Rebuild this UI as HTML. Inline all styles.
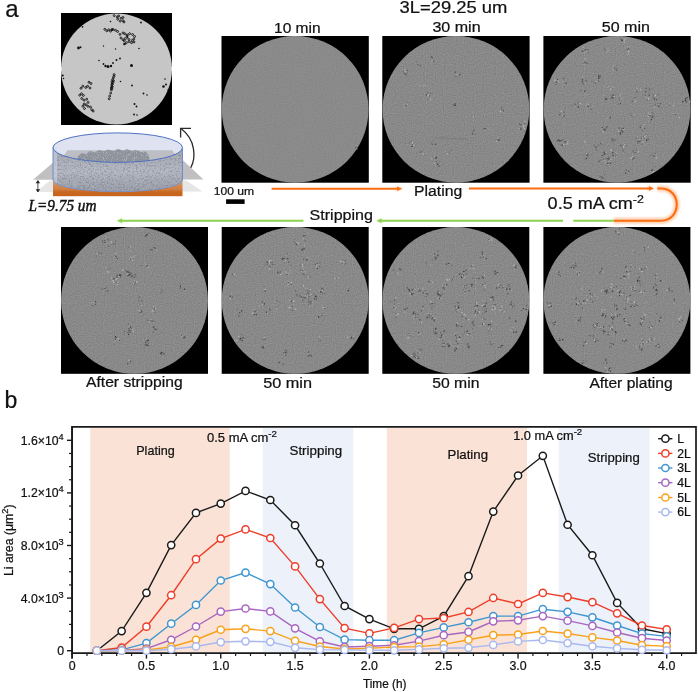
<!DOCTYPE html>
<html><head><meta charset="utf-8"><title>Figure</title>
<style>
html,body{margin:0;padding:0;background:#fff;}
body{width:698px;height:692px;overflow:hidden;}
svg{display:block;}
text{font-family:"Liberation Sans",Arial,sans-serif;fill:#111;stroke:#111;stroke-width:0.22px;}
.serif{font-family:"Liberation Serif","Times New Roman",serif;font-style:italic;stroke-width:0.45px;}
</style></head><body>
<svg width="698" height="692" viewBox="0 0 698 692">
<defs>
<filter id="glow" x="-10%" y="-100%" width="120%" height="300%"><feGaussianBlur stdDeviation="1.1"/></filter>
<filter id="grain" x="0" y="0" width="100%" height="100%" color-interpolation-filters="sRGB"><feTurbulence type="fractalNoise" baseFrequency="0.9" numOctaves="1" seed="3"/><feColorMatrix type="saturate" values="0"/><feComponentTransfer><feFuncA type="linear" slope="0" intercept="1"/></feComponentTransfer><feComposite in2="SourceGraphic" operator="in"/></filter>
</defs>

<text x="5.2" y="17.3" font-size="24" text-anchor="start" >a</text>
<text x="4.6" y="407.5" font-size="23" text-anchor="start" >b</text>
<rect x="61" y="13" width="111" height="112" fill="#000"/>
<circle cx="116.50" cy="69.00" r="55.50" fill="#c6c6c6"/>
<circle cx="114.2" cy="15.6" r="0.95" fill="none" stroke="#111" stroke-width="0.9"/>
<circle cx="117.2" cy="16.9" r="0.95" fill="none" stroke="#111" stroke-width="0.9"/>
<circle cx="118.7" cy="16.0" r="0.95" fill="none" stroke="#111" stroke-width="0.9"/>
<circle cx="121.1" cy="18.3" r="0.95" fill="none" stroke="#111" stroke-width="0.9"/>
<circle cx="123.0" cy="17.5" r="0.95" fill="none" stroke="#111" stroke-width="0.9"/>
<circle cx="117.7" cy="19.2" r="0.95" fill="none" stroke="#111" stroke-width="0.9"/>
<circle cx="120.2" cy="21.1" r="0.95" fill="none" stroke="#111" stroke-width="0.9"/>
<circle cx="122.9" cy="20.7" r="0.95" fill="none" stroke="#111" stroke-width="0.9"/>
<circle cx="124.0" cy="22.0" r="0.95" fill="none" stroke="#111" stroke-width="0.9"/>
<circle cx="104.8" cy="29.3" r="0.95" fill="none" stroke="#111" stroke-width="0.9"/>
<circle cx="106.8" cy="30.8" r="0.95" fill="none" stroke="#111" stroke-width="0.9"/>
<circle cx="108.8" cy="29.8" r="0.95" fill="none" stroke="#111" stroke-width="0.9"/>
<circle cx="110.6" cy="31.2" r="0.95" fill="none" stroke="#111" stroke-width="0.9"/>
<circle cx="113.0" cy="29.5" r="0.95" fill="none" stroke="#111" stroke-width="0.9"/>
<circle cx="115.5" cy="30.3" r="0.95" fill="none" stroke="#111" stroke-width="0.9"/>
<circle cx="117.6" cy="31.5" r="0.95" fill="none" stroke="#111" stroke-width="0.9"/>
<circle cx="112.0" cy="29.6" r="1.3" fill="#111"/>
<circle cx="120.0" cy="34.4" r="0.95" fill="none" stroke="#111" stroke-width="0.9"/>
<circle cx="123.1" cy="32.9" r="0.95" fill="none" stroke="#111" stroke-width="0.9"/>
<circle cx="124.8" cy="33.7" r="0.95" fill="none" stroke="#111" stroke-width="0.9"/>
<circle cx="127.0" cy="36.0" r="0.95" fill="none" stroke="#111" stroke-width="0.9"/>
<circle cx="125.4" cy="38.5" r="0.95" fill="none" stroke="#111" stroke-width="0.9"/>
<circle cx="123.1" cy="39.7" r="0.95" fill="none" stroke="#111" stroke-width="0.9"/>
<circle cx="121.0" cy="38.0" r="0.95" fill="none" stroke="#111" stroke-width="0.9"/>
<circle cx="127.3" cy="35.1" r="0.95" fill="none" stroke="#111" stroke-width="0.9"/>
<circle cx="129.6" cy="33.7" r="0.95" fill="none" stroke="#111" stroke-width="0.9"/>
<circle cx="132.6" cy="34.5" r="0.95" fill="none" stroke="#111" stroke-width="0.9"/>
<circle cx="134.6" cy="36.5" r="0.95" fill="none" stroke="#111" stroke-width="0.9"/>
<circle cx="133.8" cy="39.1" r="0.95" fill="none" stroke="#111" stroke-width="0.9"/>
<circle cx="132.3" cy="40.5" r="0.95" fill="none" stroke="#111" stroke-width="0.9"/>
<circle cx="129.0" cy="39.5" r="0.95" fill="none" stroke="#111" stroke-width="0.9"/>
<circle cx="124.2" cy="40.7" r="0.95" fill="none" stroke="#111" stroke-width="0.9"/>
<circle cx="126.4" cy="42.7" r="0.95" fill="none" stroke="#111" stroke-width="0.9"/>
<circle cx="129.0" cy="41.6" r="0.95" fill="none" stroke="#111" stroke-width="0.9"/>
<circle cx="131.5" cy="42.7" r="0.95" fill="none" stroke="#111" stroke-width="0.9"/>
<circle cx="134.0" cy="42.0" r="0.95" fill="none" stroke="#111" stroke-width="0.9"/>
<circle cx="124.5" cy="44.0" r="1.3" fill="#111"/>
<circle cx="127.5" cy="37.5" r="0.9" fill="#111"/>
<circle cx="78.5" cy="48.0" r="1.4" fill="#111"/>
<circle cx="80.5" cy="47.2" r="1.0" fill="#111"/>
<circle cx="82.5" cy="26.8" r="0.9" fill="#111"/>
<circle cx="110.5" cy="21.5" r="0.8" fill="#111"/>
<circle cx="141.0" cy="22.5" r="0.9" fill="#111"/>
<circle cx="99.0" cy="60.5" r="0.8" fill="#111"/>
<circle cx="103.5" cy="64.0" r="0.9" fill="#111"/>
<circle cx="105.5" cy="66.0" r="1.2" fill="#111"/>
<circle cx="108.0" cy="66.5" r="1.5" fill="#111"/>
<circle cx="111.0" cy="66.0" r="1.2" fill="#111"/>
<circle cx="113.0" cy="63.0" r="0.9" fill="#111"/>
<circle cx="116.5" cy="60.0" r="1.0" fill="#111"/>
<circle cx="120.0" cy="58.5" r="0.9" fill="#111"/>
<circle cx="131.5" cy="65.5" r="1.5" fill="#111"/>
<circle cx="120.5" cy="81.5" r="0.8" fill="#111"/>
<circle cx="132.0" cy="85.5" r="0.9" fill="#111"/>
<circle cx="143.5" cy="93.5" r="0.9" fill="#111"/>
<circle cx="147.0" cy="95.0" r="0.8" fill="#111"/>
<circle cx="163.5" cy="86.5" r="1.3" fill="#111"/>
<circle cx="166.0" cy="84.5" r="1.0" fill="#111"/>
<circle cx="62.8" cy="75.5" r="1.0" fill="#111"/>
<circle cx="63.5" cy="78.5" r="0.8" fill="#111"/>
<circle cx="134.5" cy="104.0" r="1.0" fill="#111"/>
<circle cx="136.5" cy="106.5" r="0.9" fill="#111"/>
<circle cx="134.0" cy="114.5" r="0.9" fill="#111"/>
<circle cx="137.0" cy="115.0" r="0.8" fill="#111"/>
<circle cx="103.5" cy="46.0" r="0.7" fill="#111"/>
<circle cx="115.5" cy="49.0" r="0.7" fill="#111"/>
<circle cx="139.0" cy="48.5" r="0.8" fill="#111"/>
<circle cx="165.0" cy="79.0" r="0.8" fill="#111"/>
<circle cx="168.0" cy="90.0" r="0.8" fill="#111"/>
<circle cx="114.1" cy="74.6" r="0.95" fill="none" stroke="#111" stroke-width="0.9"/>
<circle cx="114.0" cy="76.3" r="0.95" fill="none" stroke="#111" stroke-width="0.9"/>
<circle cx="113.2" cy="78.0" r="0.95" fill="none" stroke="#111" stroke-width="0.9"/>
<circle cx="113.5" cy="80.8" r="0.95" fill="none" stroke="#111" stroke-width="0.9"/>
<circle cx="112.9" cy="82.5" r="0.95" fill="none" stroke="#111" stroke-width="0.9"/>
<circle cx="112.3" cy="84.2" r="0.95" fill="none" stroke="#111" stroke-width="0.9"/>
<circle cx="112.3" cy="86.8" r="0.95" fill="none" stroke="#111" stroke-width="0.9"/>
<circle cx="111.8" cy="88.6" r="0.95" fill="none" stroke="#111" stroke-width="0.9"/>
<circle cx="111.4" cy="89.9" r="0.95" fill="none" stroke="#111" stroke-width="0.9"/>
<circle cx="110.7" cy="93.1" r="0.95" fill="none" stroke="#111" stroke-width="0.9"/>
<circle cx="109.7" cy="96.1" r="0.95" fill="none" stroke="#111" stroke-width="0.9"/>
<circle cx="109.2" cy="98.8" r="0.95" fill="none" stroke="#111" stroke-width="0.9"/>
<circle cx="112.5" cy="79.9" r="0.95" fill="none" stroke="#111" stroke-width="0.9"/>
<circle cx="111.9" cy="81.9" r="0.95" fill="none" stroke="#111" stroke-width="0.9"/>
<circle cx="111.9" cy="84.4" r="0.95" fill="none" stroke="#111" stroke-width="0.9"/>
<circle cx="111.8" cy="86.3" r="0.95" fill="none" stroke="#111" stroke-width="0.9"/>
<circle cx="111.3" cy="88.0" r="0.95" fill="none" stroke="#111" stroke-width="0.9"/>
<circle cx="79.7" cy="95.2" r="0.95" fill="none" stroke="#111" stroke-width="0.9"/>
<circle cx="81.5" cy="93.7" r="0.95" fill="none" stroke="#111" stroke-width="0.9"/>
<circle cx="83.4" cy="95.4" r="0.95" fill="none" stroke="#111" stroke-width="0.9"/>
<circle cx="81.8" cy="98.5" r="0.95" fill="none" stroke="#111" stroke-width="0.9"/>
<circle cx="84.1" cy="100.2" r="0.95" fill="none" stroke="#111" stroke-width="0.9"/>
<circle cx="86.7" cy="99.2" r="0.95" fill="none" stroke="#111" stroke-width="0.9"/>
<circle cx="88.1" cy="102.4" r="0.95" fill="none" stroke="#111" stroke-width="0.9"/>
<circle cx="86.0" cy="104.7" r="0.95" fill="none" stroke="#111" stroke-width="0.9"/>
<circle cx="88.0" cy="106.3" r="0.95" fill="none" stroke="#111" stroke-width="0.9"/>
<circle cx="90.5" cy="107.1" r="0.95" fill="none" stroke="#111" stroke-width="0.9"/>
<circle cx="91.8" cy="109.7" r="0.95" fill="none" stroke="#111" stroke-width="0.9"/>
<circle cx="93.2" cy="111.0" r="0.95" fill="none" stroke="#111" stroke-width="0.9"/>
<circle cx="81.0" cy="88.3" r="0.95" fill="none" stroke="#111" stroke-width="0.9"/>
<circle cx="82.8" cy="86.2" r="0.95" fill="none" stroke="#111" stroke-width="0.9"/>
<circle cx="85.8" cy="87.4" r="0.95" fill="none" stroke="#111" stroke-width="0.9"/>
<circle cx="87.6" cy="86.3" r="0.95" fill="none" stroke="#111" stroke-width="0.9"/>
<circle cx="90.0" cy="88.0" r="0.95" fill="none" stroke="#111" stroke-width="0.9"/>
<circle cx="84.1" cy="104.1" r="0.95" fill="none" stroke="#111" stroke-width="0.9"/>
<circle cx="82.9" cy="106.2" r="0.95" fill="none" stroke="#111" stroke-width="0.9"/>
<circle cx="84.5" cy="108.5" r="0.95" fill="none" stroke="#111" stroke-width="0.9"/>
<circle cx="89.0" cy="82.2" r="0.95" fill="none" stroke="#111" stroke-width="0.9"/>
<circle cx="91.0" cy="83.5" r="0.95" fill="none" stroke="#111" stroke-width="0.9"/>
<rect x="61" y="67" width="1" height="4" fill="#ddd"/><rect x="171" y="67" width="1" height="4" fill="#ddd"/>
<g id="cyl">
<defs>
<filter id="dep" x="0" y="0" width="100%" height="100%" color-interpolation-filters="sRGB"><feTurbulence type="fractalNoise" baseFrequency="0.55" numOctaves="2" seed="5"/><feColorMatrix type="matrix" values="0 0 0 0 0.42  0 0 0 0 0.44  0 0 0 0 0.49  -6 0 0 0 2.9"/><feGaussianBlur stdDeviation="0.45"/><feComposite in2="SourceGraphic" operator="in"/></filter>
<filter id="dep2" x="0" y="0" width="100%" height="100%" color-interpolation-filters="sRGB"><feTurbulence type="fractalNoise" baseFrequency="0.9" numOctaves="2" seed="9"/><feColorMatrix type="matrix" values="0 0 0 0 0.85  0 0 0 0 0.87  0 0 0 0 0.9  8 0 0 0 -4.7"/><feGaussianBlur stdDeviation="0.3"/><feComposite in2="SourceGraphic" operator="in"/></filter>
<linearGradient id="cu" x1="0" y1="0" x2="0" y2="1"><stop offset="0" stop-color="#d99c6a"/><stop offset="0.6" stop-color="#d07e42"/><stop offset="0.75" stop-color="#c8681f"/><stop offset="1" stop-color="#c6631c"/></linearGradient>
<linearGradient id="depg" x1="0" y1="0" x2="0" y2="1"><stop offset="0" stop-color="#9ea2ab"/><stop offset="0.25" stop-color="#a9adb7"/><stop offset="0.5" stop-color="#b3b7c1"/><stop offset="0.75" stop-color="#a2a6b0"/><stop offset="1" stop-color="#989ca6"/></linearGradient>
<clipPath id="cylclip"><path d="M53,147.65 A64.75,14.75 0 0 1 182.5,147.65 L182.5,180 A64.75,11.7 0 0 1 53,180 Z"/></clipPath>
</defs>
<polygon points="33,179.8 67.5,150.2 172.2,150.2 203.5,179.6" fill="#c0c0c0"/>
<polygon points="36,192 50,180.6 186,180.6 202.5,191.5" fill="#e6e6e6"/>
<rect x="53" y="179" width="129.5" height="17.2" fill="url(#cu)"/>
<g clip-path="url(#cylclip)">
<rect x="53" y="132" width="130" height="62" fill="#dfe3f1"/>
<polygon points="40,190 67.5,150.2 172.2,150.2 200,190" fill="#bdbec3"/>
<path d="M76,165 L78,156 L82,153 L86,154 L90,151 L95,152.5 L99,150 L104,151.5 L108,149.5 L113,151 L118,149 L123,150.5 L127,149.2 L132,151 L136,150 L141,152 L146,151.5 L149,156 L150,165Z" fill="#8f939b"/>
<path d="M76,165 L78,156 L82,153 L86,154 L90,151 L95,152.5 L99,150 L104,151.5 L108,149.5 L113,151 L118,149 L123,150.5 L127,149.2 L132,151 L136,150 L141,152 L146,151.5 L149,156 L150,165Z" fill="#000" filter="url(#dep2)" opacity="0.45"/>
<path d="M53,147.65 A64.75,14.75 0 0 0 182.5,147.65 L182.5,195 L53,195Z" fill="url(#depg)"/>
<path d="M53,147.65 A64.75,14.75 0 0 0 182.5,147.65 L182.5,195 L53,195Z" fill="#000" filter="url(#dep)" opacity="0.38"/>
<path d="M53,147.65 A64.75,14.75 0 0 0 182.5,147.65 L182.5,195 L53,195Z" fill="#000" filter="url(#dep2)" opacity="0.28"/>
<rect x="53" y="147" width="4" height="40" fill="#d5dbee" opacity="0.5"/>
</g>
<ellipse cx="117.75" cy="147.65" rx="64.75" ry="14.75" fill="none" stroke="#4f70c2" stroke-width="1"/>
<path d="M53,147.65 L53,180" stroke="#6582c8" stroke-width="0.9" fill="none"/>
<path d="M182.5,147.65 L182.5,180" stroke="#6582c8" stroke-width="0.9" fill="none"/>
<path d="M53,180 A64.75,11.7 0 0 0 182.5,180" stroke="#6f8acb" stroke-width="0.8" fill="none"/>
<path d="M37.9,181.5 L37.9,191" stroke="#222" stroke-width="0.8"/>
<path d="M36.2,183.2 L37.9,180.5 L39.6,183.2 M36.2,189.3 L37.9,192 L39.6,189.3" stroke="#222" stroke-width="0.8" fill="#222"/>
<path d="M190.7,167.7 C196,158 196,140 181,128.6" stroke="#2a2a2a" stroke-width="1.3" fill="none"/>
<path d="M191,128.4 L180.6,128.4 L180.6,137.4" stroke="#2a2a2a" stroke-width="1.3" fill="none"/>
</g>
<text class="serif" x="28.5" y="211.4" font-size="16" textLength="68" lengthAdjust="spacingAndGlyphs">L=9.75 um</text>
<rect x="221.5" y="36" width="147.3" height="146.7" fill="#000"/>
<circle cx="295.15" cy="109.35" r="73.35" fill="#8c8c8c"/>
<circle cx="295.15" cy="109.35" r="73.35" fill="#808080" filter="url(#grain)" opacity="0.12"/>
<rect x="382.3" y="36" width="147.3" height="146.7" fill="#000"/>
<circle cx="455.95" cy="109.35" r="73.35" fill="#8c8c8c"/>
<circle cx="455.95" cy="109.35" r="73.35" fill="#808080" filter="url(#grain)" opacity="0.22"/>
<rect x="430.1" y="93.2" width="1.0" height="1.0" fill="#585858"/>
<rect x="425.8" y="94.3" width="1.1" height="1.1" fill="#3a3a3a"/>
<rect x="428.5" y="95.0" width="1.3" height="1.3" fill="#585858"/>
<rect x="429.6" y="96.6" width="1.0" height="1.0" fill="#666666"/>
<rect x="428.0" y="94.3" width="1.3" height="1.3" fill="#b4b4b4"/>
<rect x="427.3" y="92.2" width="1.1" height="1.1" fill="#585858"/>
<rect x="427.3" y="95.0" width="1.3" height="1.3" fill="#a8a8a8"/>
<rect x="453.3" y="105.0" width="0.8" height="0.8" fill="#585858"/>
<rect x="455.2" y="104.5" width="1.0" height="1.0" fill="#666666"/>
<rect x="453.4" y="104.9" width="1.0" height="1.0" fill="#585858"/>
<rect x="454.8" y="103.1" width="1.0" height="1.0" fill="#585858"/>
<rect x="453.8" y="103.6" width="0.8" height="0.8" fill="#3a3a3a"/>
<rect x="454.6" y="104.6" width="1.3" height="1.3" fill="#3a3a3a"/>
<rect x="432.0" y="57.1" width="1.0" height="1.0" fill="#4a4a4a"/>
<rect x="430.7" y="56.3" width="1.3" height="1.3" fill="#4a4a4a"/>
<rect x="431.8" y="60.2" width="1.1" height="1.1" fill="#b4b4b4"/>
<rect x="432.9" y="60.5" width="1.1" height="1.1" fill="#4a4a4a"/>
<rect x="430.4" y="62.6" width="0.8" height="0.8" fill="#b4b4b4"/>
<rect x="431.0" y="60.8" width="0.8" height="0.8" fill="#585858"/>
<rect x="431.0" y="61.0" width="1.0" height="1.0" fill="#a8a8a8"/>
<rect x="409.2" y="142.1" width="1.0" height="1.0" fill="#666666"/>
<rect x="410.7" y="141.6" width="1.1" height="1.1" fill="#b4b4b4"/>
<rect x="411.3" y="145.7" width="1.3" height="1.3" fill="#3a3a3a"/>
<rect x="411.8" y="141.4" width="1.0" height="1.0" fill="#b4b4b4"/>
<rect x="412.3" y="144.0" width="0.8" height="0.8" fill="#4a4a4a"/>
<rect x="410.7" y="141.2" width="1.1" height="1.1" fill="#4a4a4a"/>
<rect x="413.2" y="144.8" width="1.1" height="1.1" fill="#c0c0c0"/>
<rect x="411.7" y="142.2" width="1.3" height="1.3" fill="#c0c0c0"/>
<rect x="458.9" y="73.9" width="1.3" height="1.3" fill="#3a3a3a"/>
<rect x="456.0" y="76.6" width="0.8" height="0.8" fill="#666666"/>
<rect x="458.4" y="73.7" width="0.8" height="0.8" fill="#c0c0c0"/>
<rect x="454.9" y="71.7" width="1.0" height="1.0" fill="#3a3a3a"/>
<rect x="459.4" y="74.8" width="0.8" height="0.8" fill="#666666"/>
<rect x="454.9" y="76.3" width="1.0" height="1.0" fill="#666666"/>
<rect x="456.4" y="74.2" width="1.1" height="1.1" fill="#a8a8a8"/>
<rect x="483.6" y="128.0" width="1.0" height="1.0" fill="#3a3a3a"/>
<rect x="487.6" y="128.5" width="1.0" height="1.0" fill="#a8a8a8"/>
<rect x="485.5" y="128.2" width="1.0" height="1.0" fill="#666666"/>
<rect x="484.8" y="128.4" width="0.8" height="0.8" fill="#3a3a3a"/>
<rect x="500.8" y="106.8" width="0.8" height="0.8" fill="#585858"/>
<rect x="500.8" y="108.5" width="1.3" height="1.3" fill="#666666"/>
<rect x="502.9" y="110.1" width="1.1" height="1.1" fill="#4a4a4a"/>
<rect x="499.9" y="110.8" width="1.3" height="1.3" fill="#c0c0c0"/>
<rect x="471.7" y="132.9" width="1.1" height="1.1" fill="#4a4a4a"/>
<rect x="472.5" y="133.2" width="1.1" height="1.1" fill="#3a3a3a"/>
<rect x="472.8" y="131.3" width="1.1" height="1.1" fill="#585858"/>
<rect x="473.3" y="129.4" width="1.3" height="1.3" fill="#585858"/>
<rect x="473.0" y="132.4" width="1.1" height="1.1" fill="#a8a8a8"/>
<rect x="474.5" y="133.0" width="0.8" height="0.8" fill="#666666"/>
<rect x="470.9" y="115.2" width="1.3" height="1.3" fill="#4a4a4a"/>
<rect x="470.2" y="115.0" width="1.3" height="1.3" fill="#a8a8a8"/>
<rect x="472.7" y="116.0" width="1.3" height="1.3" fill="#b4b4b4"/>
<rect x="403.7" y="105.8" width="0.8" height="0.8" fill="#b4b4b4"/>
<rect x="406.5" y="104.0" width="1.3" height="1.3" fill="#a8a8a8"/>
<rect x="405.6" y="105.2" width="1.1" height="1.1" fill="#4a4a4a"/>
<rect x="406.9" y="101.5" width="0.8" height="0.8" fill="#666666"/>
<rect x="496.0" y="140.3" width="1.3" height="1.3" fill="#b4b4b4"/>
<rect x="497.7" y="139.1" width="1.3" height="1.3" fill="#4a4a4a"/>
<rect x="499.2" y="139.2" width="0.8" height="0.8" fill="#c0c0c0"/>
<rect x="499.2" y="138.6" width="1.0" height="1.0" fill="#585858"/>
<rect x="496.7" y="139.1" width="1.0" height="1.0" fill="#3a3a3a"/>
<rect x="499.0" y="139.9" width="1.0" height="1.0" fill="#3a3a3a"/>
<rect x="497.3" y="138.3" width="1.1" height="1.1" fill="#b4b4b4"/>
<rect x="499.7" y="140.9" width="0.8" height="0.8" fill="#b4b4b4"/>
<rect x="430.1" y="96.7" width="1.0" height="1.0" fill="#a8a8a8"/>
<rect x="430.0" y="98.8" width="1.3" height="1.3" fill="#b4b4b4"/>
<rect x="427.5" y="99.1" width="1.1" height="1.1" fill="#666666"/>
<rect x="435.1" y="157.7" width="1.3" height="1.3" fill="#4a4a4a"/>
<rect x="432.8" y="157.5" width="0.8" height="0.8" fill="#666666"/>
<rect x="434.5" y="155.7" width="1.0" height="1.0" fill="#c0c0c0"/>
<rect x="431.2" y="158.3" width="1.0" height="1.0" fill="#c0c0c0"/>
<rect x="435.6" y="156.5" width="1.3" height="1.3" fill="#3a3a3a"/>
<rect x="436.3" y="161.3" width="1.1" height="1.1" fill="#4a4a4a"/>
<rect x="438.5" y="165.5" width="1.1" height="1.1" fill="#4a4a4a"/>
<rect x="438.9" y="161.4" width="1.0" height="1.0" fill="#666666"/>
<rect x="437.2" y="161.1" width="1.1" height="1.1" fill="#c0c0c0"/>
<rect x="434.3" y="162.9" width="1.0" height="1.0" fill="#c0c0c0"/>
<rect x="436.9" y="163.7" width="1.3" height="1.3" fill="#3a3a3a"/>
<rect x="437.1" y="160.8" width="0.8" height="0.8" fill="#585858"/>
<rect x="435.2" y="143.7" width="1.3" height="1.3" fill="#4a4a4a"/>
<rect x="432.3" y="143.7" width="1.0" height="1.0" fill="#4a4a4a"/>
<rect x="431.2" y="142.5" width="0.8" height="0.8" fill="#4a4a4a"/>
<rect x="419.4" y="151.6" width="1.1" height="1.1" fill="#585858"/>
<rect x="421.2" y="151.5" width="1.0" height="1.0" fill="#3a3a3a"/>
<rect x="422.8" y="153.4" width="1.0" height="1.0" fill="#c0c0c0"/>
<rect x="421.4" y="152.5" width="1.1" height="1.1" fill="#a8a8a8"/>
<rect x="450.3" y="153.2" width="0.8" height="0.8" fill="#a8a8a8"/>
<rect x="448.4" y="151.8" width="0.8" height="0.8" fill="#666666"/>
<rect x="446.9" y="153.3" width="1.3" height="1.3" fill="#b4b4b4"/>
<rect x="449.7" y="152.8" width="0.8" height="0.8" fill="#4a4a4a"/>
<rect x="451.7" y="151.0" width="0.8" height="0.8" fill="#b4b4b4"/>
<rect x="451.6" y="149.7" width="1.0" height="1.0" fill="#666666"/>
<rect x="450.7" y="151.2" width="1.1" height="1.1" fill="#a8a8a8"/>
<rect x="450.7" y="150.5" width="1.0" height="1.0" fill="#585858"/>
<rect x="524.2" y="130.7" width="0.8" height="0.8" fill="#4a4a4a"/>
<rect x="520.8" y="127.8" width="0.8" height="0.8" fill="#4a4a4a"/>
<rect x="523.8" y="128.2" width="1.3" height="1.3" fill="#b4b4b4"/>
<rect x="520.4" y="128.9" width="1.1" height="1.1" fill="#3a3a3a"/>
<rect x="522.7" y="125.0" width="1.3" height="1.3" fill="#a8a8a8"/>
<rect x="520.2" y="127.5" width="1.0" height="1.0" fill="#585858"/>
<rect x="520.5" y="126.5" width="0.8" height="0.8" fill="#a8a8a8"/>
<rect x="518.9" y="128.0" width="1.0" height="1.0" fill="#a8a8a8"/>
<rect x="416.8" y="64.5" width="1.3" height="1.3" fill="#b4b4b4"/>
<rect x="415.8" y="61.6" width="1.0" height="1.0" fill="#666666"/>
<rect x="419.6" y="65.2" width="1.1" height="1.1" fill="#4a4a4a"/>
<rect x="416.9" y="64.1" width="1.3" height="1.3" fill="#585858"/>
<rect x="407.1" y="72.4" width="0.8" height="0.8" fill="#666666"/>
<rect x="407.2" y="70.2" width="0.8" height="0.8" fill="#3a3a3a"/>
<rect x="405.3" y="71.3" width="0.8" height="0.8" fill="#585858"/>
<rect x="404.7" y="71.0" width="1.3" height="1.3" fill="#b4b4b4"/>
<rect x="404.0" y="68.9" width="1.0" height="1.0" fill="#b4b4b4"/>
<rect x="405.3" y="73.4" width="1.1" height="1.1" fill="#4a4a4a"/>
<rect x="405.6" y="74.4" width="1.0" height="1.0" fill="#585858"/>
<rect x="402.7" y="71.1" width="0.8" height="0.8" fill="#585858"/>
<rect x="403.9" y="72.8" width="1.0" height="1.0" fill="#4a4a4a"/>
<rect x="422.9" y="85.5" width="1.0" height="1.0" fill="#a8a8a8"/>
<rect x="419.2" y="85.3" width="1.3" height="1.3" fill="#a8a8a8"/>
<rect x="424.7" y="85.1" width="1.1" height="1.1" fill="#a8a8a8"/>
<rect x="522.7" y="125.7" width="0.8" height="0.8" fill="#b4b4b4"/>
<rect x="520.9" y="125.5" width="1.0" height="1.0" fill="#666666"/>
<rect x="524.3" y="122.6" width="1.1" height="1.1" fill="#3a3a3a"/>
<rect x="520.7" y="124.0" width="1.0" height="1.0" fill="#3a3a3a"/>
<rect x="524.2" y="126.6" width="1.0" height="1.0" fill="#585858"/>
<rect x="523.3" y="126.2" width="1.3" height="1.3" fill="#c0c0c0"/>
<rect x="524.2" y="121.3" width="1.3" height="1.3" fill="#c0c0c0"/>
<rect x="519.0" y="123.6" width="1.1" height="1.1" fill="#4a4a4a"/>
<rect x="543.4" y="36" width="147.3" height="146.7" fill="#000"/>
<circle cx="617.05" cy="109.35" r="73.35" fill="#8c8c8c"/>
<circle cx="617.05" cy="109.35" r="73.35" fill="#808080" filter="url(#grain)" opacity="0.22"/>
<rect x="604.1" y="152.2" width="1.3" height="1.3" fill="#3a3a3a"/>
<rect x="605.0" y="151.2" width="1.0" height="1.0" fill="#666666"/>
<rect x="603.5" y="153.9" width="0.8" height="0.8" fill="#4a4a4a"/>
<rect x="604.0" y="152.1" width="1.0" height="1.0" fill="#4a4a4a"/>
<rect x="603.7" y="153.3" width="1.3" height="1.3" fill="#4a4a4a"/>
<rect x="603.0" y="151.3" width="1.3" height="1.3" fill="#666666"/>
<rect x="605.3" y="151.5" width="1.3" height="1.3" fill="#b4b4b4"/>
<rect x="604.9" y="153.7" width="1.0" height="1.0" fill="#666666"/>
<rect x="597.8" y="144.6" width="1.3" height="1.3" fill="#666666"/>
<rect x="600.1" y="143.2" width="1.0" height="1.0" fill="#4a4a4a"/>
<rect x="593.9" y="144.5" width="1.0" height="1.0" fill="#585858"/>
<rect x="595.2" y="146.4" width="1.3" height="1.3" fill="#4a4a4a"/>
<rect x="595.8" y="149.2" width="1.3" height="1.3" fill="#666666"/>
<rect x="647.9" y="98.2" width="1.3" height="1.3" fill="#a8a8a8"/>
<rect x="646.4" y="97.4" width="0.8" height="0.8" fill="#c0c0c0"/>
<rect x="648.1" y="97.9" width="1.0" height="1.0" fill="#c0c0c0"/>
<rect x="646.5" y="99.6" width="1.3" height="1.3" fill="#666666"/>
<rect x="648.1" y="98.5" width="1.0" height="1.0" fill="#b4b4b4"/>
<rect x="648.6" y="94.5" width="1.3" height="1.3" fill="#4a4a4a"/>
<rect x="622.2" y="129.2" width="1.3" height="1.3" fill="#c0c0c0"/>
<rect x="620.0" y="131.9" width="1.3" height="1.3" fill="#4a4a4a"/>
<rect x="619.1" y="126.9" width="0.8" height="0.8" fill="#4a4a4a"/>
<rect x="619.8" y="133.6" width="1.0" height="1.0" fill="#3a3a3a"/>
<rect x="581.8" y="50.4" width="1.3" height="1.3" fill="#3a3a3a"/>
<rect x="585.3" y="49.3" width="1.0" height="1.0" fill="#666666"/>
<rect x="582.7" y="47.1" width="0.8" height="0.8" fill="#c0c0c0"/>
<rect x="584.6" y="49.2" width="1.3" height="1.3" fill="#4a4a4a"/>
<rect x="618.1" y="103.5" width="1.0" height="1.0" fill="#585858"/>
<rect x="620.1" y="103.1" width="1.0" height="1.0" fill="#3a3a3a"/>
<rect x="618.8" y="99.3" width="0.8" height="0.8" fill="#4a4a4a"/>
<rect x="628.2" y="50.4" width="1.3" height="1.3" fill="#c0c0c0"/>
<rect x="627.1" y="49.3" width="1.1" height="1.1" fill="#4a4a4a"/>
<rect x="627.7" y="52.9" width="1.3" height="1.3" fill="#a8a8a8"/>
<rect x="626.3" y="49.3" width="0.8" height="0.8" fill="#666666"/>
<rect x="627.4" y="50.6" width="1.3" height="1.3" fill="#b4b4b4"/>
<rect x="629.5" y="46.4" width="0.8" height="0.8" fill="#c0c0c0"/>
<rect x="629.5" y="50.0" width="0.8" height="0.8" fill="#666666"/>
<rect x="626.5" y="46.1" width="1.0" height="1.0" fill="#b4b4b4"/>
<rect x="628.0" y="48.1" width="1.0" height="1.0" fill="#4a4a4a"/>
<rect x="613.9" y="95.7" width="1.0" height="1.0" fill="#b4b4b4"/>
<rect x="612.6" y="94.5" width="1.0" height="1.0" fill="#585858"/>
<rect x="613.9" y="94.3" width="1.0" height="1.0" fill="#666666"/>
<rect x="611.6" y="95.6" width="1.0" height="1.0" fill="#4a4a4a"/>
<rect x="612.6" y="94.7" width="0.8" height="0.8" fill="#3a3a3a"/>
<rect x="611.7" y="97.0" width="0.8" height="0.8" fill="#4a4a4a"/>
<rect x="612.5" y="97.1" width="1.3" height="1.3" fill="#3a3a3a"/>
<rect x="610.6" y="97.7" width="1.3" height="1.3" fill="#585858"/>
<rect x="613.2" y="96.4" width="0.8" height="0.8" fill="#c0c0c0"/>
<rect x="560.6" y="110.6" width="1.3" height="1.3" fill="#c0c0c0"/>
<rect x="559.3" y="114.4" width="1.0" height="1.0" fill="#3a3a3a"/>
<rect x="559.5" y="111.7" width="0.8" height="0.8" fill="#666666"/>
<rect x="612.5" y="68.8" width="1.1" height="1.1" fill="#a8a8a8"/>
<rect x="613.1" y="65.6" width="1.0" height="1.0" fill="#b4b4b4"/>
<rect x="616.0" y="69.7" width="1.3" height="1.3" fill="#666666"/>
<rect x="614.2" y="67.2" width="1.0" height="1.0" fill="#585858"/>
<rect x="616.1" y="68.3" width="1.1" height="1.1" fill="#666666"/>
<rect x="612.1" y="69.1" width="0.8" height="0.8" fill="#a8a8a8"/>
<rect x="614.8" y="68.7" width="0.8" height="0.8" fill="#4a4a4a"/>
<rect x="616.4" y="65.0" width="0.8" height="0.8" fill="#666666"/>
<rect x="588.0" y="105.3" width="1.3" height="1.3" fill="#666666"/>
<rect x="592.0" y="105.9" width="1.0" height="1.0" fill="#a8a8a8"/>
<rect x="590.6" y="108.6" width="1.0" height="1.0" fill="#4a4a4a"/>
<rect x="587.4" y="105.9" width="1.1" height="1.1" fill="#4a4a4a"/>
<rect x="585.8" y="104.5" width="0.8" height="0.8" fill="#c0c0c0"/>
<rect x="588.0" y="103.7" width="1.1" height="1.1" fill="#c0c0c0"/>
<rect x="589.9" y="103.6" width="1.0" height="1.0" fill="#585858"/>
<rect x="601.6" y="154.8" width="1.1" height="1.1" fill="#3a3a3a"/>
<rect x="601.0" y="156.6" width="1.1" height="1.1" fill="#585858"/>
<rect x="604.2" y="153.0" width="1.0" height="1.0" fill="#666666"/>
<rect x="601.6" y="154.2" width="0.8" height="0.8" fill="#a8a8a8"/>
<rect x="600.9" y="156.4" width="0.8" height="0.8" fill="#b4b4b4"/>
<rect x="686.3" y="101.5" width="1.0" height="1.0" fill="#3a3a3a"/>
<rect x="685.0" y="98.2" width="1.3" height="1.3" fill="#3a3a3a"/>
<rect x="689.0" y="100.9" width="1.3" height="1.3" fill="#b4b4b4"/>
<rect x="682.1" y="101.0" width="1.3" height="1.3" fill="#3a3a3a"/>
<rect x="685.2" y="101.3" width="0.8" height="0.8" fill="#4a4a4a"/>
<rect x="684.6" y="99.7" width="1.3" height="1.3" fill="#3a3a3a"/>
<rect x="686.4" y="97.0" width="1.3" height="1.3" fill="#4a4a4a"/>
<rect x="619.7" y="95.3" width="1.0" height="1.0" fill="#b4b4b4"/>
<rect x="620.8" y="93.8" width="1.0" height="1.0" fill="#4a4a4a"/>
<rect x="620.5" y="93.5" width="1.1" height="1.1" fill="#c0c0c0"/>
<rect x="618.8" y="97.0" width="1.1" height="1.1" fill="#666666"/>
<rect x="620.4" y="94.4" width="0.8" height="0.8" fill="#b4b4b4"/>
<rect x="620.9" y="97.6" width="1.3" height="1.3" fill="#a8a8a8"/>
<rect x="620.9" y="95.4" width="0.8" height="0.8" fill="#666666"/>
<rect x="633.8" y="97.4" width="0.8" height="0.8" fill="#585858"/>
<rect x="635.0" y="100.6" width="1.0" height="1.0" fill="#b4b4b4"/>
<rect x="632.0" y="101.2" width="1.0" height="1.0" fill="#3a3a3a"/>
<rect x="633.9" y="96.8" width="1.0" height="1.0" fill="#a8a8a8"/>
<rect x="633.8" y="98.5" width="1.0" height="1.0" fill="#666666"/>
<rect x="634.5" y="96.9" width="1.1" height="1.1" fill="#585858"/>
<rect x="634.2" y="101.3" width="1.3" height="1.3" fill="#a8a8a8"/>
<rect x="631.6" y="100.7" width="1.3" height="1.3" fill="#666666"/>
<rect x="634.5" y="98.9" width="0.8" height="0.8" fill="#c0c0c0"/>
<rect x="637.0" y="92.1" width="1.1" height="1.1" fill="#666666"/>
<rect x="635.5" y="89.4" width="1.0" height="1.0" fill="#4a4a4a"/>
<rect x="635.2" y="91.0" width="1.1" height="1.1" fill="#585858"/>
<rect x="636.4" y="89.4" width="1.3" height="1.3" fill="#a8a8a8"/>
<rect x="636.4" y="90.3" width="1.1" height="1.1" fill="#585858"/>
<rect x="640.0" y="89.2" width="1.1" height="1.1" fill="#c0c0c0"/>
<rect x="634.3" y="90.2" width="1.3" height="1.3" fill="#b4b4b4"/>
<rect x="636.0" y="87.6" width="1.3" height="1.3" fill="#a8a8a8"/>
<rect x="651.4" y="88.3" width="0.8" height="0.8" fill="#666666"/>
<rect x="648.1" y="90.8" width="0.8" height="0.8" fill="#666666"/>
<rect x="648.9" y="88.7" width="1.3" height="1.3" fill="#585858"/>
<rect x="586.0" y="153.3" width="1.0" height="1.0" fill="#585858"/>
<rect x="585.6" y="158.0" width="1.3" height="1.3" fill="#4a4a4a"/>
<rect x="586.9" y="154.2" width="1.3" height="1.3" fill="#3a3a3a"/>
<rect x="586.0" y="155.1" width="0.8" height="0.8" fill="#3a3a3a"/>
<rect x="587.5" y="157.2" width="0.8" height="0.8" fill="#3a3a3a"/>
<rect x="585.9" y="153.2" width="1.1" height="1.1" fill="#c0c0c0"/>
<rect x="641.9" y="129.9" width="0.8" height="0.8" fill="#3a3a3a"/>
<rect x="643.0" y="129.3" width="0.8" height="0.8" fill="#a8a8a8"/>
<rect x="644.2" y="128.2" width="1.0" height="1.0" fill="#4a4a4a"/>
<rect x="640.6" y="124.7" width="1.0" height="1.0" fill="#666666"/>
<rect x="644.0" y="127.6" width="0.8" height="0.8" fill="#4a4a4a"/>
<rect x="642.5" y="126.0" width="1.0" height="1.0" fill="#666666"/>
<rect x="642.1" y="126.3" width="1.3" height="1.3" fill="#b4b4b4"/>
<rect x="643.5" y="124.2" width="1.1" height="1.1" fill="#b4b4b4"/>
<rect x="639.7" y="126.8" width="1.1" height="1.1" fill="#4a4a4a"/>
<rect x="639.2" y="139.1" width="1.0" height="1.0" fill="#b4b4b4"/>
<rect x="641.0" y="137.5" width="1.3" height="1.3" fill="#585858"/>
<rect x="642.3" y="137.6" width="0.8" height="0.8" fill="#666666"/>
<rect x="609.8" y="116.7" width="1.1" height="1.1" fill="#3a3a3a"/>
<rect x="609.6" y="118.0" width="1.0" height="1.0" fill="#666666"/>
<rect x="606.7" y="118.0" width="0.8" height="0.8" fill="#c0c0c0"/>
<rect x="588.2" y="52.4" width="0.8" height="0.8" fill="#585858"/>
<rect x="587.2" y="49.0" width="1.3" height="1.3" fill="#666666"/>
<rect x="583.0" y="52.2" width="0.8" height="0.8" fill="#4a4a4a"/>
<rect x="582.3" y="49.3" width="0.8" height="0.8" fill="#b4b4b4"/>
<rect x="583.2" y="51.7" width="0.8" height="0.8" fill="#3a3a3a"/>
<rect x="583.4" y="51.7" width="1.3" height="1.3" fill="#b4b4b4"/>
<rect x="583.4" y="51.0" width="0.8" height="0.8" fill="#666666"/>
<rect x="585.7" y="50.8" width="1.0" height="1.0" fill="#c0c0c0"/>
<rect x="605.5" y="157.9" width="0.8" height="0.8" fill="#4a4a4a"/>
<rect x="599.4" y="160.3" width="0.8" height="0.8" fill="#4a4a4a"/>
<rect x="604.3" y="160.2" width="1.0" height="1.0" fill="#c0c0c0"/>
<rect x="600.0" y="158.7" width="1.0" height="1.0" fill="#c0c0c0"/>
<rect x="603.1" y="158.6" width="1.3" height="1.3" fill="#666666"/>
<rect x="600.2" y="158.8" width="1.1" height="1.1" fill="#b4b4b4"/>
<rect x="600.2" y="159.0" width="1.3" height="1.3" fill="#666666"/>
<rect x="598.6" y="161.0" width="1.0" height="1.0" fill="#4a4a4a"/>
<rect x="579.5" y="102.9" width="1.3" height="1.3" fill="#c0c0c0"/>
<rect x="575.0" y="103.9" width="1.1" height="1.1" fill="#585858"/>
<rect x="578.1" y="101.7" width="1.1" height="1.1" fill="#666666"/>
<rect x="576.9" y="102.1" width="1.3" height="1.3" fill="#c0c0c0"/>
<rect x="577.2" y="102.4" width="1.1" height="1.1" fill="#3a3a3a"/>
<rect x="675.3" y="114.3" width="0.8" height="0.8" fill="#3a3a3a"/>
<rect x="678.5" y="117.3" width="0.8" height="0.8" fill="#4a4a4a"/>
<rect x="678.5" y="116.9" width="1.3" height="1.3" fill="#c0c0c0"/>
<rect x="652.0" y="115.6" width="0.8" height="0.8" fill="#4a4a4a"/>
<rect x="647.5" y="115.9" width="1.0" height="1.0" fill="#a8a8a8"/>
<rect x="649.0" y="114.5" width="1.0" height="1.0" fill="#c0c0c0"/>
<rect x="649.5" y="115.4" width="1.0" height="1.0" fill="#3a3a3a"/>
<rect x="648.2" y="116.3" width="1.0" height="1.0" fill="#c0c0c0"/>
<rect x="652.2" y="112.4" width="1.3" height="1.3" fill="#666666"/>
<rect x="648.0" y="112.8" width="1.1" height="1.1" fill="#a8a8a8"/>
<rect x="649.8" y="114.1" width="0.8" height="0.8" fill="#b4b4b4"/>
<rect x="652.6" y="115.6" width="1.0" height="1.0" fill="#4a4a4a"/>
<rect x="645.5" y="137.1" width="1.0" height="1.0" fill="#c0c0c0"/>
<rect x="643.4" y="135.6" width="1.1" height="1.1" fill="#4a4a4a"/>
<rect x="646.0" y="139.8" width="1.3" height="1.3" fill="#3a3a3a"/>
<rect x="645.4" y="134.9" width="0.8" height="0.8" fill="#c0c0c0"/>
<rect x="646.6" y="136.9" width="0.8" height="0.8" fill="#666666"/>
<rect x="646.3" y="138.7" width="0.8" height="0.8" fill="#585858"/>
<rect x="647.7" y="138.8" width="1.0" height="1.0" fill="#3a3a3a"/>
<rect x="668.8" y="103.3" width="1.3" height="1.3" fill="#a8a8a8"/>
<rect x="666.8" y="102.9" width="0.8" height="0.8" fill="#666666"/>
<rect x="669.2" y="104.7" width="0.8" height="0.8" fill="#3a3a3a"/>
<rect x="672.8" y="105.0" width="1.0" height="1.0" fill="#c0c0c0"/>
<rect x="558.1" y="139.1" width="1.1" height="1.1" fill="#3a3a3a"/>
<rect x="557.9" y="140.4" width="0.8" height="0.8" fill="#3a3a3a"/>
<rect x="560.4" y="139.9" width="1.3" height="1.3" fill="#4a4a4a"/>
<rect x="558.9" y="140.4" width="1.3" height="1.3" fill="#3a3a3a"/>
<rect x="559.3" y="140.6" width="1.1" height="1.1" fill="#666666"/>
<rect x="556.6" y="140.1" width="1.0" height="1.0" fill="#3a3a3a"/>
<rect x="562.0" y="139.4" width="1.1" height="1.1" fill="#666666"/>
<rect x="650.1" y="115.2" width="1.3" height="1.3" fill="#666666"/>
<rect x="651.4" y="116.9" width="1.3" height="1.3" fill="#585858"/>
<rect x="648.5" y="114.9" width="0.8" height="0.8" fill="#3a3a3a"/>
<rect x="611.2" y="149.1" width="1.0" height="1.0" fill="#a8a8a8"/>
<rect x="612.3" y="152.0" width="1.1" height="1.1" fill="#3a3a3a"/>
<rect x="612.7" y="149.1" width="1.0" height="1.0" fill="#666666"/>
<rect x="610.4" y="149.6" width="1.3" height="1.3" fill="#c0c0c0"/>
<rect x="609.1" y="152.4" width="1.3" height="1.3" fill="#a8a8a8"/>
<rect x="609.5" y="152.9" width="0.8" height="0.8" fill="#4a4a4a"/>
<rect x="599.8" y="73.8" width="0.8" height="0.8" fill="#b4b4b4"/>
<rect x="599.6" y="73.6" width="0.8" height="0.8" fill="#a8a8a8"/>
<rect x="598.1" y="77.9" width="0.8" height="0.8" fill="#3a3a3a"/>
<rect x="598.3" y="75.9" width="1.3" height="1.3" fill="#3a3a3a"/>
<rect x="599.6" y="76.8" width="0.8" height="0.8" fill="#666666"/>
<rect x="598.0" y="77.6" width="1.3" height="1.3" fill="#3a3a3a"/>
<rect x="598.1" y="74.7" width="1.0" height="1.0" fill="#3a3a3a"/>
<rect x="599.6" y="74.5" width="1.3" height="1.3" fill="#666666"/>
<rect x="599.8" y="76.1" width="1.3" height="1.3" fill="#666666"/>
<rect x="584.9" y="78.1" width="0.8" height="0.8" fill="#666666"/>
<rect x="581.7" y="76.6" width="1.0" height="1.0" fill="#b4b4b4"/>
<rect x="582.4" y="79.3" width="1.0" height="1.0" fill="#4a4a4a"/>
<rect x="582.2" y="78.5" width="0.8" height="0.8" fill="#3a3a3a"/>
<rect x="583.5" y="77.7" width="1.1" height="1.1" fill="#a8a8a8"/>
<rect x="580.7" y="79.5" width="0.8" height="0.8" fill="#585858"/>
<rect x="583.5" y="83.3" width="1.0" height="1.0" fill="#585858"/>
<rect x="656.4" y="154.8" width="0.8" height="0.8" fill="#a8a8a8"/>
<rect x="650.0" y="155.1" width="0.8" height="0.8" fill="#4a4a4a"/>
<rect x="655.9" y="157.5" width="1.1" height="1.1" fill="#c0c0c0"/>
<rect x="653.2" y="155.6" width="1.3" height="1.3" fill="#585858"/>
<rect x="654.6" y="152.7" width="1.3" height="1.3" fill="#666666"/>
<rect x="623.5" y="128.8" width="1.1" height="1.1" fill="#b4b4b4"/>
<rect x="621.9" y="131.6" width="1.0" height="1.0" fill="#585858"/>
<rect x="621.9" y="130.5" width="1.3" height="1.3" fill="#4a4a4a"/>
<rect x="621.6" y="129.4" width="0.8" height="0.8" fill="#c0c0c0"/>
<rect x="622.7" y="127.8" width="1.3" height="1.3" fill="#4a4a4a"/>
<rect x="622.1" y="149.8" width="0.8" height="0.8" fill="#666666"/>
<rect x="623.5" y="151.4" width="1.1" height="1.1" fill="#4a4a4a"/>
<rect x="623.9" y="150.7" width="0.8" height="0.8" fill="#b4b4b4"/>
<rect x="623.1" y="149.9" width="1.0" height="1.0" fill="#666666"/>
<rect x="622.9" y="152.7" width="0.8" height="0.8" fill="#c0c0c0"/>
<rect x="637.8" y="151.1" width="1.3" height="1.3" fill="#b4b4b4"/>
<rect x="636.5" y="149.0" width="1.1" height="1.1" fill="#4a4a4a"/>
<rect x="632.6" y="150.4" width="1.0" height="1.0" fill="#4a4a4a"/>
<rect x="634.3" y="152.0" width="1.3" height="1.3" fill="#585858"/>
<rect x="637.5" y="148.9" width="1.0" height="1.0" fill="#b4b4b4"/>
<rect x="585.2" y="90.2" width="1.0" height="1.0" fill="#585858"/>
<rect x="580.3" y="90.0" width="0.8" height="0.8" fill="#3a3a3a"/>
<rect x="585.1" y="93.9" width="1.0" height="1.0" fill="#a8a8a8"/>
<rect x="584.0" y="90.8" width="1.0" height="1.0" fill="#3a3a3a"/>
<rect x="583.3" y="61.7" width="1.1" height="1.1" fill="#a8a8a8"/>
<rect x="586.5" y="62.8" width="1.0" height="1.0" fill="#3a3a3a"/>
<rect x="583.4" y="63.8" width="1.0" height="1.0" fill="#c0c0c0"/>
<rect x="584.4" y="61.9" width="1.3" height="1.3" fill="#4a4a4a"/>
<rect x="583.0" y="64.0" width="1.0" height="1.0" fill="#a8a8a8"/>
<rect x="584.7" y="58.5" width="1.3" height="1.3" fill="#b4b4b4"/>
<rect x="583.1" y="63.2" width="1.1" height="1.1" fill="#666666"/>
<rect x="623.0" y="146.4" width="1.3" height="1.3" fill="#c0c0c0"/>
<rect x="625.4" y="145.0" width="1.0" height="1.0" fill="#585858"/>
<rect x="621.9" y="147.7" width="1.0" height="1.0" fill="#585858"/>
<rect x="620.2" y="144.8" width="1.3" height="1.3" fill="#4a4a4a"/>
<rect x="624.1" y="144.2" width="1.1" height="1.1" fill="#c0c0c0"/>
<rect x="658.8" y="105.8" width="1.0" height="1.0" fill="#585858"/>
<rect x="654.4" y="104.2" width="1.1" height="1.1" fill="#585858"/>
<rect x="657.1" y="103.4" width="1.1" height="1.1" fill="#585858"/>
<rect x="653.9" y="106.9" width="1.1" height="1.1" fill="#b4b4b4"/>
<rect x="657.9" y="103.9" width="1.1" height="1.1" fill="#a8a8a8"/>
<rect x="657.9" y="105.6" width="1.1" height="1.1" fill="#3a3a3a"/>
<rect x="659.9" y="103.3" width="1.0" height="1.0" fill="#3a3a3a"/>
<rect x="619.5" y="133.1" width="1.3" height="1.3" fill="#585858"/>
<rect x="621.3" y="128.5" width="1.0" height="1.0" fill="#4a4a4a"/>
<rect x="621.2" y="129.9" width="1.3" height="1.3" fill="#585858"/>
<rect x="617.9" y="130.4" width="1.1" height="1.1" fill="#b4b4b4"/>
<rect x="618.8" y="127.9" width="0.8" height="0.8" fill="#3a3a3a"/>
<rect x="639.4" y="140.4" width="1.3" height="1.3" fill="#666666"/>
<rect x="635.9" y="141.7" width="1.0" height="1.0" fill="#b4b4b4"/>
<rect x="637.4" y="141.9" width="1.0" height="1.0" fill="#585858"/>
<rect x="636.9" y="141.0" width="1.3" height="1.3" fill="#585858"/>
<rect x="635.7" y="137.9" width="1.1" height="1.1" fill="#666666"/>
<rect x="600.7" y="176.2" width="1.0" height="1.0" fill="#4a4a4a"/>
<rect x="603.3" y="178.6" width="1.1" height="1.1" fill="#666666"/>
<rect x="598.8" y="178.6" width="0.8" height="0.8" fill="#c0c0c0"/>
<rect x="601.4" y="177.3" width="1.3" height="1.3" fill="#4a4a4a"/>
<rect x="601.3" y="174.4" width="0.8" height="0.8" fill="#3a3a3a"/>
<rect x="599.1" y="176.7" width="1.1" height="1.1" fill="#666666"/>
<rect x="601.0" y="174.4" width="0.8" height="0.8" fill="#c0c0c0"/>
<rect x="604.1" y="173.9" width="0.8" height="0.8" fill="#3a3a3a"/>
<rect x="603.5" y="177.8" width="0.8" height="0.8" fill="#666666"/>
<rect x="612.2" y="88.6" width="0.8" height="0.8" fill="#585858"/>
<rect x="607.7" y="86.1" width="1.0" height="1.0" fill="#c0c0c0"/>
<rect x="610.2" y="88.7" width="1.3" height="1.3" fill="#c0c0c0"/>
<rect x="607.0" y="85.0" width="0.8" height="0.8" fill="#666666"/>
<rect x="612.7" y="86.7" width="1.0" height="1.0" fill="#b4b4b4"/>
<rect x="584.1" y="83.3" width="0.8" height="0.8" fill="#a8a8a8"/>
<rect x="586.1" y="81.6" width="1.0" height="1.0" fill="#4a4a4a"/>
<rect x="585.6" y="80.1" width="1.0" height="1.0" fill="#4a4a4a"/>
<rect x="581.8" y="80.9" width="1.3" height="1.3" fill="#4a4a4a"/>
<rect x="586.5" y="79.7" width="0.8" height="0.8" fill="#585858"/>
<rect x="585.5" y="82.6" width="1.1" height="1.1" fill="#b4b4b4"/>
<rect x="582.4" y="83.2" width="1.0" height="1.0" fill="#3a3a3a"/>
<rect x="606.1" y="51.2" width="1.3" height="1.3" fill="#a8a8a8"/>
<rect x="603.9" y="48.5" width="1.1" height="1.1" fill="#666666"/>
<rect x="607.6" y="47.8" width="0.8" height="0.8" fill="#c0c0c0"/>
<rect x="604.7" y="50.0" width="0.8" height="0.8" fill="#585858"/>
<rect x="607.6" y="50.0" width="1.3" height="1.3" fill="#a8a8a8"/>
<rect x="577.8" y="106.2" width="1.3" height="1.3" fill="#3a3a3a"/>
<rect x="574.6" y="105.7" width="0.8" height="0.8" fill="#b4b4b4"/>
<rect x="573.6" y="104.8" width="0.8" height="0.8" fill="#4a4a4a"/>
<rect x="625.7" y="169.7" width="0.8" height="0.8" fill="#585858"/>
<rect x="625.8" y="169.1" width="1.0" height="1.0" fill="#4a4a4a"/>
<rect x="627.9" y="170.3" width="0.8" height="0.8" fill="#4a4a4a"/>
<rect x="629.4" y="169.7" width="1.1" height="1.1" fill="#b4b4b4"/>
<rect x="629.9" y="168.9" width="1.0" height="1.0" fill="#666666"/>
<rect x="626.8" y="168.9" width="0.8" height="0.8" fill="#b4b4b4"/>
<rect x="625.0" y="172.6" width="1.3" height="1.3" fill="#4a4a4a"/>
<rect x="628.5" y="170.7" width="1.1" height="1.1" fill="#4a4a4a"/>
<rect x="614.3" y="139.5" width="1.1" height="1.1" fill="#3a3a3a"/>
<rect x="615.4" y="137.7" width="1.1" height="1.1" fill="#666666"/>
<rect x="612.5" y="138.0" width="1.1" height="1.1" fill="#4a4a4a"/>
<rect x="612.3" y="140.4" width="1.3" height="1.3" fill="#666666"/>
<rect x="614.3" y="136.7" width="1.1" height="1.1" fill="#a8a8a8"/>
<rect x="611.5" y="139.5" width="1.1" height="1.1" fill="#4a4a4a"/>
<rect x="614.0" y="138.5" width="0.8" height="0.8" fill="#a8a8a8"/>
<rect x="652.0" y="169.7" width="1.1" height="1.1" fill="#4a4a4a"/>
<rect x="653.4" y="171.1" width="1.1" height="1.1" fill="#c0c0c0"/>
<rect x="651.5" y="172.2" width="1.0" height="1.0" fill="#c0c0c0"/>
<rect x="650.9" y="169.8" width="1.1" height="1.1" fill="#4a4a4a"/>
<rect x="654.7" y="166.5" width="0.8" height="0.8" fill="#585858"/>
<rect x="651.4" y="169.1" width="1.1" height="1.1" fill="#585858"/>
<rect x="595.2" y="81.1" width="1.1" height="1.1" fill="#c0c0c0"/>
<rect x="591.5" y="81.2" width="0.8" height="0.8" fill="#4a4a4a"/>
<rect x="594.6" y="82.5" width="1.0" height="1.0" fill="#3a3a3a"/>
<rect x="598.2" y="80.7" width="1.0" height="1.0" fill="#4a4a4a"/>
<rect x="584.4" y="141.4" width="1.3" height="1.3" fill="#b4b4b4"/>
<rect x="584.3" y="140.4" width="1.0" height="1.0" fill="#585858"/>
<rect x="583.9" y="140.2" width="1.3" height="1.3" fill="#a8a8a8"/>
<rect x="658.1" y="94.1" width="1.0" height="1.0" fill="#585858"/>
<rect x="653.5" y="97.4" width="1.0" height="1.0" fill="#4a4a4a"/>
<rect x="656.1" y="99.3" width="1.0" height="1.0" fill="#3a3a3a"/>
<rect x="653.9" y="98.6" width="1.1" height="1.1" fill="#3a3a3a"/>
<rect x="654.7" y="94.7" width="1.3" height="1.3" fill="#c0c0c0"/>
<rect x="653.0" y="94.7" width="1.1" height="1.1" fill="#666666"/>
<rect x="654.7" y="96.1" width="0.8" height="0.8" fill="#b4b4b4"/>
<rect x="608.2" y="158.2" width="1.3" height="1.3" fill="#3a3a3a"/>
<rect x="609.8" y="162.4" width="1.3" height="1.3" fill="#3a3a3a"/>
<rect x="610.4" y="161.2" width="1.0" height="1.0" fill="#b4b4b4"/>
<rect x="607.2" y="159.3" width="1.0" height="1.0" fill="#666666"/>
<rect x="610.4" y="160.0" width="1.1" height="1.1" fill="#666666"/>
<rect x="608.0" y="156.6" width="0.8" height="0.8" fill="#4a4a4a"/>
<rect x="610.1" y="159.2" width="1.3" height="1.3" fill="#b4b4b4"/>
<rect x="607.2" y="158.1" width="1.0" height="1.0" fill="#4a4a4a"/>
<rect x="567.1" y="143.1" width="1.3" height="1.3" fill="#b4b4b4"/>
<rect x="561.5" y="144.5" width="1.3" height="1.3" fill="#3a3a3a"/>
<rect x="567.5" y="141.4" width="0.8" height="0.8" fill="#c0c0c0"/>
<rect x="563.1" y="144.0" width="1.1" height="1.1" fill="#c0c0c0"/>
<rect x="566.0" y="144.5" width="0.8" height="0.8" fill="#b4b4b4"/>
<rect x="564.5" y="141.1" width="1.3" height="1.3" fill="#3a3a3a"/>
<rect x="605.4" y="128.3" width="0.8" height="0.8" fill="#4a4a4a"/>
<rect x="606.2" y="126.3" width="1.3" height="1.3" fill="#4a4a4a"/>
<rect x="601.6" y="127.3" width="1.3" height="1.3" fill="#3a3a3a"/>
<rect x="603.3" y="128.7" width="1.3" height="1.3" fill="#585858"/>
<rect x="602.4" y="131.4" width="1.1" height="1.1" fill="#b4b4b4"/>
<rect x="601.3" y="128.2" width="1.1" height="1.1" fill="#c0c0c0"/>
<rect x="604.3" y="129.3" width="1.3" height="1.3" fill="#3a3a3a"/>
<rect x="632.2" y="159.1" width="1.1" height="1.1" fill="#585858"/>
<rect x="633.4" y="157.0" width="1.3" height="1.3" fill="#666666"/>
<rect x="631.3" y="157.9" width="1.1" height="1.1" fill="#c0c0c0"/>
<rect x="630.4" y="157.6" width="1.3" height="1.3" fill="#b4b4b4"/>
<rect x="632.0" y="158.1" width="1.0" height="1.0" fill="#c0c0c0"/>
<rect x="633.7" y="159.3" width="1.1" height="1.1" fill="#b4b4b4"/>
<rect x="633.4" y="158.2" width="1.0" height="1.0" fill="#3a3a3a"/>
<rect x="632.0" y="158.4" width="1.1" height="1.1" fill="#666666"/>
<rect x="632.2" y="155.7" width="1.1" height="1.1" fill="#c0c0c0"/>
<rect x="565.5" y="82.7" width="1.1" height="1.1" fill="#3a3a3a"/>
<rect x="563.0" y="78.1" width="1.1" height="1.1" fill="#585858"/>
<rect x="562.2" y="81.2" width="1.1" height="1.1" fill="#a8a8a8"/>
<rect x="607.7" y="163.8" width="1.1" height="1.1" fill="#c0c0c0"/>
<rect x="607.5" y="162.9" width="1.1" height="1.1" fill="#3a3a3a"/>
<rect x="606.2" y="164.5" width="1.1" height="1.1" fill="#666666"/>
<rect x="605.1" y="162.0" width="1.0" height="1.0" fill="#a8a8a8"/>
<rect x="606.7" y="163.3" width="1.0" height="1.0" fill="#b4b4b4"/>
<rect x="606.8" y="162.7" width="1.1" height="1.1" fill="#3a3a3a"/>
<rect x="608.2" y="161.3" width="1.0" height="1.0" fill="#a8a8a8"/>
<rect x="557.1" y="78.9" width="1.0" height="1.0" fill="#3a3a3a"/>
<rect x="555.1" y="83.4" width="1.1" height="1.1" fill="#c0c0c0"/>
<rect x="554.2" y="79.5" width="1.3" height="1.3" fill="#c0c0c0"/>
<rect x="557.8" y="80.6" width="1.3" height="1.3" fill="#b4b4b4"/>
<rect x="556.1" y="81.6" width="1.1" height="1.1" fill="#3a3a3a"/>
<rect x="555.2" y="83.7" width="1.3" height="1.3" fill="#585858"/>
<rect x="605.2" y="98.2" width="1.3" height="1.3" fill="#3a3a3a"/>
<rect x="606.2" y="98.9" width="1.0" height="1.0" fill="#4a4a4a"/>
<rect x="606.4" y="98.2" width="0.8" height="0.8" fill="#4a4a4a"/>
<rect x="604.2" y="99.7" width="0.8" height="0.8" fill="#3a3a3a"/>
<rect x="603.5" y="100.2" width="0.8" height="0.8" fill="#a8a8a8"/>
<rect x="633.3" y="114.3" width="1.0" height="1.0" fill="#b4b4b4"/>
<rect x="631.1" y="114.9" width="1.0" height="1.0" fill="#585858"/>
<rect x="630.2" y="112.6" width="1.0" height="1.0" fill="#666666"/>
<rect x="562.3" y="116.6" width="1.1" height="1.1" fill="#585858"/>
<rect x="563.4" y="112.2" width="1.1" height="1.1" fill="#a8a8a8"/>
<rect x="562.3" y="115.4" width="1.1" height="1.1" fill="#c0c0c0"/>
<rect x="563.8" y="115.1" width="1.1" height="1.1" fill="#585858"/>
<rect x="563.2" y="115.3" width="1.1" height="1.1" fill="#585858"/>
<rect x="563.6" y="111.8" width="1.3" height="1.3" fill="#585858"/>
<rect x="648.5" y="120.7" width="1.3" height="1.3" fill="#b4b4b4"/>
<rect x="649.6" y="121.1" width="1.0" height="1.0" fill="#585858"/>
<rect x="650.8" y="119.1" width="1.1" height="1.1" fill="#3a3a3a"/>
<rect x="644.7" y="134.9" width="1.0" height="1.0" fill="#b4b4b4"/>
<rect x="643.6" y="137.4" width="1.3" height="1.3" fill="#666666"/>
<rect x="644.1" y="135.9" width="1.3" height="1.3" fill="#a8a8a8"/>
<rect x="641.5" y="136.5" width="0.8" height="0.8" fill="#585858"/>
<rect x="644.2" y="136.4" width="0.8" height="0.8" fill="#c0c0c0"/>
<rect x="641.9" y="137.2" width="1.3" height="1.3" fill="#b4b4b4"/>
<rect x="645.1" y="134.3" width="0.8" height="0.8" fill="#4a4a4a"/>
<rect x="640.7" y="141.0" width="1.0" height="1.0" fill="#666666"/>
<rect x="641.3" y="143.8" width="0.8" height="0.8" fill="#4a4a4a"/>
<rect x="641.0" y="141.6" width="1.3" height="1.3" fill="#a8a8a8"/>
<rect x="643.3" y="141.6" width="1.0" height="1.0" fill="#c0c0c0"/>
<rect x="638.7" y="140.8" width="1.3" height="1.3" fill="#585858"/>
<rect x="645.4" y="92.2" width="0.8" height="0.8" fill="#585858"/>
<rect x="645.3" y="91.0" width="1.0" height="1.0" fill="#4a4a4a"/>
<rect x="645.6" y="87.8" width="1.0" height="1.0" fill="#4a4a4a"/>
<rect x="644.7" y="94.8" width="1.1" height="1.1" fill="#585858"/>
<rect x="612.4" y="156.7" width="1.0" height="1.0" fill="#a8a8a8"/>
<rect x="615.8" y="156.5" width="0.8" height="0.8" fill="#c0c0c0"/>
<rect x="614.4" y="155.2" width="1.1" height="1.1" fill="#b4b4b4"/>
<rect x="616.0" y="152.8" width="1.3" height="1.3" fill="#a8a8a8"/>
<rect x="614.3" y="155.5" width="1.1" height="1.1" fill="#3a3a3a"/>
<rect x="615.5" y="154.5" width="1.0" height="1.0" fill="#585858"/>
<rect x="613.7" y="155.5" width="1.1" height="1.1" fill="#a8a8a8"/>
<rect x="612.4" y="154.8" width="1.3" height="1.3" fill="#3a3a3a"/>
<rect x="621.1" y="39.7" width="0.8" height="0.8" fill="#666666"/>
<rect x="623.7" y="40.6" width="1.1" height="1.1" fill="#a8a8a8"/>
<rect x="621.8" y="39.6" width="0.8" height="0.8" fill="#666666"/>
<rect x="621.6" y="40.1" width="1.1" height="1.1" fill="#3a3a3a"/>
<rect x="623.8" y="39.4" width="1.1" height="1.1" fill="#c0c0c0"/>
<rect x="620.2" y="38.5" width="1.3" height="1.3" fill="#585858"/>
<rect x="621.4" y="39.7" width="1.1" height="1.1" fill="#3a3a3a"/>
<rect x="624.1" y="41.9" width="1.0" height="1.0" fill="#b4b4b4"/>
<rect x="624.8" y="38.2" width="1.3" height="1.3" fill="#a8a8a8"/>
<line x1="435" y1="137.8" x2="468" y2="139.2" stroke="#5a5a5a" stroke-width="0.9" opacity="0.35"/>
<rect x="355" y="147" width="1.2" height="1.2" fill="#555"/><rect x="356.5" y="148.5" width="1" height="1" fill="#b5b5b5"/>
<rect x="61" y="227" width="147" height="146.8" fill="#000"/>
<circle cx="134.50" cy="300.40" r="73.40" fill="#8c8c8c"/>
<circle cx="134.50" cy="300.40" r="73.40" fill="#808080" filter="url(#grain)" opacity="0.22"/>
<rect x="120.4" y="274.7" width="0.8" height="0.8" fill="#4a4a4a"/>
<rect x="119.2" y="274.0" width="1.3" height="1.3" fill="#4a4a4a"/>
<rect x="119.1" y="275.0" width="1.3" height="1.3" fill="#3a3a3a"/>
<rect x="118.4" y="275.9" width="1.3" height="1.3" fill="#a8a8a8"/>
<rect x="120.2" y="276.3" width="1.0" height="1.0" fill="#4a4a4a"/>
<rect x="120.6" y="274.5" width="0.8" height="0.8" fill="#585858"/>
<rect x="119.8" y="274.8" width="1.0" height="1.0" fill="#3a3a3a"/>
<rect x="105.7" y="243.1" width="1.1" height="1.1" fill="#b4b4b4"/>
<rect x="112.8" y="243.6" width="1.1" height="1.1" fill="#585858"/>
<rect x="114.6" y="243.7" width="1.1" height="1.1" fill="#585858"/>
<rect x="115.1" y="240.7" width="1.0" height="1.0" fill="#585858"/>
<rect x="110.6" y="241.4" width="1.3" height="1.3" fill="#c0c0c0"/>
<rect x="108.2" y="245.7" width="1.1" height="1.1" fill="#585858"/>
<rect x="133.3" y="280.0" width="1.3" height="1.3" fill="#b4b4b4"/>
<rect x="134.5" y="284.3" width="0.8" height="0.8" fill="#585858"/>
<rect x="132.9" y="276.9" width="0.8" height="0.8" fill="#c0c0c0"/>
<rect x="133.0" y="280.7" width="1.0" height="1.0" fill="#666666"/>
<rect x="136.2" y="281.3" width="1.3" height="1.3" fill="#c0c0c0"/>
<rect x="133.2" y="282.8" width="1.0" height="1.0" fill="#b4b4b4"/>
<rect x="134.8" y="282.1" width="0.8" height="0.8" fill="#3a3a3a"/>
<rect x="134.2" y="283.3" width="0.8" height="0.8" fill="#666666"/>
<rect x="98.9" y="252.8" width="1.0" height="1.0" fill="#666666"/>
<rect x="101.0" y="253.0" width="1.1" height="1.1" fill="#666666"/>
<rect x="96.9" y="252.2" width="0.8" height="0.8" fill="#a8a8a8"/>
<rect x="98.3" y="252.0" width="0.8" height="0.8" fill="#4a4a4a"/>
<rect x="96.4" y="253.8" width="0.8" height="0.8" fill="#b4b4b4"/>
<rect x="96.0" y="255.7" width="0.8" height="0.8" fill="#4a4a4a"/>
<rect x="96.9" y="252.9" width="0.8" height="0.8" fill="#b4b4b4"/>
<rect x="116.2" y="276.6" width="1.3" height="1.3" fill="#4a4a4a"/>
<rect x="116.2" y="277.9" width="1.3" height="1.3" fill="#c0c0c0"/>
<rect x="112.4" y="280.0" width="1.3" height="1.3" fill="#c0c0c0"/>
<rect x="111.0" y="277.5" width="1.1" height="1.1" fill="#c0c0c0"/>
<rect x="113.3" y="278.1" width="1.3" height="1.3" fill="#666666"/>
<rect x="114.9" y="279.0" width="1.0" height="1.0" fill="#b4b4b4"/>
<rect x="116.6" y="274.8" width="1.1" height="1.1" fill="#3a3a3a"/>
<rect x="113.2" y="277.9" width="1.1" height="1.1" fill="#666666"/>
<rect x="113.6" y="278.3" width="1.1" height="1.1" fill="#4a4a4a"/>
<rect x="92.1" y="305.2" width="1.1" height="1.1" fill="#585858"/>
<rect x="94.9" y="303.7" width="1.3" height="1.3" fill="#585858"/>
<rect x="94.8" y="301.0" width="1.3" height="1.3" fill="#4a4a4a"/>
<rect x="93.1" y="301.9" width="1.3" height="1.3" fill="#a8a8a8"/>
<rect x="152.2" y="308.7" width="1.0" height="1.0" fill="#4a4a4a"/>
<rect x="153.4" y="305.6" width="0.8" height="0.8" fill="#c0c0c0"/>
<rect x="154.7" y="311.8" width="0.8" height="0.8" fill="#4a4a4a"/>
<rect x="152.3" y="310.5" width="1.3" height="1.3" fill="#b4b4b4"/>
<rect x="151.3" y="311.1" width="1.0" height="1.0" fill="#a8a8a8"/>
<rect x="152.2" y="309.1" width="1.0" height="1.0" fill="#b4b4b4"/>
<rect x="154.9" y="307.8" width="1.1" height="1.1" fill="#b4b4b4"/>
<rect x="153.9" y="308.2" width="1.0" height="1.0" fill="#4a4a4a"/>
<rect x="130.0" y="246.3" width="1.1" height="1.1" fill="#c0c0c0"/>
<rect x="129.9" y="250.4" width="1.0" height="1.0" fill="#b4b4b4"/>
<rect x="128.3" y="246.5" width="1.0" height="1.0" fill="#585858"/>
<rect x="114.5" y="256.0" width="1.0" height="1.0" fill="#b4b4b4"/>
<rect x="116.1" y="258.6" width="1.3" height="1.3" fill="#c0c0c0"/>
<rect x="115.3" y="253.0" width="1.3" height="1.3" fill="#a8a8a8"/>
<rect x="116.1" y="256.5" width="0.8" height="0.8" fill="#3a3a3a"/>
<rect x="115.1" y="255.7" width="1.3" height="1.3" fill="#585858"/>
<rect x="116.3" y="257.8" width="0.8" height="0.8" fill="#b4b4b4"/>
<rect x="116.5" y="258.1" width="1.3" height="1.3" fill="#3a3a3a"/>
<rect x="106.5" y="237.4" width="1.0" height="1.0" fill="#c0c0c0"/>
<rect x="102.1" y="241.2" width="1.3" height="1.3" fill="#666666"/>
<rect x="106.9" y="238.1" width="1.0" height="1.0" fill="#585858"/>
<rect x="107.4" y="239.3" width="1.3" height="1.3" fill="#666666"/>
<rect x="104.0" y="240.1" width="1.0" height="1.0" fill="#585858"/>
<rect x="104.4" y="241.9" width="1.3" height="1.3" fill="#4a4a4a"/>
<rect x="105.4" y="238.2" width="0.8" height="0.8" fill="#a8a8a8"/>
<rect x="102.4" y="240.0" width="0.8" height="0.8" fill="#4a4a4a"/>
<rect x="184.1" y="336.6" width="1.3" height="1.3" fill="#3a3a3a"/>
<rect x="180.7" y="335.7" width="1.1" height="1.1" fill="#a8a8a8"/>
<rect x="181.0" y="333.4" width="0.8" height="0.8" fill="#a8a8a8"/>
<rect x="182.1" y="335.2" width="1.1" height="1.1" fill="#c0c0c0"/>
<rect x="183.2" y="336.9" width="1.3" height="1.3" fill="#4a4a4a"/>
<rect x="181.2" y="334.7" width="1.1" height="1.1" fill="#3a3a3a"/>
<rect x="145.8" y="344.2" width="1.1" height="1.1" fill="#585858"/>
<rect x="146.4" y="340.4" width="1.3" height="1.3" fill="#4a4a4a"/>
<rect x="147.8" y="342.6" width="1.0" height="1.0" fill="#585858"/>
<rect x="147.6" y="339.7" width="1.3" height="1.3" fill="#3a3a3a"/>
<rect x="147.4" y="345.0" width="1.1" height="1.1" fill="#585858"/>
<rect x="146.3" y="344.3" width="1.3" height="1.3" fill="#3a3a3a"/>
<rect x="147.7" y="345.0" width="1.1" height="1.1" fill="#585858"/>
<rect x="144.9" y="344.5" width="0.8" height="0.8" fill="#3a3a3a"/>
<rect x="145.2" y="342.1" width="1.1" height="1.1" fill="#3a3a3a"/>
<rect x="138.4" y="300.1" width="1.1" height="1.1" fill="#585858"/>
<rect x="140.5" y="300.2" width="1.1" height="1.1" fill="#3a3a3a"/>
<rect x="139.6" y="300.3" width="1.0" height="1.0" fill="#a8a8a8"/>
<rect x="138.7" y="296.8" width="1.1" height="1.1" fill="#4a4a4a"/>
<rect x="131.0" y="327.6" width="1.3" height="1.3" fill="#666666"/>
<rect x="132.1" y="328.6" width="1.1" height="1.1" fill="#b4b4b4"/>
<rect x="129.9" y="330.2" width="0.8" height="0.8" fill="#3a3a3a"/>
<rect x="128.5" y="329.6" width="1.1" height="1.1" fill="#3a3a3a"/>
<rect x="132.6" y="330.6" width="1.3" height="1.3" fill="#b4b4b4"/>
<rect x="130.4" y="328.3" width="0.8" height="0.8" fill="#c0c0c0"/>
<rect x="130.4" y="257.0" width="1.3" height="1.3" fill="#b4b4b4"/>
<rect x="133.1" y="255.9" width="1.3" height="1.3" fill="#a8a8a8"/>
<rect x="128.9" y="259.5" width="1.0" height="1.0" fill="#585858"/>
<rect x="129.0" y="258.8" width="1.3" height="1.3" fill="#b4b4b4"/>
<rect x="130.1" y="258.6" width="1.1" height="1.1" fill="#4a4a4a"/>
<rect x="132.0" y="259.7" width="1.3" height="1.3" fill="#b4b4b4"/>
<rect x="127.2" y="363.1" width="1.1" height="1.1" fill="#3a3a3a"/>
<rect x="128.4" y="359.6" width="1.1" height="1.1" fill="#c0c0c0"/>
<rect x="128.5" y="359.7" width="1.0" height="1.0" fill="#a8a8a8"/>
<rect x="129.8" y="361.4" width="1.0" height="1.0" fill="#3a3a3a"/>
<rect x="130.1" y="360.4" width="0.8" height="0.8" fill="#4a4a4a"/>
<rect x="115.0" y="336.0" width="1.0" height="1.0" fill="#3a3a3a"/>
<rect x="115.8" y="337.0" width="1.0" height="1.0" fill="#3a3a3a"/>
<rect x="115.2" y="339.6" width="1.3" height="1.3" fill="#a8a8a8"/>
<rect x="118.0" y="338.4" width="1.0" height="1.0" fill="#b4b4b4"/>
<rect x="114.8" y="338.3" width="1.1" height="1.1" fill="#4a4a4a"/>
<rect x="117.6" y="338.1" width="1.0" height="1.0" fill="#c0c0c0"/>
<rect x="119.0" y="340.1" width="0.8" height="0.8" fill="#3a3a3a"/>
<rect x="115.0" y="338.9" width="1.0" height="1.0" fill="#585858"/>
<rect x="128.5" y="333.9" width="1.0" height="1.0" fill="#c0c0c0"/>
<rect x="130.0" y="331.6" width="0.8" height="0.8" fill="#585858"/>
<rect x="124.1" y="331.3" width="0.8" height="0.8" fill="#3a3a3a"/>
<rect x="128.0" y="333.9" width="1.3" height="1.3" fill="#4a4a4a"/>
<rect x="128.7" y="331.7" width="1.3" height="1.3" fill="#666666"/>
<rect x="128.3" y="331.3" width="1.3" height="1.3" fill="#666666"/>
<rect x="128.3" y="334.0" width="0.8" height="0.8" fill="#3a3a3a"/>
<rect x="127.1" y="332.1" width="1.0" height="1.0" fill="#666666"/>
<rect x="130.5" y="272.7" width="1.0" height="1.0" fill="#3a3a3a"/>
<rect x="130.8" y="276.4" width="1.0" height="1.0" fill="#666666"/>
<rect x="134.6" y="273.9" width="1.1" height="1.1" fill="#585858"/>
<rect x="131.3" y="275.3" width="1.3" height="1.3" fill="#3a3a3a"/>
<rect x="134.8" y="275.5" width="1.1" height="1.1" fill="#666666"/>
<rect x="133.4" y="276.6" width="1.3" height="1.3" fill="#4a4a4a"/>
<rect x="126.4" y="271.3" width="1.1" height="1.1" fill="#3a3a3a"/>
<rect x="128.4" y="274.7" width="1.3" height="1.3" fill="#585858"/>
<rect x="128.6" y="271.9" width="1.1" height="1.1" fill="#3a3a3a"/>
<rect x="129.2" y="274.6" width="1.0" height="1.0" fill="#4a4a4a"/>
<rect x="127.3" y="274.6" width="1.3" height="1.3" fill="#3a3a3a"/>
<rect x="127.9" y="271.4" width="0.8" height="0.8" fill="#585858"/>
<rect x="126.8" y="273.7" width="1.1" height="1.1" fill="#b4b4b4"/>
<rect x="104.4" y="287.4" width="1.3" height="1.3" fill="#3a3a3a"/>
<rect x="103.8" y="286.8" width="1.0" height="1.0" fill="#b4b4b4"/>
<rect x="101.0" y="288.6" width="0.8" height="0.8" fill="#4a4a4a"/>
<rect x="107.4" y="290.3" width="1.1" height="1.1" fill="#3a3a3a"/>
<rect x="104.9" y="291.0" width="1.0" height="1.0" fill="#585858"/>
<rect x="103.1" y="288.6" width="0.8" height="0.8" fill="#585858"/>
<rect x="103.4" y="291.2" width="1.1" height="1.1" fill="#b4b4b4"/>
<rect x="183.9" y="288.6" width="1.3" height="1.3" fill="#3a3a3a"/>
<rect x="185.4" y="290.2" width="0.8" height="0.8" fill="#b4b4b4"/>
<rect x="183.5" y="290.8" width="0.8" height="0.8" fill="#b4b4b4"/>
<rect x="182.1" y="290.7" width="1.0" height="1.0" fill="#666666"/>
<rect x="148.3" y="232.6" width="1.1" height="1.1" fill="#666666"/>
<rect x="146.7" y="234.6" width="0.8" height="0.8" fill="#3a3a3a"/>
<rect x="146.3" y="234.0" width="1.3" height="1.3" fill="#3a3a3a"/>
<rect x="145.0" y="235.4" width="1.3" height="1.3" fill="#3a3a3a"/>
<rect x="154.7" y="328.8" width="1.1" height="1.1" fill="#3a3a3a"/>
<rect x="154.4" y="327.5" width="0.8" height="0.8" fill="#c0c0c0"/>
<rect x="152.9" y="331.8" width="0.8" height="0.8" fill="#3a3a3a"/>
<rect x="152.9" y="327.2" width="0.8" height="0.8" fill="#3a3a3a"/>
<rect x="153.7" y="327.7" width="1.3" height="1.3" fill="#666666"/>
<rect x="155.9" y="329.3" width="1.0" height="1.0" fill="#666666"/>
<rect x="156.0" y="328.8" width="0.8" height="0.8" fill="#4a4a4a"/>
<rect x="153.3" y="326.4" width="1.1" height="1.1" fill="#3a3a3a"/>
<rect x="126.0" y="271.1" width="1.0" height="1.0" fill="#585858"/>
<rect x="124.5" y="269.8" width="1.1" height="1.1" fill="#585858"/>
<rect x="127.1" y="270.7" width="1.3" height="1.3" fill="#585858"/>
<rect x="122.4" y="269.4" width="1.3" height="1.3" fill="#c0c0c0"/>
<rect x="129.1" y="273.7" width="1.3" height="1.3" fill="#4a4a4a"/>
<rect x="153.2" y="320.7" width="1.3" height="1.3" fill="#666666"/>
<rect x="149.5" y="320.8" width="1.0" height="1.0" fill="#3a3a3a"/>
<rect x="148.8" y="321.2" width="0.8" height="0.8" fill="#c0c0c0"/>
<rect x="150.2" y="318.9" width="1.3" height="1.3" fill="#a8a8a8"/>
<rect x="151.6" y="320.4" width="1.1" height="1.1" fill="#4a4a4a"/>
<rect x="149.6" y="322.0" width="1.0" height="1.0" fill="#a8a8a8"/>
<rect x="150.1" y="320.6" width="1.1" height="1.1" fill="#666666"/>
<rect x="147.1" y="319.7" width="1.1" height="1.1" fill="#585858"/>
<rect x="149.3" y="321.3" width="0.8" height="0.8" fill="#c0c0c0"/>
<rect x="116.8" y="284.1" width="1.0" height="1.0" fill="#c0c0c0"/>
<rect x="115.2" y="281.8" width="1.3" height="1.3" fill="#666666"/>
<rect x="117.6" y="281.4" width="1.1" height="1.1" fill="#b4b4b4"/>
<rect x="113.2" y="281.8" width="1.3" height="1.3" fill="#c0c0c0"/>
<rect x="139.4" y="309.0" width="1.0" height="1.0" fill="#585858"/>
<rect x="141.0" y="311.3" width="1.3" height="1.3" fill="#4a4a4a"/>
<rect x="140.1" y="310.9" width="0.8" height="0.8" fill="#b4b4b4"/>
<rect x="141.2" y="305.2" width="0.8" height="0.8" fill="#b4b4b4"/>
<rect x="139.5" y="312.0" width="0.8" height="0.8" fill="#3a3a3a"/>
<rect x="138.5" y="309.8" width="1.3" height="1.3" fill="#b4b4b4"/>
<rect x="139.1" y="309.4" width="1.1" height="1.1" fill="#a8a8a8"/>
<rect x="140.7" y="310.4" width="1.0" height="1.0" fill="#4a4a4a"/>
<rect x="128.1" y="327.9" width="0.8" height="0.8" fill="#666666"/>
<rect x="128.5" y="325.6" width="1.1" height="1.1" fill="#b4b4b4"/>
<rect x="129.6" y="325.5" width="1.3" height="1.3" fill="#666666"/>
<rect x="127.8" y="323.3" width="1.3" height="1.3" fill="#666666"/>
<rect x="128.4" y="328.1" width="1.0" height="1.0" fill="#585858"/>
<rect x="129.4" y="324.4" width="0.8" height="0.8" fill="#b4b4b4"/>
<rect x="129.9" y="327.1" width="1.3" height="1.3" fill="#4a4a4a"/>
<rect x="107.4" y="272.1" width="0.8" height="0.8" fill="#b4b4b4"/>
<rect x="107.4" y="269.6" width="0.8" height="0.8" fill="#666666"/>
<rect x="105.7" y="267.4" width="0.8" height="0.8" fill="#c0c0c0"/>
<rect x="108.5" y="271.4" width="1.1" height="1.1" fill="#a8a8a8"/>
<rect x="109.6" y="268.1" width="1.1" height="1.1" fill="#666666"/>
<rect x="107.1" y="270.9" width="1.1" height="1.1" fill="#b4b4b4"/>
<rect x="154.1" y="247.4" width="1.0" height="1.0" fill="#3a3a3a"/>
<rect x="151.3" y="249.1" width="1.0" height="1.0" fill="#3a3a3a"/>
<rect x="151.7" y="249.4" width="0.8" height="0.8" fill="#585858"/>
<rect x="149.6" y="249.5" width="0.8" height="0.8" fill="#3a3a3a"/>
<rect x="155.0" y="247.7" width="1.1" height="1.1" fill="#585858"/>
<rect x="153.1" y="246.9" width="0.8" height="0.8" fill="#666666"/>
<rect x="155.5" y="249.4" width="1.1" height="1.1" fill="#b4b4b4"/>
<rect x="179.7" y="288.1" width="1.0" height="1.0" fill="#585858"/>
<rect x="179.8" y="286.0" width="1.3" height="1.3" fill="#585858"/>
<rect x="179.8" y="282.1" width="0.8" height="0.8" fill="#666666"/>
<rect x="179.9" y="285.2" width="1.1" height="1.1" fill="#4a4a4a"/>
<rect x="145.2" y="264.4" width="1.1" height="1.1" fill="#a8a8a8"/>
<rect x="147.7" y="267.1" width="1.1" height="1.1" fill="#b4b4b4"/>
<rect x="145.8" y="265.9" width="0.8" height="0.8" fill="#4a4a4a"/>
<rect x="146.8" y="264.8" width="1.0" height="1.0" fill="#585858"/>
<rect x="144.4" y="263.0" width="0.8" height="0.8" fill="#a8a8a8"/>
<rect x="140.7" y="265.2" width="0.8" height="0.8" fill="#3a3a3a"/>
<rect x="146.4" y="265.7" width="0.8" height="0.8" fill="#4a4a4a"/>
<rect x="160.0" y="291.9" width="0.8" height="0.8" fill="#c0c0c0"/>
<rect x="161.4" y="289.1" width="0.8" height="0.8" fill="#3a3a3a"/>
<rect x="160.0" y="292.4" width="1.0" height="1.0" fill="#585858"/>
<rect x="161.4" y="291.1" width="1.0" height="1.0" fill="#4a4a4a"/>
<rect x="159.3" y="289.9" width="0.8" height="0.8" fill="#a8a8a8"/>
<rect x="160.0" y="352.9" width="1.0" height="1.0" fill="#3a3a3a"/>
<rect x="162.2" y="352.2" width="0.8" height="0.8" fill="#666666"/>
<rect x="163.3" y="353.2" width="1.3" height="1.3" fill="#4a4a4a"/>
<rect x="161.3" y="353.6" width="1.0" height="1.0" fill="#3a3a3a"/>
<rect x="160.9" y="351.8" width="1.3" height="1.3" fill="#3a3a3a"/>
<rect x="221.7" y="227" width="147" height="146.8" fill="#000"/>
<circle cx="295.20" cy="300.40" r="73.40" fill="#8c8c8c"/>
<circle cx="295.20" cy="300.40" r="73.40" fill="#808080" filter="url(#grain)" opacity="0.22"/>
<rect x="261.6" y="301.6" width="1.3" height="1.3" fill="#585858"/>
<rect x="258.5" y="305.1" width="1.3" height="1.3" fill="#a8a8a8"/>
<rect x="262.2" y="304.0" width="1.0" height="1.0" fill="#a8a8a8"/>
<rect x="261.8" y="304.0" width="0.8" height="0.8" fill="#c0c0c0"/>
<rect x="263.8" y="303.3" width="1.3" height="1.3" fill="#3a3a3a"/>
<rect x="341.8" y="262.4" width="1.1" height="1.1" fill="#585858"/>
<rect x="340.2" y="260.6" width="1.3" height="1.3" fill="#c0c0c0"/>
<rect x="343.0" y="261.5" width="1.1" height="1.1" fill="#c0c0c0"/>
<rect x="345.1" y="263.3" width="1.0" height="1.0" fill="#585858"/>
<rect x="342.3" y="259.4" width="0.8" height="0.8" fill="#585858"/>
<rect x="344.7" y="260.7" width="0.8" height="0.8" fill="#666666"/>
<rect x="342.2" y="261.9" width="0.8" height="0.8" fill="#a8a8a8"/>
<rect x="344.8" y="260.0" width="0.8" height="0.8" fill="#3a3a3a"/>
<rect x="264.4" y="338.6" width="1.3" height="1.3" fill="#585858"/>
<rect x="262.4" y="339.2" width="1.0" height="1.0" fill="#4a4a4a"/>
<rect x="263.7" y="336.9" width="1.0" height="1.0" fill="#c0c0c0"/>
<rect x="307.0" y="233.1" width="1.1" height="1.1" fill="#a8a8a8"/>
<rect x="304.2" y="235.9" width="1.0" height="1.0" fill="#666666"/>
<rect x="304.5" y="235.1" width="1.0" height="1.0" fill="#4a4a4a"/>
<rect x="304.7" y="240.3" width="0.8" height="0.8" fill="#3a3a3a"/>
<rect x="302.8" y="235.1" width="1.3" height="1.3" fill="#585858"/>
<rect x="303.0" y="238.2" width="1.1" height="1.1" fill="#b4b4b4"/>
<rect x="304.3" y="236.0" width="0.8" height="0.8" fill="#c0c0c0"/>
<rect x="303.6" y="236.1" width="1.1" height="1.1" fill="#666666"/>
<rect x="288.2" y="261.7" width="1.0" height="1.0" fill="#3a3a3a"/>
<rect x="289.2" y="266.9" width="0.8" height="0.8" fill="#c0c0c0"/>
<rect x="290.6" y="265.3" width="0.8" height="0.8" fill="#585858"/>
<rect x="307.5" y="296.2" width="1.1" height="1.1" fill="#b4b4b4"/>
<rect x="307.3" y="292.5" width="1.3" height="1.3" fill="#585858"/>
<rect x="308.6" y="293.0" width="0.8" height="0.8" fill="#4a4a4a"/>
<rect x="306.6" y="295.3" width="1.1" height="1.1" fill="#b4b4b4"/>
<rect x="305.0" y="295.0" width="0.8" height="0.8" fill="#a8a8a8"/>
<rect x="306.3" y="294.5" width="0.8" height="0.8" fill="#585858"/>
<rect x="308.4" y="296.1" width="1.0" height="1.0" fill="#3a3a3a"/>
<rect x="238.2" y="315.2" width="1.3" height="1.3" fill="#585858"/>
<rect x="236.9" y="308.6" width="1.1" height="1.1" fill="#666666"/>
<rect x="239.0" y="312.2" width="1.3" height="1.3" fill="#4a4a4a"/>
<rect x="241.0" y="310.2" width="1.3" height="1.3" fill="#3a3a3a"/>
<rect x="304.5" y="297.2" width="1.0" height="1.0" fill="#4a4a4a"/>
<rect x="301.9" y="299.6" width="1.0" height="1.0" fill="#4a4a4a"/>
<rect x="303.4" y="297.1" width="1.0" height="1.0" fill="#4a4a4a"/>
<rect x="303.9" y="297.7" width="1.0" height="1.0" fill="#666666"/>
<rect x="305.0" y="297.6" width="1.0" height="1.0" fill="#666666"/>
<rect x="285.2" y="271.3" width="1.3" height="1.3" fill="#b4b4b4"/>
<rect x="290.3" y="269.9" width="1.1" height="1.1" fill="#a8a8a8"/>
<rect x="287.7" y="273.5" width="1.0" height="1.0" fill="#c0c0c0"/>
<rect x="286.3" y="274.4" width="0.8" height="0.8" fill="#666666"/>
<rect x="288.8" y="272.2" width="0.8" height="0.8" fill="#a8a8a8"/>
<rect x="287.1" y="274.2" width="0.8" height="0.8" fill="#4a4a4a"/>
<rect x="305.4" y="287.8" width="1.0" height="1.0" fill="#b4b4b4"/>
<rect x="306.6" y="290.1" width="0.8" height="0.8" fill="#3a3a3a"/>
<rect x="303.0" y="285.0" width="1.1" height="1.1" fill="#c0c0c0"/>
<rect x="242.4" y="337.1" width="1.3" height="1.3" fill="#3a3a3a"/>
<rect x="240.8" y="334.3" width="1.0" height="1.0" fill="#666666"/>
<rect x="242.6" y="337.0" width="1.3" height="1.3" fill="#585858"/>
<rect x="321.6" y="314.8" width="1.0" height="1.0" fill="#4a4a4a"/>
<rect x="320.2" y="315.1" width="1.1" height="1.1" fill="#4a4a4a"/>
<rect x="317.3" y="316.3" width="1.0" height="1.0" fill="#666666"/>
<rect x="317.1" y="317.3" width="1.1" height="1.1" fill="#b4b4b4"/>
<rect x="317.8" y="316.5" width="0.8" height="0.8" fill="#4a4a4a"/>
<rect x="319.8" y="315.3" width="0.8" height="0.8" fill="#b4b4b4"/>
<rect x="319.8" y="314.3" width="1.0" height="1.0" fill="#a8a8a8"/>
<rect x="318.0" y="316.5" width="1.3" height="1.3" fill="#3a3a3a"/>
<rect x="266.7" y="312.3" width="1.0" height="1.0" fill="#4a4a4a"/>
<rect x="268.9" y="313.2" width="0.8" height="0.8" fill="#c0c0c0"/>
<rect x="265.8" y="311.6" width="1.3" height="1.3" fill="#3a3a3a"/>
<rect x="269.6" y="309.3" width="1.1" height="1.1" fill="#3a3a3a"/>
<rect x="268.2" y="313.1" width="1.3" height="1.3" fill="#585858"/>
<rect x="269.0" y="307.9" width="1.0" height="1.0" fill="#666666"/>
<rect x="266.9" y="312.6" width="1.3" height="1.3" fill="#c0c0c0"/>
<rect x="322.3" y="292.8" width="0.8" height="0.8" fill="#4a4a4a"/>
<rect x="319.8" y="291.2" width="1.0" height="1.0" fill="#3a3a3a"/>
<rect x="319.0" y="290.3" width="1.0" height="1.0" fill="#b4b4b4"/>
<rect x="321.3" y="291.4" width="1.1" height="1.1" fill="#585858"/>
<rect x="320.2" y="291.4" width="1.3" height="1.3" fill="#4a4a4a"/>
<rect x="324.3" y="293.2" width="1.0" height="1.0" fill="#666666"/>
<rect x="321.3" y="287.9" width="1.3" height="1.3" fill="#4a4a4a"/>
<rect x="321.9" y="290.1" width="1.3" height="1.3" fill="#c0c0c0"/>
<rect x="323.0" y="289.5" width="1.1" height="1.1" fill="#585858"/>
<rect x="231.1" y="292.8" width="0.8" height="0.8" fill="#b4b4b4"/>
<rect x="231.8" y="296.6" width="1.0" height="1.0" fill="#3a3a3a"/>
<rect x="229.9" y="298.3" width="1.1" height="1.1" fill="#c0c0c0"/>
<rect x="229.5" y="295.5" width="1.3" height="1.3" fill="#3a3a3a"/>
<rect x="278.6" y="361.8" width="1.3" height="1.3" fill="#4a4a4a"/>
<rect x="282.0" y="363.6" width="1.0" height="1.0" fill="#666666"/>
<rect x="283.3" y="363.2" width="1.0" height="1.0" fill="#666666"/>
<rect x="316.9" y="264.6" width="0.8" height="0.8" fill="#b4b4b4"/>
<rect x="315.3" y="264.0" width="1.1" height="1.1" fill="#3a3a3a"/>
<rect x="316.7" y="262.8" width="1.0" height="1.0" fill="#4a4a4a"/>
<rect x="316.7" y="267.9" width="1.1" height="1.1" fill="#3a3a3a"/>
<rect x="315.6" y="265.0" width="1.3" height="1.3" fill="#a8a8a8"/>
<rect x="316.4" y="266.8" width="0.8" height="0.8" fill="#c0c0c0"/>
<rect x="319.4" y="262.3" width="1.1" height="1.1" fill="#666666"/>
<rect x="319.4" y="266.3" width="1.0" height="1.0" fill="#4a4a4a"/>
<rect x="316.1" y="264.0" width="0.8" height="0.8" fill="#c0c0c0"/>
<rect x="288.1" y="282.1" width="0.8" height="0.8" fill="#4a4a4a"/>
<rect x="290.9" y="281.9" width="1.1" height="1.1" fill="#c0c0c0"/>
<rect x="288.1" y="280.9" width="0.8" height="0.8" fill="#b4b4b4"/>
<rect x="290.7" y="283.8" width="1.1" height="1.1" fill="#585858"/>
<rect x="287.4" y="284.1" width="1.1" height="1.1" fill="#b4b4b4"/>
<rect x="309.1" y="258.0" width="1.1" height="1.1" fill="#a8a8a8"/>
<rect x="303.0" y="258.6" width="0.8" height="0.8" fill="#3a3a3a"/>
<rect x="306.9" y="258.7" width="0.8" height="0.8" fill="#3a3a3a"/>
<rect x="307.2" y="257.2" width="1.1" height="1.1" fill="#a8a8a8"/>
<rect x="306.0" y="259.3" width="1.3" height="1.3" fill="#4a4a4a"/>
<rect x="309.0" y="305.5" width="1.0" height="1.0" fill="#c0c0c0"/>
<rect x="308.2" y="304.8" width="1.0" height="1.0" fill="#666666"/>
<rect x="308.6" y="303.2" width="1.3" height="1.3" fill="#585858"/>
<rect x="310.6" y="303.9" width="1.0" height="1.0" fill="#a8a8a8"/>
<rect x="311.6" y="303.1" width="0.8" height="0.8" fill="#666666"/>
<rect x="310.2" y="303.8" width="1.0" height="1.0" fill="#666666"/>
<rect x="310.4" y="303.4" width="0.8" height="0.8" fill="#4a4a4a"/>
<rect x="311.9" y="304.9" width="0.8" height="0.8" fill="#b4b4b4"/>
<rect x="309.2" y="303.5" width="0.8" height="0.8" fill="#a8a8a8"/>
<rect x="239.9" y="338.2" width="1.1" height="1.1" fill="#4a4a4a"/>
<rect x="241.7" y="340.0" width="1.1" height="1.1" fill="#3a3a3a"/>
<rect x="237.4" y="339.9" width="0.8" height="0.8" fill="#b4b4b4"/>
<rect x="237.8" y="337.9" width="0.8" height="0.8" fill="#666666"/>
<rect x="239.4" y="339.1" width="1.3" height="1.3" fill="#585858"/>
<rect x="241.4" y="339.6" width="0.8" height="0.8" fill="#585858"/>
<rect x="235.6" y="339.8" width="1.1" height="1.1" fill="#c0c0c0"/>
<rect x="238.2" y="336.1" width="1.1" height="1.1" fill="#c0c0c0"/>
<rect x="240.1" y="337.8" width="1.1" height="1.1" fill="#3a3a3a"/>
<rect x="232.6" y="274.4" width="1.0" height="1.0" fill="#3a3a3a"/>
<rect x="235.4" y="273.3" width="0.8" height="0.8" fill="#666666"/>
<rect x="232.0" y="273.5" width="1.1" height="1.1" fill="#666666"/>
<rect x="234.8" y="273.0" width="1.0" height="1.0" fill="#4a4a4a"/>
<rect x="235.2" y="272.9" width="1.0" height="1.0" fill="#b4b4b4"/>
<rect x="235.8" y="274.3" width="1.1" height="1.1" fill="#c0c0c0"/>
<rect x="233.5" y="274.0" width="1.0" height="1.0" fill="#c0c0c0"/>
<rect x="235.9" y="273.6" width="1.0" height="1.0" fill="#585858"/>
<rect x="233.8" y="273.0" width="1.1" height="1.1" fill="#a8a8a8"/>
<rect x="262.9" y="346.3" width="1.0" height="1.0" fill="#3a3a3a"/>
<rect x="263.4" y="347.2" width="0.8" height="0.8" fill="#a8a8a8"/>
<rect x="261.3" y="344.9" width="1.3" height="1.3" fill="#b4b4b4"/>
<rect x="263.3" y="346.1" width="1.1" height="1.1" fill="#3a3a3a"/>
<rect x="261.3" y="345.5" width="1.0" height="1.0" fill="#3a3a3a"/>
<rect x="262.5" y="347.8" width="1.0" height="1.0" fill="#585858"/>
<rect x="262.0" y="346.8" width="1.3" height="1.3" fill="#4a4a4a"/>
<rect x="263.9" y="345.8" width="1.0" height="1.0" fill="#c0c0c0"/>
<rect x="263.6" y="346.9" width="1.1" height="1.1" fill="#666666"/>
<rect x="267.3" y="264.1" width="0.8" height="0.8" fill="#585858"/>
<rect x="268.8" y="266.2" width="1.1" height="1.1" fill="#666666"/>
<rect x="263.9" y="264.5" width="0.8" height="0.8" fill="#666666"/>
<rect x="269.8" y="266.3" width="1.1" height="1.1" fill="#666666"/>
<rect x="267.7" y="263.6" width="1.3" height="1.3" fill="#585858"/>
<rect x="269.0" y="268.2" width="1.3" height="1.3" fill="#c0c0c0"/>
<rect x="267.8" y="263.8" width="1.0" height="1.0" fill="#a8a8a8"/>
<rect x="302.7" y="273.5" width="1.3" height="1.3" fill="#585858"/>
<rect x="302.2" y="270.1" width="0.8" height="0.8" fill="#666666"/>
<rect x="305.4" y="273.1" width="1.1" height="1.1" fill="#3a3a3a"/>
<rect x="300.3" y="270.1" width="1.1" height="1.1" fill="#585858"/>
<rect x="302.6" y="268.3" width="0.8" height="0.8" fill="#b4b4b4"/>
<rect x="305.5" y="272.7" width="1.3" height="1.3" fill="#a8a8a8"/>
<rect x="304.4" y="271.1" width="1.1" height="1.1" fill="#a8a8a8"/>
<rect x="301.1" y="271.0" width="1.0" height="1.0" fill="#b4b4b4"/>
<rect x="300.5" y="268.6" width="0.8" height="0.8" fill="#585858"/>
<rect x="310.1" y="293.6" width="1.3" height="1.3" fill="#b4b4b4"/>
<rect x="309.8" y="289.0" width="1.1" height="1.1" fill="#c0c0c0"/>
<rect x="313.3" y="293.2" width="1.0" height="1.0" fill="#666666"/>
<rect x="308.5" y="290.5" width="1.3" height="1.3" fill="#666666"/>
<rect x="295.3" y="243.0" width="1.3" height="1.3" fill="#3a3a3a"/>
<rect x="294.8" y="243.8" width="1.1" height="1.1" fill="#b4b4b4"/>
<rect x="295.7" y="244.0" width="1.1" height="1.1" fill="#4a4a4a"/>
<rect x="296.4" y="242.5" width="1.0" height="1.0" fill="#b4b4b4"/>
<rect x="294.7" y="238.8" width="0.8" height="0.8" fill="#585858"/>
<rect x="297.7" y="241.8" width="1.1" height="1.1" fill="#a8a8a8"/>
<rect x="293.9" y="241.5" width="1.1" height="1.1" fill="#666666"/>
<rect x="297.9" y="242.8" width="1.0" height="1.0" fill="#c0c0c0"/>
<rect x="281.5" y="272.4" width="1.3" height="1.3" fill="#b4b4b4"/>
<rect x="277.6" y="271.2" width="0.8" height="0.8" fill="#666666"/>
<rect x="278.4" y="272.1" width="1.0" height="1.0" fill="#c0c0c0"/>
<rect x="279.8" y="273.8" width="1.3" height="1.3" fill="#c0c0c0"/>
<rect x="279.3" y="272.4" width="0.8" height="0.8" fill="#c0c0c0"/>
<rect x="278.6" y="272.3" width="1.1" height="1.1" fill="#4a4a4a"/>
<rect x="280.4" y="272.6" width="1.0" height="1.0" fill="#666666"/>
<rect x="277.2" y="271.9" width="1.3" height="1.3" fill="#4a4a4a"/>
<rect x="279.9" y="271.5" width="1.0" height="1.0" fill="#4a4a4a"/>
<rect x="321.7" y="305.8" width="1.0" height="1.0" fill="#b4b4b4"/>
<rect x="324.1" y="305.4" width="0.8" height="0.8" fill="#666666"/>
<rect x="324.1" y="306.8" width="1.3" height="1.3" fill="#a8a8a8"/>
<rect x="320.7" y="305.0" width="0.8" height="0.8" fill="#666666"/>
<rect x="324.3" y="307.9" width="0.8" height="0.8" fill="#3a3a3a"/>
<rect x="324.2" y="308.0" width="0.8" height="0.8" fill="#585858"/>
<rect x="321.5" y="304.9" width="0.8" height="0.8" fill="#c0c0c0"/>
<rect x="322.4" y="307.2" width="1.3" height="1.3" fill="#c0c0c0"/>
<rect x="322.6" y="306.0" width="0.8" height="0.8" fill="#585858"/>
<rect x="339.3" y="272.4" width="0.8" height="0.8" fill="#b4b4b4"/>
<rect x="334.2" y="277.6" width="1.3" height="1.3" fill="#b4b4b4"/>
<rect x="337.6" y="277.1" width="1.3" height="1.3" fill="#b4b4b4"/>
<rect x="336.1" y="277.4" width="1.1" height="1.1" fill="#666666"/>
<rect x="310.3" y="354.6" width="0.8" height="0.8" fill="#4a4a4a"/>
<rect x="307.7" y="355.8" width="1.0" height="1.0" fill="#3a3a3a"/>
<rect x="309.1" y="354.8" width="1.0" height="1.0" fill="#4a4a4a"/>
<rect x="308.1" y="351.5" width="1.0" height="1.0" fill="#3a3a3a"/>
<rect x="310.8" y="355.4" width="1.3" height="1.3" fill="#585858"/>
<rect x="292.8" y="300.7" width="1.3" height="1.3" fill="#b4b4b4"/>
<rect x="290.9" y="300.7" width="1.3" height="1.3" fill="#4a4a4a"/>
<rect x="293.2" y="300.6" width="1.1" height="1.1" fill="#c0c0c0"/>
<rect x="289.1" y="300.0" width="1.1" height="1.1" fill="#b4b4b4"/>
<rect x="318.7" y="336.5" width="1.3" height="1.3" fill="#a8a8a8"/>
<rect x="318.3" y="338.3" width="0.8" height="0.8" fill="#585858"/>
<rect x="319.7" y="340.2" width="1.0" height="1.0" fill="#4a4a4a"/>
<rect x="309.3" y="301.2" width="1.3" height="1.3" fill="#4a4a4a"/>
<rect x="307.8" y="301.0" width="0.8" height="0.8" fill="#3a3a3a"/>
<rect x="308.1" y="298.8" width="1.0" height="1.0" fill="#585858"/>
<rect x="310.8" y="301.5" width="1.1" height="1.1" fill="#666666"/>
<rect x="311.9" y="302.3" width="1.0" height="1.0" fill="#b4b4b4"/>
<rect x="291.4" y="307.4" width="1.1" height="1.1" fill="#4a4a4a"/>
<rect x="290.6" y="307.4" width="1.0" height="1.0" fill="#c0c0c0"/>
<rect x="291.9" y="306.3" width="1.3" height="1.3" fill="#666666"/>
<rect x="290.9" y="308.9" width="1.0" height="1.0" fill="#4a4a4a"/>
<rect x="291.4" y="307.5" width="1.1" height="1.1" fill="#a8a8a8"/>
<rect x="288.7" y="306.9" width="1.3" height="1.3" fill="#c0c0c0"/>
<rect x="294.7" y="308.4" width="1.3" height="1.3" fill="#c0c0c0"/>
<rect x="291.4" y="309.2" width="0.8" height="0.8" fill="#c0c0c0"/>
<rect x="291.9" y="309.7" width="1.1" height="1.1" fill="#4a4a4a"/>
<rect x="276.9" y="307.9" width="1.0" height="1.0" fill="#c0c0c0"/>
<rect x="276.0" y="308.1" width="1.3" height="1.3" fill="#c0c0c0"/>
<rect x="273.6" y="310.8" width="0.8" height="0.8" fill="#b4b4b4"/>
<rect x="276.6" y="307.4" width="1.0" height="1.0" fill="#3a3a3a"/>
<rect x="308.4" y="276.3" width="0.8" height="0.8" fill="#c0c0c0"/>
<rect x="307.5" y="278.0" width="1.1" height="1.1" fill="#a8a8a8"/>
<rect x="309.3" y="276.4" width="1.0" height="1.0" fill="#4a4a4a"/>
<rect x="308.0" y="276.5" width="0.8" height="0.8" fill="#b4b4b4"/>
<rect x="304.0" y="275.9" width="0.8" height="0.8" fill="#666666"/>
<rect x="299.7" y="264.6" width="1.3" height="1.3" fill="#666666"/>
<rect x="302.0" y="265.5" width="1.1" height="1.1" fill="#a8a8a8"/>
<rect x="300.9" y="265.8" width="0.8" height="0.8" fill="#4a4a4a"/>
<rect x="301.8" y="263.7" width="1.0" height="1.0" fill="#c0c0c0"/>
<rect x="301.6" y="265.5" width="1.3" height="1.3" fill="#c0c0c0"/>
<rect x="298.1" y="263.6" width="0.8" height="0.8" fill="#b4b4b4"/>
<rect x="282.4" y="257.7" width="1.1" height="1.1" fill="#585858"/>
<rect x="285.9" y="255.3" width="0.8" height="0.8" fill="#b4b4b4"/>
<rect x="286.6" y="253.6" width="0.8" height="0.8" fill="#3a3a3a"/>
<rect x="284.6" y="257.8" width="0.8" height="0.8" fill="#666666"/>
<rect x="283.4" y="257.9" width="1.1" height="1.1" fill="#3a3a3a"/>
<rect x="281.6" y="258.4" width="1.3" height="1.3" fill="#3a3a3a"/>
<rect x="284.7" y="260.1" width="1.3" height="1.3" fill="#b4b4b4"/>
<rect x="282.8" y="259.8" width="1.0" height="1.0" fill="#666666"/>
<rect x="287.0" y="258.0" width="1.3" height="1.3" fill="#4a4a4a"/>
<rect x="263.6" y="285.8" width="0.8" height="0.8" fill="#666666"/>
<rect x="264.3" y="288.8" width="1.3" height="1.3" fill="#c0c0c0"/>
<rect x="264.1" y="289.9" width="1.1" height="1.1" fill="#666666"/>
<rect x="264.6" y="290.8" width="1.3" height="1.3" fill="#666666"/>
<rect x="265.1" y="290.8" width="1.0" height="1.0" fill="#666666"/>
<rect x="296.7" y="294.6" width="0.8" height="0.8" fill="#3a3a3a"/>
<rect x="295.0" y="290.4" width="1.1" height="1.1" fill="#585858"/>
<rect x="296.3" y="294.3" width="1.1" height="1.1" fill="#585858"/>
<rect x="295.7" y="294.2" width="0.8" height="0.8" fill="#666666"/>
<rect x="279.3" y="301.6" width="1.0" height="1.0" fill="#666666"/>
<rect x="275.4" y="301.3" width="1.0" height="1.0" fill="#a8a8a8"/>
<rect x="276.6" y="300.5" width="1.1" height="1.1" fill="#585858"/>
<rect x="352.5" y="336.4" width="1.1" height="1.1" fill="#c0c0c0"/>
<rect x="347.1" y="336.7" width="1.1" height="1.1" fill="#c0c0c0"/>
<rect x="352.8" y="337.8" width="1.1" height="1.1" fill="#585858"/>
<rect x="350.9" y="336.8" width="1.3" height="1.3" fill="#3a3a3a"/>
<rect x="350.4" y="338.2" width="1.0" height="1.0" fill="#4a4a4a"/>
<rect x="301.8" y="250.1" width="1.0" height="1.0" fill="#4a4a4a"/>
<rect x="301.4" y="248.8" width="1.3" height="1.3" fill="#3a3a3a"/>
<rect x="304.0" y="245.1" width="0.8" height="0.8" fill="#c0c0c0"/>
<rect x="304.3" y="251.8" width="1.0" height="1.0" fill="#a8a8a8"/>
<rect x="303.3" y="248.2" width="1.3" height="1.3" fill="#3a3a3a"/>
<rect x="301.2" y="296.6" width="1.1" height="1.1" fill="#4a4a4a"/>
<rect x="300.5" y="296.7" width="0.8" height="0.8" fill="#585858"/>
<rect x="302.3" y="300.4" width="1.0" height="1.0" fill="#585858"/>
<rect x="299.2" y="295.2" width="1.3" height="1.3" fill="#585858"/>
<rect x="301.0" y="299.2" width="1.0" height="1.0" fill="#a8a8a8"/>
<rect x="301.0" y="296.5" width="1.0" height="1.0" fill="#666666"/>
<rect x="266.5" y="261.4" width="1.3" height="1.3" fill="#3a3a3a"/>
<rect x="270.1" y="262.1" width="1.1" height="1.1" fill="#4a4a4a"/>
<rect x="272.4" y="263.7" width="1.3" height="1.3" fill="#585858"/>
<rect x="268.8" y="260.3" width="1.3" height="1.3" fill="#c0c0c0"/>
<rect x="270.5" y="260.0" width="1.1" height="1.1" fill="#b4b4b4"/>
<rect x="269.1" y="262.5" width="1.3" height="1.3" fill="#a8a8a8"/>
<rect x="268.8" y="261.5" width="1.1" height="1.1" fill="#b4b4b4"/>
<rect x="271.7" y="261.6" width="1.1" height="1.1" fill="#666666"/>
<rect x="266.6" y="263.6" width="1.3" height="1.3" fill="#666666"/>
<rect x="253.9" y="313.8" width="1.0" height="1.0" fill="#585858"/>
<rect x="255.8" y="310.2" width="0.8" height="0.8" fill="#666666"/>
<rect x="255.8" y="314.1" width="1.1" height="1.1" fill="#3a3a3a"/>
<rect x="254.7" y="311.1" width="1.0" height="1.0" fill="#3a3a3a"/>
<rect x="253.8" y="314.2" width="1.1" height="1.1" fill="#4a4a4a"/>
<rect x="253.4" y="309.0" width="0.8" height="0.8" fill="#c0c0c0"/>
<rect x="251.9" y="312.6" width="1.3" height="1.3" fill="#c0c0c0"/>
<rect x="256.8" y="311.0" width="0.8" height="0.8" fill="#a8a8a8"/>
<rect x="347.7" y="290.0" width="1.3" height="1.3" fill="#3a3a3a"/>
<rect x="347.7" y="286.7" width="0.8" height="0.8" fill="#c0c0c0"/>
<rect x="348.3" y="287.7" width="0.8" height="0.8" fill="#585858"/>
<rect x="314.8" y="295.4" width="1.1" height="1.1" fill="#666666"/>
<rect x="315.0" y="295.6" width="1.3" height="1.3" fill="#3a3a3a"/>
<rect x="315.7" y="296.3" width="0.8" height="0.8" fill="#3a3a3a"/>
<rect x="316.2" y="299.0" width="0.8" height="0.8" fill="#4a4a4a"/>
<rect x="314.1" y="298.4" width="1.1" height="1.1" fill="#3a3a3a"/>
<rect x="315.7" y="297.4" width="1.1" height="1.1" fill="#585858"/>
<rect x="285.0" y="351.7" width="1.1" height="1.1" fill="#3a3a3a"/>
<rect x="282.9" y="352.1" width="1.0" height="1.0" fill="#666666"/>
<rect x="285.1" y="354.3" width="1.3" height="1.3" fill="#585858"/>
<rect x="286.4" y="350.0" width="1.0" height="1.0" fill="#666666"/>
<rect x="284.7" y="350.8" width="1.3" height="1.3" fill="#a8a8a8"/>
<rect x="286.3" y="351.7" width="1.1" height="1.1" fill="#666666"/>
<rect x="284.7" y="351.6" width="1.3" height="1.3" fill="#3a3a3a"/>
<rect x="284.9" y="349.8" width="1.1" height="1.1" fill="#585858"/>
<rect x="382.3" y="227" width="147" height="146.8" fill="#000"/>
<circle cx="455.80" cy="300.40" r="73.40" fill="#8c8c8c"/>
<circle cx="455.80" cy="300.40" r="73.40" fill="#808080" filter="url(#grain)" opacity="0.22"/>
<rect x="428.4" y="266.0" width="0.8" height="0.8" fill="#666666"/>
<rect x="429.7" y="264.9" width="1.0" height="1.0" fill="#a8a8a8"/>
<rect x="425.4" y="262.4" width="1.0" height="1.0" fill="#585858"/>
<rect x="426.2" y="264.7" width="0.8" height="0.8" fill="#585858"/>
<rect x="456.6" y="306.2" width="0.8" height="0.8" fill="#3a3a3a"/>
<rect x="456.3" y="311.4" width="0.8" height="0.8" fill="#4a4a4a"/>
<rect x="453.9" y="306.0" width="1.3" height="1.3" fill="#585858"/>
<rect x="455.9" y="307.3" width="1.1" height="1.1" fill="#c0c0c0"/>
<rect x="455.7" y="340.6" width="1.3" height="1.3" fill="#585858"/>
<rect x="457.3" y="343.2" width="1.1" height="1.1" fill="#3a3a3a"/>
<rect x="459.9" y="342.1" width="0.8" height="0.8" fill="#a8a8a8"/>
<rect x="456.7" y="334.6" width="1.0" height="1.0" fill="#666666"/>
<rect x="455.8" y="335.3" width="0.8" height="0.8" fill="#a8a8a8"/>
<rect x="454.3" y="333.5" width="1.0" height="1.0" fill="#b4b4b4"/>
<rect x="456.5" y="337.6" width="0.8" height="0.8" fill="#3a3a3a"/>
<rect x="455.2" y="334.9" width="1.0" height="1.0" fill="#3a3a3a"/>
<rect x="455.9" y="336.6" width="0.8" height="0.8" fill="#585858"/>
<rect x="395.2" y="297.2" width="1.0" height="1.0" fill="#c0c0c0"/>
<rect x="389.9" y="301.1" width="0.8" height="0.8" fill="#3a3a3a"/>
<rect x="396.7" y="301.7" width="0.8" height="0.8" fill="#666666"/>
<rect x="394.0" y="299.6" width="1.3" height="1.3" fill="#585858"/>
<rect x="482.4" y="317.8" width="1.3" height="1.3" fill="#3a3a3a"/>
<rect x="482.1" y="323.6" width="1.1" height="1.1" fill="#3a3a3a"/>
<rect x="484.5" y="318.8" width="1.1" height="1.1" fill="#585858"/>
<rect x="480.4" y="318.2" width="1.0" height="1.0" fill="#a8a8a8"/>
<rect x="482.1" y="318.5" width="1.3" height="1.3" fill="#b4b4b4"/>
<rect x="482.0" y="317.4" width="1.0" height="1.0" fill="#c0c0c0"/>
<rect x="481.2" y="317.5" width="1.0" height="1.0" fill="#585858"/>
<rect x="483.3" y="322.9" width="1.3" height="1.3" fill="#b4b4b4"/>
<rect x="472.8" y="267.9" width="1.3" height="1.3" fill="#b4b4b4"/>
<rect x="469.5" y="267.6" width="1.3" height="1.3" fill="#a8a8a8"/>
<rect x="470.8" y="265.3" width="1.3" height="1.3" fill="#4a4a4a"/>
<rect x="471.6" y="264.6" width="1.3" height="1.3" fill="#a8a8a8"/>
<rect x="419.4" y="322.0" width="1.0" height="1.0" fill="#b4b4b4"/>
<rect x="419.4" y="319.1" width="1.0" height="1.0" fill="#3a3a3a"/>
<rect x="420.1" y="323.5" width="0.8" height="0.8" fill="#4a4a4a"/>
<rect x="421.1" y="322.3" width="1.1" height="1.1" fill="#c0c0c0"/>
<rect x="419.3" y="319.8" width="1.1" height="1.1" fill="#666666"/>
<rect x="426.5" y="293.1" width="1.0" height="1.0" fill="#4a4a4a"/>
<rect x="424.7" y="290.0" width="1.3" height="1.3" fill="#666666"/>
<rect x="425.7" y="296.2" width="0.8" height="0.8" fill="#3a3a3a"/>
<rect x="422.6" y="292.6" width="1.1" height="1.1" fill="#585858"/>
<rect x="425.9" y="293.7" width="0.8" height="0.8" fill="#4a4a4a"/>
<rect x="426.9" y="293.1" width="1.3" height="1.3" fill="#4a4a4a"/>
<rect x="422.5" y="292.3" width="1.0" height="1.0" fill="#666666"/>
<rect x="426.4" y="292.6" width="0.8" height="0.8" fill="#b4b4b4"/>
<rect x="483.5" y="257.1" width="1.3" height="1.3" fill="#b4b4b4"/>
<rect x="482.8" y="256.9" width="1.0" height="1.0" fill="#3a3a3a"/>
<rect x="479.8" y="257.0" width="1.3" height="1.3" fill="#666666"/>
<rect x="484.2" y="256.6" width="1.0" height="1.0" fill="#585858"/>
<rect x="485.8" y="258.0" width="1.1" height="1.1" fill="#3a3a3a"/>
<rect x="482.5" y="254.8" width="0.8" height="0.8" fill="#585858"/>
<rect x="484.1" y="256.6" width="0.8" height="0.8" fill="#c0c0c0"/>
<rect x="475.4" y="305.1" width="1.1" height="1.1" fill="#4a4a4a"/>
<rect x="476.0" y="303.5" width="1.1" height="1.1" fill="#a8a8a8"/>
<rect x="476.0" y="302.0" width="1.3" height="1.3" fill="#a8a8a8"/>
<rect x="476.6" y="305.1" width="1.3" height="1.3" fill="#3a3a3a"/>
<rect x="474.1" y="306.0" width="1.0" height="1.0" fill="#585858"/>
<rect x="476.4" y="303.5" width="0.8" height="0.8" fill="#c0c0c0"/>
<rect x="474.4" y="303.2" width="1.1" height="1.1" fill="#666666"/>
<rect x="434.5" y="258.6" width="1.3" height="1.3" fill="#666666"/>
<rect x="435.1" y="257.5" width="1.0" height="1.0" fill="#3a3a3a"/>
<rect x="436.2" y="258.1" width="0.8" height="0.8" fill="#666666"/>
<rect x="439.5" y="337.1" width="0.8" height="0.8" fill="#3a3a3a"/>
<rect x="438.6" y="338.4" width="1.1" height="1.1" fill="#c0c0c0"/>
<rect x="440.4" y="337.1" width="1.1" height="1.1" fill="#4a4a4a"/>
<rect x="441.9" y="334.2" width="1.3" height="1.3" fill="#585858"/>
<rect x="441.4" y="335.8" width="0.8" height="0.8" fill="#3a3a3a"/>
<rect x="441.2" y="338.5" width="0.8" height="0.8" fill="#a8a8a8"/>
<rect x="442.4" y="339.9" width="1.0" height="1.0" fill="#666666"/>
<rect x="439.9" y="294.9" width="1.3" height="1.3" fill="#4a4a4a"/>
<rect x="437.0" y="292.7" width="1.0" height="1.0" fill="#3a3a3a"/>
<rect x="438.7" y="294.8" width="1.3" height="1.3" fill="#666666"/>
<rect x="437.7" y="293.9" width="1.3" height="1.3" fill="#3a3a3a"/>
<rect x="437.7" y="291.1" width="1.3" height="1.3" fill="#4a4a4a"/>
<rect x="441.4" y="293.4" width="1.3" height="1.3" fill="#666666"/>
<rect x="438.5" y="292.3" width="1.3" height="1.3" fill="#c0c0c0"/>
<rect x="470.3" y="286.2" width="1.0" height="1.0" fill="#b4b4b4"/>
<rect x="470.8" y="286.0" width="1.0" height="1.0" fill="#666666"/>
<rect x="471.2" y="285.4" width="1.0" height="1.0" fill="#3a3a3a"/>
<rect x="472.4" y="284.4" width="1.0" height="1.0" fill="#3a3a3a"/>
<rect x="474.7" y="288.2" width="1.1" height="1.1" fill="#a8a8a8"/>
<rect x="471.1" y="283.8" width="1.1" height="1.1" fill="#4a4a4a"/>
<rect x="469.9" y="284.1" width="0.8" height="0.8" fill="#4a4a4a"/>
<rect x="509.1" y="288.5" width="1.3" height="1.3" fill="#3a3a3a"/>
<rect x="508.9" y="288.8" width="1.1" height="1.1" fill="#4a4a4a"/>
<rect x="506.4" y="287.6" width="0.8" height="0.8" fill="#585858"/>
<rect x="507.9" y="284.4" width="1.1" height="1.1" fill="#4a4a4a"/>
<rect x="504.8" y="288.8" width="0.8" height="0.8" fill="#b4b4b4"/>
<rect x="506.9" y="287.8" width="0.8" height="0.8" fill="#585858"/>
<rect x="451.6" y="265.1" width="1.0" height="1.0" fill="#4a4a4a"/>
<rect x="447.9" y="262.7" width="1.3" height="1.3" fill="#666666"/>
<rect x="449.1" y="262.6" width="1.1" height="1.1" fill="#b4b4b4"/>
<rect x="451.1" y="260.8" width="1.0" height="1.0" fill="#b4b4b4"/>
<rect x="448.5" y="262.9" width="1.1" height="1.1" fill="#3a3a3a"/>
<rect x="445.9" y="263.5" width="1.3" height="1.3" fill="#4a4a4a"/>
<rect x="484.6" y="311.9" width="1.1" height="1.1" fill="#666666"/>
<rect x="483.8" y="310.2" width="0.8" height="0.8" fill="#666666"/>
<rect x="482.4" y="312.7" width="0.8" height="0.8" fill="#4a4a4a"/>
<rect x="482.3" y="308.5" width="0.8" height="0.8" fill="#585858"/>
<rect x="485.6" y="310.9" width="1.1" height="1.1" fill="#3a3a3a"/>
<rect x="496.1" y="287.4" width="1.3" height="1.3" fill="#4a4a4a"/>
<rect x="498.9" y="286.9" width="1.1" height="1.1" fill="#585858"/>
<rect x="502.2" y="287.1" width="1.1" height="1.1" fill="#4a4a4a"/>
<rect x="497.6" y="284.1" width="1.1" height="1.1" fill="#c0c0c0"/>
<rect x="500.4" y="284.9" width="1.1" height="1.1" fill="#585858"/>
<rect x="508.8" y="317.6" width="1.0" height="1.0" fill="#585858"/>
<rect x="515.0" y="320.5" width="1.3" height="1.3" fill="#3a3a3a"/>
<rect x="509.2" y="317.8" width="1.1" height="1.1" fill="#585858"/>
<rect x="415.5" y="354.4" width="1.0" height="1.0" fill="#666666"/>
<rect x="412.7" y="356.5" width="1.1" height="1.1" fill="#4a4a4a"/>
<rect x="414.5" y="354.0" width="1.1" height="1.1" fill="#666666"/>
<rect x="413.1" y="354.6" width="1.1" height="1.1" fill="#a8a8a8"/>
<rect x="413.8" y="355.5" width="1.1" height="1.1" fill="#3a3a3a"/>
<rect x="413.8" y="352.7" width="1.0" height="1.0" fill="#585858"/>
<rect x="410.9" y="355.1" width="1.0" height="1.0" fill="#c0c0c0"/>
<rect x="412.6" y="353.3" width="1.0" height="1.0" fill="#4a4a4a"/>
<rect x="413.4" y="354.7" width="1.1" height="1.1" fill="#666666"/>
<rect x="487.8" y="324.3" width="1.3" height="1.3" fill="#4a4a4a"/>
<rect x="483.1" y="323.2" width="1.1" height="1.1" fill="#c0c0c0"/>
<rect x="489.5" y="323.8" width="1.3" height="1.3" fill="#4a4a4a"/>
<rect x="488.0" y="324.2" width="0.8" height="0.8" fill="#3a3a3a"/>
<rect x="489.6" y="323.9" width="1.3" height="1.3" fill="#4a4a4a"/>
<rect x="491.0" y="320.8" width="1.1" height="1.1" fill="#c0c0c0"/>
<rect x="485.5" y="323.1" width="0.8" height="0.8" fill="#585858"/>
<rect x="482.8" y="285.3" width="1.0" height="1.0" fill="#585858"/>
<rect x="484.4" y="284.9" width="1.1" height="1.1" fill="#c0c0c0"/>
<rect x="482.8" y="284.6" width="1.3" height="1.3" fill="#585858"/>
<rect x="482.1" y="284.3" width="1.0" height="1.0" fill="#585858"/>
<rect x="483.5" y="289.6" width="1.3" height="1.3" fill="#666666"/>
<rect x="484.8" y="286.8" width="1.0" height="1.0" fill="#c0c0c0"/>
<rect x="484.4" y="283.5" width="1.1" height="1.1" fill="#4a4a4a"/>
<rect x="484.4" y="283.7" width="0.8" height="0.8" fill="#a8a8a8"/>
<rect x="483.4" y="284.9" width="1.3" height="1.3" fill="#c0c0c0"/>
<rect x="422.4" y="307.5" width="1.1" height="1.1" fill="#c0c0c0"/>
<rect x="422.8" y="305.7" width="1.1" height="1.1" fill="#666666"/>
<rect x="420.8" y="310.2" width="1.1" height="1.1" fill="#4a4a4a"/>
<rect x="422.0" y="306.5" width="1.3" height="1.3" fill="#666666"/>
<rect x="455.7" y="309.2" width="1.1" height="1.1" fill="#4a4a4a"/>
<rect x="455.0" y="305.9" width="1.0" height="1.0" fill="#4a4a4a"/>
<rect x="456.4" y="308.4" width="1.1" height="1.1" fill="#585858"/>
<rect x="457.6" y="309.7" width="1.0" height="1.0" fill="#c0c0c0"/>
<rect x="457.8" y="307.5" width="1.1" height="1.1" fill="#666666"/>
<rect x="454.4" y="306.4" width="0.8" height="0.8" fill="#c0c0c0"/>
<rect x="413.7" y="310.0" width="0.8" height="0.8" fill="#a8a8a8"/>
<rect x="412.9" y="312.4" width="1.3" height="1.3" fill="#3a3a3a"/>
<rect x="412.4" y="313.1" width="1.0" height="1.0" fill="#666666"/>
<rect x="413.5" y="311.6" width="0.8" height="0.8" fill="#3a3a3a"/>
<rect x="414.7" y="313.1" width="1.0" height="1.0" fill="#4a4a4a"/>
<rect x="417.2" y="313.9" width="1.3" height="1.3" fill="#4a4a4a"/>
<rect x="413.7" y="311.0" width="0.8" height="0.8" fill="#585858"/>
<rect x="412.7" y="313.2" width="1.0" height="1.0" fill="#4a4a4a"/>
<rect x="443.9" y="346.3" width="1.0" height="1.0" fill="#4a4a4a"/>
<rect x="449.8" y="340.9" width="1.0" height="1.0" fill="#a8a8a8"/>
<rect x="441.7" y="346.0" width="1.0" height="1.0" fill="#3a3a3a"/>
<rect x="443.0" y="343.9" width="0.8" height="0.8" fill="#b4b4b4"/>
<rect x="447.9" y="345.8" width="1.3" height="1.3" fill="#4a4a4a"/>
<rect x="444.0" y="345.3" width="0.8" height="0.8" fill="#a8a8a8"/>
<rect x="443.7" y="342.8" width="1.0" height="1.0" fill="#4a4a4a"/>
<rect x="442.6" y="343.3" width="0.8" height="0.8" fill="#3a3a3a"/>
<rect x="431.7" y="304.6" width="1.1" height="1.1" fill="#a8a8a8"/>
<rect x="431.3" y="305.9" width="1.0" height="1.0" fill="#666666"/>
<rect x="428.6" y="308.7" width="0.8" height="0.8" fill="#b4b4b4"/>
<rect x="431.2" y="308.0" width="1.3" height="1.3" fill="#666666"/>
<rect x="432.7" y="305.8" width="0.8" height="0.8" fill="#4a4a4a"/>
<rect x="417.5" y="316.3" width="1.3" height="1.3" fill="#666666"/>
<rect x="414.8" y="314.6" width="0.8" height="0.8" fill="#3a3a3a"/>
<rect x="417.6" y="314.9" width="0.8" height="0.8" fill="#b4b4b4"/>
<rect x="417.5" y="315.2" width="0.8" height="0.8" fill="#4a4a4a"/>
<rect x="412.8" y="316.0" width="0.8" height="0.8" fill="#c0c0c0"/>
<rect x="414.4" y="318.6" width="0.8" height="0.8" fill="#c0c0c0"/>
<rect x="414.9" y="316.9" width="1.3" height="1.3" fill="#666666"/>
<rect x="414.1" y="315.2" width="0.8" height="0.8" fill="#a8a8a8"/>
<rect x="417.4" y="315.2" width="1.0" height="1.0" fill="#c0c0c0"/>
<rect x="448.7" y="279.0" width="1.3" height="1.3" fill="#b4b4b4"/>
<rect x="445.8" y="278.6" width="1.3" height="1.3" fill="#a8a8a8"/>
<rect x="452.5" y="279.1" width="0.8" height="0.8" fill="#c0c0c0"/>
<rect x="451.2" y="280.3" width="1.0" height="1.0" fill="#666666"/>
<rect x="446.8" y="279.4" width="1.3" height="1.3" fill="#c0c0c0"/>
<rect x="451.6" y="276.2" width="1.3" height="1.3" fill="#666666"/>
<rect x="430.1" y="300.7" width="1.1" height="1.1" fill="#b4b4b4"/>
<rect x="430.5" y="303.2" width="1.0" height="1.0" fill="#666666"/>
<rect x="433.8" y="303.2" width="1.1" height="1.1" fill="#666666"/>
<rect x="431.6" y="303.1" width="1.1" height="1.1" fill="#4a4a4a"/>
<rect x="431.6" y="303.0" width="1.1" height="1.1" fill="#585858"/>
<rect x="429.4" y="303.7" width="1.0" height="1.0" fill="#585858"/>
<rect x="430.5" y="301.8" width="1.1" height="1.1" fill="#b4b4b4"/>
<rect x="456.0" y="348.2" width="1.3" height="1.3" fill="#585858"/>
<rect x="456.1" y="346.2" width="1.0" height="1.0" fill="#a8a8a8"/>
<rect x="457.9" y="345.5" width="1.0" height="1.0" fill="#b4b4b4"/>
<rect x="454.5" y="350.0" width="1.3" height="1.3" fill="#4a4a4a"/>
<rect x="453.2" y="346.5" width="0.8" height="0.8" fill="#c0c0c0"/>
<rect x="456.8" y="347.5" width="1.0" height="1.0" fill="#a8a8a8"/>
<rect x="456.4" y="348.4" width="1.1" height="1.1" fill="#666666"/>
<rect x="455.8" y="347.4" width="1.1" height="1.1" fill="#4a4a4a"/>
<rect x="454.2" y="348.6" width="1.1" height="1.1" fill="#585858"/>
<rect x="458.7" y="338.5" width="1.0" height="1.0" fill="#a8a8a8"/>
<rect x="458.4" y="339.0" width="1.3" height="1.3" fill="#b4b4b4"/>
<rect x="462.4" y="334.5" width="1.0" height="1.0" fill="#666666"/>
<rect x="458.8" y="337.6" width="0.8" height="0.8" fill="#c0c0c0"/>
<rect x="458.9" y="336.7" width="1.3" height="1.3" fill="#3a3a3a"/>
<rect x="404.8" y="308.5" width="1.0" height="1.0" fill="#4a4a4a"/>
<rect x="406.9" y="307.8" width="1.1" height="1.1" fill="#666666"/>
<rect x="404.3" y="311.5" width="1.3" height="1.3" fill="#a8a8a8"/>
<rect x="403.9" y="308.8" width="1.3" height="1.3" fill="#585858"/>
<rect x="406.4" y="307.6" width="1.0" height="1.0" fill="#4a4a4a"/>
<rect x="484.1" y="305.4" width="1.3" height="1.3" fill="#3a3a3a"/>
<rect x="484.7" y="305.2" width="1.3" height="1.3" fill="#585858"/>
<rect x="481.8" y="305.1" width="0.8" height="0.8" fill="#c0c0c0"/>
<rect x="481.8" y="304.9" width="1.3" height="1.3" fill="#c0c0c0"/>
<rect x="485.8" y="308.4" width="1.0" height="1.0" fill="#4a4a4a"/>
<rect x="483.0" y="304.6" width="1.1" height="1.1" fill="#b4b4b4"/>
<rect x="461.6" y="315.8" width="1.3" height="1.3" fill="#585858"/>
<rect x="461.5" y="311.9" width="1.3" height="1.3" fill="#c0c0c0"/>
<rect x="461.5" y="313.4" width="1.0" height="1.0" fill="#666666"/>
<rect x="463.6" y="313.9" width="1.3" height="1.3" fill="#c0c0c0"/>
<rect x="436.3" y="332.7" width="1.1" height="1.1" fill="#3a3a3a"/>
<rect x="434.7" y="332.9" width="1.3" height="1.3" fill="#4a4a4a"/>
<rect x="435.6" y="327.8" width="0.8" height="0.8" fill="#585858"/>
<rect x="435.2" y="327.9" width="1.1" height="1.1" fill="#585858"/>
<rect x="434.1" y="332.5" width="0.8" height="0.8" fill="#4a4a4a"/>
<rect x="432.7" y="330.4" width="0.8" height="0.8" fill="#666666"/>
<rect x="434.5" y="331.3" width="0.8" height="0.8" fill="#3a3a3a"/>
<rect x="434.8" y="328.4" width="1.3" height="1.3" fill="#3a3a3a"/>
<rect x="494.8" y="304.2" width="1.0" height="1.0" fill="#585858"/>
<rect x="492.3" y="305.6" width="1.0" height="1.0" fill="#c0c0c0"/>
<rect x="494.2" y="306.3" width="1.3" height="1.3" fill="#a8a8a8"/>
<rect x="493.9" y="305.6" width="0.8" height="0.8" fill="#c0c0c0"/>
<rect x="493.2" y="310.4" width="1.1" height="1.1" fill="#a8a8a8"/>
<rect x="491.8" y="308.7" width="1.3" height="1.3" fill="#c0c0c0"/>
<rect x="492.6" y="307.5" width="1.3" height="1.3" fill="#666666"/>
<rect x="494.4" y="308.1" width="1.3" height="1.3" fill="#c0c0c0"/>
<rect x="493.7" y="304.5" width="0.8" height="0.8" fill="#3a3a3a"/>
<rect x="511.6" y="268.2" width="1.1" height="1.1" fill="#666666"/>
<rect x="514.6" y="268.6" width="1.1" height="1.1" fill="#c0c0c0"/>
<rect x="514.9" y="267.1" width="1.1" height="1.1" fill="#666666"/>
<rect x="513.4" y="264.9" width="1.3" height="1.3" fill="#c0c0c0"/>
<rect x="515.2" y="267.3" width="1.3" height="1.3" fill="#4a4a4a"/>
<rect x="514.6" y="266.4" width="1.1" height="1.1" fill="#585858"/>
<rect x="515.5" y="265.4" width="1.0" height="1.0" fill="#3a3a3a"/>
<rect x="465.4" y="269.7" width="1.1" height="1.1" fill="#3a3a3a"/>
<rect x="464.1" y="270.8" width="1.1" height="1.1" fill="#666666"/>
<rect x="466.1" y="273.4" width="1.0" height="1.0" fill="#4a4a4a"/>
<rect x="437.4" y="253.4" width="1.0" height="1.0" fill="#585858"/>
<rect x="437.3" y="250.7" width="1.0" height="1.0" fill="#4a4a4a"/>
<rect x="433.6" y="255.2" width="0.8" height="0.8" fill="#b4b4b4"/>
<rect x="436.0" y="253.2" width="1.1" height="1.1" fill="#a8a8a8"/>
<rect x="434.6" y="256.5" width="1.0" height="1.0" fill="#4a4a4a"/>
<rect x="437.1" y="255.0" width="1.3" height="1.3" fill="#4a4a4a"/>
<rect x="435.4" y="257.1" width="1.3" height="1.3" fill="#585858"/>
<rect x="434.3" y="253.4" width="1.1" height="1.1" fill="#3a3a3a"/>
<rect x="432.2" y="259.6" width="1.0" height="1.0" fill="#666666"/>
<rect x="430.1" y="280.5" width="1.1" height="1.1" fill="#b4b4b4"/>
<rect x="428.4" y="280.8" width="1.1" height="1.1" fill="#3a3a3a"/>
<rect x="430.4" y="281.9" width="0.8" height="0.8" fill="#3a3a3a"/>
<rect x="431.8" y="281.9" width="1.1" height="1.1" fill="#c0c0c0"/>
<rect x="478.5" y="277.8" width="1.3" height="1.3" fill="#4a4a4a"/>
<rect x="472.4" y="277.8" width="1.0" height="1.0" fill="#585858"/>
<rect x="474.0" y="278.1" width="0.8" height="0.8" fill="#666666"/>
<rect x="474.3" y="281.3" width="0.8" height="0.8" fill="#666666"/>
<rect x="475.1" y="281.9" width="1.0" height="1.0" fill="#c0c0c0"/>
<rect x="476.3" y="278.5" width="0.8" height="0.8" fill="#666666"/>
<rect x="476.9" y="278.0" width="0.8" height="0.8" fill="#666666"/>
<rect x="474.7" y="278.8" width="1.0" height="1.0" fill="#a8a8a8"/>
<rect x="527.4" y="308.2" width="1.0" height="1.0" fill="#b4b4b4"/>
<rect x="522.9" y="308.0" width="1.1" height="1.1" fill="#3a3a3a"/>
<rect x="521.4" y="310.2" width="0.8" height="0.8" fill="#3a3a3a"/>
<rect x="526.3" y="305.0" width="1.0" height="1.0" fill="#4a4a4a"/>
<rect x="525.6" y="308.8" width="1.3" height="1.3" fill="#3a3a3a"/>
<rect x="440.6" y="297.2" width="1.0" height="1.0" fill="#666666"/>
<rect x="439.1" y="297.8" width="1.0" height="1.0" fill="#666666"/>
<rect x="440.3" y="297.6" width="1.3" height="1.3" fill="#c0c0c0"/>
<rect x="437.4" y="297.4" width="1.3" height="1.3" fill="#a8a8a8"/>
<rect x="439.0" y="299.1" width="1.3" height="1.3" fill="#a8a8a8"/>
<rect x="439.0" y="298.2" width="1.3" height="1.3" fill="#4a4a4a"/>
<rect x="438.1" y="293.4" width="1.3" height="1.3" fill="#3a3a3a"/>
<rect x="439.9" y="295.9" width="1.1" height="1.1" fill="#666666"/>
<rect x="458.9" y="311.2" width="0.8" height="0.8" fill="#c0c0c0"/>
<rect x="457.9" y="307.0" width="1.3" height="1.3" fill="#3a3a3a"/>
<rect x="459.4" y="308.6" width="1.3" height="1.3" fill="#a8a8a8"/>
<rect x="459.5" y="307.6" width="0.8" height="0.8" fill="#666666"/>
<rect x="459.4" y="310.6" width="0.8" height="0.8" fill="#666666"/>
<rect x="456.4" y="309.4" width="1.0" height="1.0" fill="#b4b4b4"/>
<rect x="452.1" y="278.8" width="1.1" height="1.1" fill="#585858"/>
<rect x="452.1" y="276.4" width="1.0" height="1.0" fill="#b4b4b4"/>
<rect x="453.1" y="276.3" width="0.8" height="0.8" fill="#666666"/>
<rect x="465.4" y="317.9" width="1.3" height="1.3" fill="#585858"/>
<rect x="468.2" y="319.0" width="1.3" height="1.3" fill="#c0c0c0"/>
<rect x="464.9" y="315.0" width="1.0" height="1.0" fill="#b4b4b4"/>
<rect x="513.4" y="305.0" width="1.3" height="1.3" fill="#585858"/>
<rect x="509.7" y="304.0" width="0.8" height="0.8" fill="#666666"/>
<rect x="509.1" y="305.2" width="1.1" height="1.1" fill="#666666"/>
<rect x="510.9" y="304.3" width="1.0" height="1.0" fill="#585858"/>
<rect x="510.0" y="305.9" width="0.8" height="0.8" fill="#b4b4b4"/>
<rect x="510.4" y="303.5" width="1.1" height="1.1" fill="#3a3a3a"/>
<rect x="510.8" y="301.5" width="1.3" height="1.3" fill="#585858"/>
<rect x="512.0" y="306.6" width="0.8" height="0.8" fill="#3a3a3a"/>
<rect x="456.2" y="325.6" width="1.1" height="1.1" fill="#585858"/>
<rect x="456.7" y="322.3" width="1.3" height="1.3" fill="#b4b4b4"/>
<rect x="456.3" y="325.8" width="0.8" height="0.8" fill="#3a3a3a"/>
<rect x="455.8" y="323.9" width="1.3" height="1.3" fill="#4a4a4a"/>
<rect x="458.0" y="325.4" width="1.1" height="1.1" fill="#585858"/>
<rect x="461.3" y="325.9" width="1.1" height="1.1" fill="#3a3a3a"/>
<rect x="431.9" y="315.8" width="1.1" height="1.1" fill="#a8a8a8"/>
<rect x="429.3" y="316.6" width="1.0" height="1.0" fill="#3a3a3a"/>
<rect x="430.3" y="313.5" width="1.3" height="1.3" fill="#a8a8a8"/>
<rect x="428.6" y="314.6" width="1.1" height="1.1" fill="#3a3a3a"/>
<rect x="427.5" y="313.0" width="1.1" height="1.1" fill="#b4b4b4"/>
<rect x="426.4" y="317.4" width="1.3" height="1.3" fill="#585858"/>
<rect x="427.2" y="316.8" width="1.0" height="1.0" fill="#3a3a3a"/>
<rect x="472.7" y="320.6" width="1.0" height="1.0" fill="#4a4a4a"/>
<rect x="473.3" y="324.8" width="1.1" height="1.1" fill="#3a3a3a"/>
<rect x="471.8" y="322.3" width="1.3" height="1.3" fill="#3a3a3a"/>
<rect x="472.2" y="328.2" width="1.1" height="1.1" fill="#666666"/>
<rect x="473.0" y="321.9" width="0.8" height="0.8" fill="#585858"/>
<rect x="471.8" y="322.1" width="1.3" height="1.3" fill="#666666"/>
<rect x="450.7" y="344.5" width="0.8" height="0.8" fill="#a8a8a8"/>
<rect x="448.9" y="343.0" width="1.1" height="1.1" fill="#a8a8a8"/>
<rect x="447.4" y="343.4" width="1.3" height="1.3" fill="#3a3a3a"/>
<rect x="447.8" y="344.0" width="1.1" height="1.1" fill="#666666"/>
<rect x="448.6" y="345.2" width="1.3" height="1.3" fill="#3a3a3a"/>
<rect x="451.2" y="344.0" width="0.8" height="0.8" fill="#a8a8a8"/>
<rect x="449.4" y="345.0" width="0.8" height="0.8" fill="#3a3a3a"/>
<rect x="419.3" y="287.0" width="1.0" height="1.0" fill="#c0c0c0"/>
<rect x="419.7" y="289.9" width="1.0" height="1.0" fill="#3a3a3a"/>
<rect x="417.7" y="288.1" width="1.0" height="1.0" fill="#b4b4b4"/>
<rect x="418.5" y="290.4" width="1.3" height="1.3" fill="#585858"/>
<rect x="419.2" y="287.8" width="1.0" height="1.0" fill="#666666"/>
<rect x="422.3" y="288.3" width="1.3" height="1.3" fill="#a8a8a8"/>
<rect x="419.5" y="287.0" width="1.1" height="1.1" fill="#585858"/>
<rect x="419.7" y="287.4" width="1.0" height="1.0" fill="#c0c0c0"/>
<rect x="395.4" y="316.9" width="0.8" height="0.8" fill="#3a3a3a"/>
<rect x="397.5" y="313.9" width="1.0" height="1.0" fill="#666666"/>
<rect x="397.4" y="313.6" width="1.3" height="1.3" fill="#c0c0c0"/>
<rect x="397.4" y="313.4" width="0.8" height="0.8" fill="#c0c0c0"/>
<rect x="397.9" y="316.3" width="0.8" height="0.8" fill="#3a3a3a"/>
<rect x="395.8" y="315.8" width="1.1" height="1.1" fill="#666666"/>
<rect x="398.2" y="316.4" width="0.8" height="0.8" fill="#c0c0c0"/>
<rect x="394.9" y="312.9" width="0.8" height="0.8" fill="#666666"/>
<rect x="395.5" y="315.2" width="1.1" height="1.1" fill="#b4b4b4"/>
<rect x="500.4" y="347.2" width="0.8" height="0.8" fill="#3a3a3a"/>
<rect x="498.2" y="346.9" width="0.8" height="0.8" fill="#3a3a3a"/>
<rect x="501.6" y="344.7" width="1.3" height="1.3" fill="#3a3a3a"/>
<rect x="500.5" y="345.8" width="1.1" height="1.1" fill="#4a4a4a"/>
<rect x="507.2" y="293.1" width="1.3" height="1.3" fill="#585858"/>
<rect x="507.6" y="289.3" width="1.1" height="1.1" fill="#b4b4b4"/>
<rect x="509.5" y="286.1" width="0.8" height="0.8" fill="#3a3a3a"/>
<rect x="511.4" y="290.1" width="0.8" height="0.8" fill="#c0c0c0"/>
<rect x="506.2" y="288.7" width="1.3" height="1.3" fill="#3a3a3a"/>
<rect x="464.5" y="291.1" width="1.3" height="1.3" fill="#666666"/>
<rect x="463.2" y="289.0" width="0.8" height="0.8" fill="#585858"/>
<rect x="464.5" y="292.8" width="1.0" height="1.0" fill="#a8a8a8"/>
<rect x="465.8" y="288.1" width="1.3" height="1.3" fill="#585858"/>
<rect x="466.2" y="288.7" width="1.0" height="1.0" fill="#b4b4b4"/>
<rect x="468.7" y="290.2" width="1.0" height="1.0" fill="#3a3a3a"/>
<rect x="442.6" y="287.1" width="1.1" height="1.1" fill="#4a4a4a"/>
<rect x="443.8" y="288.6" width="0.8" height="0.8" fill="#3a3a3a"/>
<rect x="445.0" y="285.1" width="1.1" height="1.1" fill="#a8a8a8"/>
<rect x="443.2" y="287.4" width="1.0" height="1.0" fill="#585858"/>
<rect x="441.9" y="284.6" width="1.1" height="1.1" fill="#a8a8a8"/>
<rect x="442.5" y="288.0" width="1.1" height="1.1" fill="#666666"/>
<rect x="446.0" y="284.0" width="1.3" height="1.3" fill="#4a4a4a"/>
<rect x="444.0" y="285.6" width="0.8" height="0.8" fill="#666666"/>
<rect x="392.8" y="269.3" width="1.3" height="1.3" fill="#585858"/>
<rect x="399.0" y="268.3" width="1.3" height="1.3" fill="#4a4a4a"/>
<rect x="400.1" y="269.1" width="1.3" height="1.3" fill="#585858"/>
<rect x="396.4" y="272.3" width="1.3" height="1.3" fill="#a8a8a8"/>
<rect x="397.9" y="273.7" width="1.0" height="1.0" fill="#b4b4b4"/>
<rect x="395.2" y="272.8" width="1.0" height="1.0" fill="#666666"/>
<rect x="406.9" y="337.5" width="1.0" height="1.0" fill="#b4b4b4"/>
<rect x="408.9" y="338.1" width="0.8" height="0.8" fill="#a8a8a8"/>
<rect x="408.1" y="337.1" width="1.1" height="1.1" fill="#b4b4b4"/>
<rect x="408.5" y="333.2" width="1.0" height="1.0" fill="#666666"/>
<rect x="409.8" y="334.2" width="1.3" height="1.3" fill="#a8a8a8"/>
<rect x="409.9" y="335.0" width="1.1" height="1.1" fill="#666666"/>
<rect x="412.5" y="334.5" width="0.8" height="0.8" fill="#a8a8a8"/>
<rect x="412.3" y="335.7" width="1.0" height="1.0" fill="#666666"/>
<rect x="458.0" y="305.2" width="1.3" height="1.3" fill="#585858"/>
<rect x="458.2" y="302.4" width="1.0" height="1.0" fill="#3a3a3a"/>
<rect x="456.4" y="305.8" width="0.8" height="0.8" fill="#a8a8a8"/>
<rect x="456.3" y="301.8" width="0.8" height="0.8" fill="#666666"/>
<rect x="456.2" y="301.9" width="1.1" height="1.1" fill="#666666"/>
<rect x="440.3" y="331.9" width="1.3" height="1.3" fill="#585858"/>
<rect x="443.2" y="334.8" width="0.8" height="0.8" fill="#a8a8a8"/>
<rect x="441.0" y="335.4" width="1.0" height="1.0" fill="#4a4a4a"/>
<rect x="443.7" y="336.6" width="0.8" height="0.8" fill="#a8a8a8"/>
<rect x="442.2" y="335.4" width="1.1" height="1.1" fill="#b4b4b4"/>
<rect x="443.4" y="330.4" width="1.3" height="1.3" fill="#3a3a3a"/>
<rect x="441.1" y="335.0" width="1.1" height="1.1" fill="#4a4a4a"/>
<rect x="407.7" y="288.7" width="1.0" height="1.0" fill="#585858"/>
<rect x="409.2" y="289.9" width="0.8" height="0.8" fill="#3a3a3a"/>
<rect x="408.0" y="288.6" width="1.3" height="1.3" fill="#3a3a3a"/>
<rect x="406.6" y="287.3" width="1.1" height="1.1" fill="#4a4a4a"/>
<rect x="407.9" y="287.8" width="0.8" height="0.8" fill="#a8a8a8"/>
<rect x="409.3" y="290.3" width="1.0" height="1.0" fill="#3a3a3a"/>
<rect x="515.7" y="331.3" width="1.3" height="1.3" fill="#3a3a3a"/>
<rect x="512.0" y="328.9" width="0.8" height="0.8" fill="#585858"/>
<rect x="512.6" y="327.0" width="1.1" height="1.1" fill="#a8a8a8"/>
<rect x="510.3" y="329.5" width="1.1" height="1.1" fill="#c0c0c0"/>
<rect x="513.1" y="331.6" width="1.3" height="1.3" fill="#3a3a3a"/>
<rect x="418.4" y="350.2" width="1.0" height="1.0" fill="#c0c0c0"/>
<rect x="416.6" y="350.2" width="1.1" height="1.1" fill="#a8a8a8"/>
<rect x="418.4" y="349.7" width="1.0" height="1.0" fill="#585858"/>
<rect x="421.5" y="349.8" width="1.0" height="1.0" fill="#666666"/>
<rect x="419.4" y="351.9" width="0.8" height="0.8" fill="#c0c0c0"/>
<rect x="419.8" y="349.0" width="1.3" height="1.3" fill="#585858"/>
<rect x="417.5" y="352.1" width="0.8" height="0.8" fill="#3a3a3a"/>
<rect x="483.3" y="255.0" width="1.1" height="1.1" fill="#b4b4b4"/>
<rect x="482.0" y="253.5" width="1.0" height="1.0" fill="#3a3a3a"/>
<rect x="481.4" y="251.5" width="1.3" height="1.3" fill="#4a4a4a"/>
<rect x="474.3" y="312.6" width="1.1" height="1.1" fill="#666666"/>
<rect x="475.1" y="310.7" width="1.0" height="1.0" fill="#3a3a3a"/>
<rect x="477.0" y="309.9" width="1.0" height="1.0" fill="#a8a8a8"/>
<rect x="477.9" y="309.6" width="1.3" height="1.3" fill="#666666"/>
<rect x="474.6" y="311.2" width="1.1" height="1.1" fill="#585858"/>
<rect x="475.1" y="307.1" width="1.3" height="1.3" fill="#a8a8a8"/>
<rect x="477.3" y="312.4" width="1.0" height="1.0" fill="#3a3a3a"/>
<rect x="478.9" y="311.3" width="1.3" height="1.3" fill="#c0c0c0"/>
<rect x="461.1" y="276.8" width="1.3" height="1.3" fill="#3a3a3a"/>
<rect x="464.1" y="277.1" width="1.0" height="1.0" fill="#c0c0c0"/>
<rect x="461.5" y="275.2" width="1.3" height="1.3" fill="#c0c0c0"/>
<rect x="461.0" y="273.6" width="1.3" height="1.3" fill="#666666"/>
<rect x="460.7" y="275.8" width="1.0" height="1.0" fill="#4a4a4a"/>
<rect x="458.7" y="273.6" width="1.3" height="1.3" fill="#585858"/>
<rect x="459.9" y="273.1" width="1.0" height="1.0" fill="#666666"/>
<rect x="462.8" y="274.8" width="1.0" height="1.0" fill="#4a4a4a"/>
<rect x="463.1" y="271.0" width="1.1" height="1.1" fill="#3a3a3a"/>
<rect x="412.7" y="292.9" width="0.8" height="0.8" fill="#3a3a3a"/>
<rect x="412.8" y="288.2" width="1.0" height="1.0" fill="#666666"/>
<rect x="411.3" y="293.8" width="1.3" height="1.3" fill="#3a3a3a"/>
<rect x="414.5" y="288.6" width="1.0" height="1.0" fill="#c0c0c0"/>
<rect x="411.8" y="289.5" width="1.3" height="1.3" fill="#4a4a4a"/>
<rect x="410.7" y="291.8" width="0.8" height="0.8" fill="#585858"/>
<rect x="410.2" y="291.7" width="1.1" height="1.1" fill="#666666"/>
<rect x="411.6" y="290.9" width="1.3" height="1.3" fill="#a8a8a8"/>
<rect x="411.5" y="289.3" width="0.8" height="0.8" fill="#585858"/>
<rect x="394.0" y="303.7" width="1.1" height="1.1" fill="#585858"/>
<rect x="394.1" y="305.8" width="1.1" height="1.1" fill="#b4b4b4"/>
<rect x="394.3" y="303.7" width="0.8" height="0.8" fill="#3a3a3a"/>
<rect x="393.4" y="306.8" width="1.0" height="1.0" fill="#3a3a3a"/>
<rect x="394.6" y="303.6" width="1.0" height="1.0" fill="#a8a8a8"/>
<rect x="395.4" y="307.5" width="1.1" height="1.1" fill="#a8a8a8"/>
<rect x="397.6" y="303.1" width="0.8" height="0.8" fill="#a8a8a8"/>
<rect x="494.8" y="270.5" width="1.3" height="1.3" fill="#585858"/>
<rect x="496.6" y="272.0" width="1.3" height="1.3" fill="#4a4a4a"/>
<rect x="493.7" y="271.3" width="1.0" height="1.0" fill="#4a4a4a"/>
<rect x="494.3" y="274.2" width="1.1" height="1.1" fill="#666666"/>
<rect x="494.7" y="272.9" width="1.3" height="1.3" fill="#585858"/>
<rect x="496.2" y="274.7" width="0.8" height="0.8" fill="#666666"/>
<rect x="498.2" y="272.6" width="1.0" height="1.0" fill="#666666"/>
<rect x="496.6" y="272.8" width="1.0" height="1.0" fill="#4a4a4a"/>
<rect x="497.0" y="273.3" width="1.3" height="1.3" fill="#a8a8a8"/>
<rect x="419.0" y="332.6" width="1.0" height="1.0" fill="#b4b4b4"/>
<rect x="419.1" y="335.4" width="1.1" height="1.1" fill="#666666"/>
<rect x="418.1" y="335.1" width="1.1" height="1.1" fill="#666666"/>
<rect x="418.4" y="332.7" width="1.0" height="1.0" fill="#666666"/>
<rect x="418.4" y="332.6" width="1.0" height="1.0" fill="#c0c0c0"/>
<rect x="420.3" y="333.2" width="1.0" height="1.0" fill="#b4b4b4"/>
<rect x="418.1" y="332.1" width="1.3" height="1.3" fill="#3a3a3a"/>
<rect x="418.2" y="334.2" width="1.3" height="1.3" fill="#b4b4b4"/>
<rect x="489.6" y="341.4" width="1.1" height="1.1" fill="#585858"/>
<rect x="493.3" y="343.1" width="0.8" height="0.8" fill="#4a4a4a"/>
<rect x="490.1" y="343.5" width="1.1" height="1.1" fill="#4a4a4a"/>
<rect x="493.2" y="342.4" width="0.8" height="0.8" fill="#a8a8a8"/>
<rect x="491.4" y="342.7" width="1.0" height="1.0" fill="#b4b4b4"/>
<rect x="491.6" y="343.5" width="1.3" height="1.3" fill="#666666"/>
<rect x="489.9" y="298.8" width="1.1" height="1.1" fill="#c0c0c0"/>
<rect x="492.7" y="298.0" width="1.1" height="1.1" fill="#666666"/>
<rect x="490.4" y="296.9" width="1.1" height="1.1" fill="#3a3a3a"/>
<rect x="491.7" y="297.0" width="1.1" height="1.1" fill="#666666"/>
<rect x="492.8" y="299.6" width="1.3" height="1.3" fill="#666666"/>
<rect x="490.4" y="298.9" width="0.8" height="0.8" fill="#a8a8a8"/>
<rect x="492.1" y="296.3" width="1.3" height="1.3" fill="#3a3a3a"/>
<rect x="490.9" y="328.8" width="1.1" height="1.1" fill="#c0c0c0"/>
<rect x="487.9" y="330.6" width="1.1" height="1.1" fill="#666666"/>
<rect x="488.3" y="327.8" width="0.8" height="0.8" fill="#c0c0c0"/>
<rect x="489.8" y="328.5" width="1.1" height="1.1" fill="#666666"/>
<rect x="490.6" y="326.0" width="1.1" height="1.1" fill="#666666"/>
<rect x="491.0" y="240.0" width="1.3" height="1.3" fill="#a8a8a8"/>
<rect x="488.3" y="239.1" width="1.0" height="1.0" fill="#4a4a4a"/>
<rect x="490.9" y="238.5" width="1.3" height="1.3" fill="#b4b4b4"/>
<rect x="488.2" y="240.0" width="1.3" height="1.3" fill="#4a4a4a"/>
<rect x="488.4" y="239.9" width="1.3" height="1.3" fill="#c0c0c0"/>
<rect x="483.5" y="274.7" width="0.8" height="0.8" fill="#585858"/>
<rect x="481.8" y="276.5" width="1.3" height="1.3" fill="#4a4a4a"/>
<rect x="483.9" y="274.7" width="1.1" height="1.1" fill="#c0c0c0"/>
<rect x="482.7" y="277.2" width="1.3" height="1.3" fill="#4a4a4a"/>
<rect x="468.3" y="345.4" width="1.3" height="1.3" fill="#4a4a4a"/>
<rect x="467.0" y="343.2" width="1.3" height="1.3" fill="#585858"/>
<rect x="467.2" y="345.8" width="1.1" height="1.1" fill="#666666"/>
<rect x="469.1" y="347.6" width="0.8" height="0.8" fill="#3a3a3a"/>
<rect x="467.8" y="346.9" width="1.1" height="1.1" fill="#4a4a4a"/>
<rect x="409.4" y="292.6" width="1.3" height="1.3" fill="#b4b4b4"/>
<rect x="408.5" y="291.3" width="0.8" height="0.8" fill="#4a4a4a"/>
<rect x="411.0" y="293.3" width="1.3" height="1.3" fill="#4a4a4a"/>
<rect x="410.3" y="295.4" width="1.3" height="1.3" fill="#a8a8a8"/>
<rect x="500.3" y="308.6" width="1.0" height="1.0" fill="#585858"/>
<rect x="502.3" y="310.4" width="1.1" height="1.1" fill="#585858"/>
<rect x="501.4" y="309.3" width="1.0" height="1.0" fill="#c0c0c0"/>
<rect x="499.6" y="310.0" width="1.0" height="1.0" fill="#c0c0c0"/>
<rect x="500.6" y="305.0" width="1.3" height="1.3" fill="#a8a8a8"/>
<rect x="503.7" y="311.3" width="1.1" height="1.1" fill="#c0c0c0"/>
<rect x="500.3" y="307.8" width="0.8" height="0.8" fill="#585858"/>
<rect x="500.9" y="306.5" width="1.3" height="1.3" fill="#a8a8a8"/>
<rect x="499.8" y="309.3" width="1.0" height="1.0" fill="#b4b4b4"/>
<rect x="433.6" y="318.7" width="1.1" height="1.1" fill="#4a4a4a"/>
<rect x="432.2" y="317.3" width="1.3" height="1.3" fill="#3a3a3a"/>
<rect x="434.9" y="317.7" width="1.1" height="1.1" fill="#a8a8a8"/>
<rect x="433.7" y="320.1" width="1.3" height="1.3" fill="#4a4a4a"/>
<rect x="430.9" y="315.2" width="1.0" height="1.0" fill="#585858"/>
<rect x="433.4" y="317.7" width="1.3" height="1.3" fill="#b4b4b4"/>
<rect x="431.3" y="318.5" width="1.1" height="1.1" fill="#4a4a4a"/>
<rect x="417.4" y="355.9" width="1.1" height="1.1" fill="#585858"/>
<rect x="417.4" y="357.6" width="0.8" height="0.8" fill="#585858"/>
<rect x="413.6" y="357.4" width="0.8" height="0.8" fill="#a8a8a8"/>
<rect x="416.6" y="357.5" width="0.8" height="0.8" fill="#b4b4b4"/>
<rect x="417.8" y="357.7" width="1.3" height="1.3" fill="#4a4a4a"/>
<rect x="416.3" y="356.9" width="1.1" height="1.1" fill="#a8a8a8"/>
<rect x="414.9" y="357.1" width="1.0" height="1.0" fill="#3a3a3a"/>
<rect x="416.9" y="357.5" width="0.8" height="0.8" fill="#666666"/>
<rect x="482.7" y="305.9" width="1.1" height="1.1" fill="#585858"/>
<rect x="485.5" y="302.3" width="0.8" height="0.8" fill="#585858"/>
<rect x="485.8" y="302.7" width="1.3" height="1.3" fill="#585858"/>
<rect x="482.3" y="300.2" width="1.0" height="1.0" fill="#a8a8a8"/>
<rect x="463.9" y="284.8" width="1.3" height="1.3" fill="#666666"/>
<rect x="466.0" y="284.8" width="1.3" height="1.3" fill="#3a3a3a"/>
<rect x="463.2" y="285.6" width="1.3" height="1.3" fill="#b4b4b4"/>
<rect x="466.3" y="284.7" width="1.0" height="1.0" fill="#a8a8a8"/>
<rect x="463.8" y="286.4" width="1.0" height="1.0" fill="#4a4a4a"/>
<rect x="475.4" y="314.0" width="1.0" height="1.0" fill="#585858"/>
<rect x="472.8" y="316.4" width="1.1" height="1.1" fill="#a8a8a8"/>
<rect x="474.9" y="314.4" width="1.3" height="1.3" fill="#c0c0c0"/>
<rect x="466.4" y="331.1" width="1.0" height="1.0" fill="#3a3a3a"/>
<rect x="470.2" y="334.7" width="1.1" height="1.1" fill="#b4b4b4"/>
<rect x="469.4" y="331.7" width="1.0" height="1.0" fill="#a8a8a8"/>
<rect x="467.3" y="330.1" width="1.0" height="1.0" fill="#4a4a4a"/>
<rect x="464.0" y="331.5" width="1.1" height="1.1" fill="#666666"/>
<rect x="467.1" y="334.0" width="1.3" height="1.3" fill="#c0c0c0"/>
<rect x="469.3" y="333.4" width="1.3" height="1.3" fill="#585858"/>
<rect x="467.7" y="333.1" width="1.0" height="1.0" fill="#4a4a4a"/>
<rect x="543.4" y="227" width="147" height="146.8" fill="#000"/>
<circle cx="616.90" cy="300.40" r="73.40" fill="#8c8c8c"/>
<circle cx="616.90" cy="300.40" r="73.40" fill="#808080" filter="url(#grain)" opacity="0.22"/>
<rect x="606.9" y="289.7" width="1.1" height="1.1" fill="#3a3a3a"/>
<rect x="602.8" y="288.5" width="0.8" height="0.8" fill="#4a4a4a"/>
<rect x="604.1" y="291.3" width="1.1" height="1.1" fill="#666666"/>
<rect x="600.8" y="290.6" width="0.8" height="0.8" fill="#b4b4b4"/>
<rect x="600.9" y="290.4" width="1.0" height="1.0" fill="#c0c0c0"/>
<rect x="602.9" y="289.1" width="1.1" height="1.1" fill="#a8a8a8"/>
<rect x="604.4" y="289.8" width="1.3" height="1.3" fill="#585858"/>
<rect x="605.3" y="290.9" width="1.0" height="1.0" fill="#3a3a3a"/>
<rect x="602.0" y="289.3" width="0.8" height="0.8" fill="#b4b4b4"/>
<rect x="575.9" y="303.5" width="1.3" height="1.3" fill="#3a3a3a"/>
<rect x="572.1" y="303.6" width="0.8" height="0.8" fill="#4a4a4a"/>
<rect x="579.1" y="300.9" width="0.8" height="0.8" fill="#3a3a3a"/>
<rect x="616.8" y="315.4" width="1.3" height="1.3" fill="#4a4a4a"/>
<rect x="615.0" y="313.7" width="1.0" height="1.0" fill="#b4b4b4"/>
<rect x="611.4" y="314.4" width="1.0" height="1.0" fill="#c0c0c0"/>
<rect x="619.2" y="314.0" width="1.1" height="1.1" fill="#3a3a3a"/>
<rect x="613.6" y="316.3" width="1.0" height="1.0" fill="#666666"/>
<rect x="575.3" y="317.0" width="0.8" height="0.8" fill="#666666"/>
<rect x="580.0" y="317.2" width="1.1" height="1.1" fill="#3a3a3a"/>
<rect x="579.7" y="320.6" width="1.0" height="1.0" fill="#4a4a4a"/>
<rect x="577.7" y="319.8" width="1.3" height="1.3" fill="#4a4a4a"/>
<rect x="579.3" y="319.2" width="1.1" height="1.1" fill="#585858"/>
<rect x="575.7" y="320.5" width="0.8" height="0.8" fill="#c0c0c0"/>
<rect x="638.7" y="276.8" width="1.3" height="1.3" fill="#585858"/>
<rect x="639.4" y="282.9" width="0.8" height="0.8" fill="#3a3a3a"/>
<rect x="639.0" y="280.0" width="1.1" height="1.1" fill="#666666"/>
<rect x="637.0" y="280.7" width="1.3" height="1.3" fill="#4a4a4a"/>
<rect x="639.1" y="280.6" width="1.3" height="1.3" fill="#666666"/>
<rect x="640.0" y="284.5" width="1.1" height="1.1" fill="#666666"/>
<rect x="637.1" y="279.6" width="1.3" height="1.3" fill="#3a3a3a"/>
<rect x="634.7" y="282.3" width="1.1" height="1.1" fill="#a8a8a8"/>
<rect x="624.3" y="277.7" width="1.3" height="1.3" fill="#b4b4b4"/>
<rect x="623.1" y="275.6" width="1.1" height="1.1" fill="#585858"/>
<rect x="627.5" y="277.4" width="1.0" height="1.0" fill="#b4b4b4"/>
<rect x="620.1" y="277.9" width="1.0" height="1.0" fill="#4a4a4a"/>
<rect x="623.6" y="275.9" width="1.3" height="1.3" fill="#4a4a4a"/>
<rect x="626.2" y="277.4" width="0.8" height="0.8" fill="#4a4a4a"/>
<rect x="628.2" y="275.8" width="1.0" height="1.0" fill="#a8a8a8"/>
<rect x="624.9" y="276.3" width="1.0" height="1.0" fill="#585858"/>
<rect x="576.3" y="271.3" width="1.0" height="1.0" fill="#b4b4b4"/>
<rect x="579.0" y="272.1" width="1.0" height="1.0" fill="#3a3a3a"/>
<rect x="577.0" y="273.7" width="1.0" height="1.0" fill="#3a3a3a"/>
<rect x="578.2" y="274.1" width="1.1" height="1.1" fill="#c0c0c0"/>
<rect x="578.8" y="271.3" width="1.0" height="1.0" fill="#a8a8a8"/>
<rect x="628.1" y="298.3" width="0.8" height="0.8" fill="#a8a8a8"/>
<rect x="627.9" y="299.2" width="0.8" height="0.8" fill="#585858"/>
<rect x="628.7" y="300.1" width="1.1" height="1.1" fill="#666666"/>
<rect x="629.2" y="299.5" width="0.8" height="0.8" fill="#c0c0c0"/>
<rect x="629.5" y="294.8" width="1.3" height="1.3" fill="#4a4a4a"/>
<rect x="627.5" y="298.7" width="1.3" height="1.3" fill="#b4b4b4"/>
<rect x="625.9" y="296.6" width="0.8" height="0.8" fill="#585858"/>
<rect x="627.7" y="298.0" width="1.1" height="1.1" fill="#a8a8a8"/>
<rect x="582.7" y="360.1" width="0.8" height="0.8" fill="#3a3a3a"/>
<rect x="583.0" y="362.2" width="1.0" height="1.0" fill="#666666"/>
<rect x="585.5" y="360.6" width="1.3" height="1.3" fill="#666666"/>
<rect x="581.7" y="362.6" width="1.3" height="1.3" fill="#4a4a4a"/>
<rect x="550.8" y="305.6" width="1.1" height="1.1" fill="#3a3a3a"/>
<rect x="549.8" y="302.5" width="1.3" height="1.3" fill="#585858"/>
<rect x="549.4" y="305.0" width="1.3" height="1.3" fill="#c0c0c0"/>
<rect x="550.4" y="305.6" width="1.1" height="1.1" fill="#3a3a3a"/>
<rect x="548.3" y="306.8" width="1.1" height="1.1" fill="#4a4a4a"/>
<rect x="547.9" y="305.1" width="1.0" height="1.0" fill="#b4b4b4"/>
<rect x="552.2" y="307.2" width="1.3" height="1.3" fill="#4a4a4a"/>
<rect x="546.9" y="302.2" width="1.3" height="1.3" fill="#585858"/>
<rect x="551.6" y="307.1" width="1.3" height="1.3" fill="#b4b4b4"/>
<rect x="615.2" y="230.7" width="0.8" height="0.8" fill="#4a4a4a"/>
<rect x="617.5" y="232.0" width="1.1" height="1.1" fill="#c0c0c0"/>
<rect x="619.1" y="232.6" width="0.8" height="0.8" fill="#c0c0c0"/>
<rect x="616.8" y="230.5" width="1.0" height="1.0" fill="#a8a8a8"/>
<rect x="618.5" y="233.7" width="1.1" height="1.1" fill="#3a3a3a"/>
<rect x="618.8" y="228.1" width="1.3" height="1.3" fill="#585858"/>
<rect x="615.6" y="232.5" width="0.8" height="0.8" fill="#3a3a3a"/>
<rect x="615.3" y="230.8" width="1.0" height="1.0" fill="#4a4a4a"/>
<rect x="592.8" y="335.5" width="1.1" height="1.1" fill="#585858"/>
<rect x="593.2" y="335.3" width="0.8" height="0.8" fill="#4a4a4a"/>
<rect x="589.6" y="335.2" width="1.0" height="1.0" fill="#3a3a3a"/>
<rect x="593.0" y="338.5" width="1.1" height="1.1" fill="#666666"/>
<rect x="555.9" y="271.4" width="0.8" height="0.8" fill="#c0c0c0"/>
<rect x="556.8" y="274.9" width="1.0" height="1.0" fill="#b4b4b4"/>
<rect x="557.5" y="274.3" width="1.0" height="1.0" fill="#4a4a4a"/>
<rect x="558.7" y="274.1" width="1.1" height="1.1" fill="#666666"/>
<rect x="558.3" y="271.6" width="1.1" height="1.1" fill="#4a4a4a"/>
<rect x="558.7" y="271.6" width="1.1" height="1.1" fill="#666666"/>
<rect x="559.8" y="275.5" width="1.0" height="1.0" fill="#3a3a3a"/>
<rect x="589.6" y="292.8" width="1.3" height="1.3" fill="#4a4a4a"/>
<rect x="592.6" y="293.1" width="0.8" height="0.8" fill="#4a4a4a"/>
<rect x="588.8" y="290.1" width="1.0" height="1.0" fill="#4a4a4a"/>
<rect x="589.4" y="291.7" width="0.8" height="0.8" fill="#a8a8a8"/>
<rect x="590.0" y="293.4" width="1.0" height="1.0" fill="#585858"/>
<rect x="641.5" y="315.5" width="1.1" height="1.1" fill="#c0c0c0"/>
<rect x="642.2" y="317.0" width="0.8" height="0.8" fill="#a8a8a8"/>
<rect x="644.5" y="314.3" width="1.3" height="1.3" fill="#c0c0c0"/>
<rect x="642.7" y="317.6" width="1.0" height="1.0" fill="#666666"/>
<rect x="643.4" y="313.1" width="0.8" height="0.8" fill="#b4b4b4"/>
<rect x="642.8" y="316.7" width="0.8" height="0.8" fill="#3a3a3a"/>
<rect x="641.3" y="315.4" width="0.8" height="0.8" fill="#585858"/>
<rect x="612.7" y="343.6" width="1.3" height="1.3" fill="#4a4a4a"/>
<rect x="610.9" y="343.3" width="1.0" height="1.0" fill="#4a4a4a"/>
<rect x="610.1" y="342.7" width="1.1" height="1.1" fill="#666666"/>
<rect x="609.2" y="346.6" width="1.1" height="1.1" fill="#4a4a4a"/>
<rect x="643.7" y="247.8" width="1.0" height="1.0" fill="#666666"/>
<rect x="647.8" y="246.6" width="1.1" height="1.1" fill="#c0c0c0"/>
<rect x="643.5" y="246.8" width="1.1" height="1.1" fill="#585858"/>
<rect x="644.2" y="250.0" width="1.1" height="1.1" fill="#585858"/>
<rect x="642.4" y="248.3" width="0.8" height="0.8" fill="#a8a8a8"/>
<rect x="633.1" y="286.9" width="1.1" height="1.1" fill="#666666"/>
<rect x="634.1" y="289.2" width="1.3" height="1.3" fill="#c0c0c0"/>
<rect x="633.7" y="286.4" width="1.1" height="1.1" fill="#c0c0c0"/>
<rect x="632.4" y="286.7" width="0.8" height="0.8" fill="#4a4a4a"/>
<rect x="631.6" y="286.4" width="1.0" height="1.0" fill="#b4b4b4"/>
<rect x="633.9" y="288.9" width="1.0" height="1.0" fill="#a8a8a8"/>
<rect x="631.2" y="289.0" width="0.8" height="0.8" fill="#c0c0c0"/>
<rect x="630.2" y="286.7" width="0.8" height="0.8" fill="#c0c0c0"/>
<rect x="632.7" y="286.6" width="0.8" height="0.8" fill="#4a4a4a"/>
<rect x="554.7" y="321.4" width="1.3" height="1.3" fill="#4a4a4a"/>
<rect x="553.2" y="320.8" width="1.0" height="1.0" fill="#a8a8a8"/>
<rect x="549.7" y="322.6" width="0.8" height="0.8" fill="#585858"/>
<rect x="553.6" y="323.8" width="1.3" height="1.3" fill="#4a4a4a"/>
<rect x="552.4" y="322.5" width="0.8" height="0.8" fill="#4a4a4a"/>
<rect x="553.6" y="321.9" width="1.0" height="1.0" fill="#4a4a4a"/>
<rect x="615.3" y="332.2" width="1.1" height="1.1" fill="#585858"/>
<rect x="614.0" y="333.5" width="1.1" height="1.1" fill="#666666"/>
<rect x="614.9" y="331.4" width="1.3" height="1.3" fill="#4a4a4a"/>
<rect x="615.8" y="332.2" width="1.0" height="1.0" fill="#585858"/>
<rect x="611.9" y="329.2" width="1.3" height="1.3" fill="#585858"/>
<rect x="614.7" y="331.1" width="1.0" height="1.0" fill="#3a3a3a"/>
<rect x="613.4" y="333.3" width="1.1" height="1.1" fill="#b4b4b4"/>
<rect x="609.4" y="287.8" width="0.8" height="0.8" fill="#666666"/>
<rect x="612.0" y="284.5" width="0.8" height="0.8" fill="#b4b4b4"/>
<rect x="612.9" y="285.9" width="1.3" height="1.3" fill="#b4b4b4"/>
<rect x="610.2" y="286.6" width="1.1" height="1.1" fill="#b4b4b4"/>
<rect x="614.7" y="287.4" width="0.8" height="0.8" fill="#a8a8a8"/>
<rect x="613.2" y="286.5" width="1.3" height="1.3" fill="#585858"/>
<rect x="611.0" y="283.6" width="1.0" height="1.0" fill="#c0c0c0"/>
<rect x="615.8" y="285.9" width="1.3" height="1.3" fill="#585858"/>
<rect x="611.1" y="286.7" width="1.0" height="1.0" fill="#b4b4b4"/>
<rect x="592.7" y="324.3" width="1.0" height="1.0" fill="#585858"/>
<rect x="597.0" y="323.3" width="0.8" height="0.8" fill="#3a3a3a"/>
<rect x="593.9" y="328.9" width="1.0" height="1.0" fill="#666666"/>
<rect x="593.4" y="325.9" width="1.3" height="1.3" fill="#4a4a4a"/>
<rect x="595.7" y="324.4" width="0.8" height="0.8" fill="#585858"/>
<rect x="597.1" y="326.8" width="1.0" height="1.0" fill="#a8a8a8"/>
<rect x="570.7" y="266.8" width="1.3" height="1.3" fill="#4a4a4a"/>
<rect x="569.0" y="267.4" width="0.8" height="0.8" fill="#585858"/>
<rect x="574.0" y="266.8" width="1.0" height="1.0" fill="#666666"/>
<rect x="614.2" y="296.4" width="1.0" height="1.0" fill="#b4b4b4"/>
<rect x="614.1" y="296.6" width="0.8" height="0.8" fill="#666666"/>
<rect x="611.2" y="297.5" width="1.1" height="1.1" fill="#666666"/>
<rect x="610.7" y="296.8" width="1.3" height="1.3" fill="#b4b4b4"/>
<rect x="613.5" y="326.0" width="0.8" height="0.8" fill="#666666"/>
<rect x="611.6" y="326.8" width="1.0" height="1.0" fill="#c0c0c0"/>
<rect x="610.2" y="328.2" width="1.3" height="1.3" fill="#c0c0c0"/>
<rect x="611.9" y="323.5" width="1.0" height="1.0" fill="#666666"/>
<rect x="611.6" y="326.5" width="1.1" height="1.1" fill="#b4b4b4"/>
<rect x="611.0" y="328.3" width="1.1" height="1.1" fill="#585858"/>
<rect x="608.9" y="325.4" width="1.0" height="1.0" fill="#585858"/>
<rect x="611.9" y="322.1" width="0.8" height="0.8" fill="#4a4a4a"/>
<rect x="626.6" y="323.5" width="1.1" height="1.1" fill="#c0c0c0"/>
<rect x="627.5" y="324.3" width="1.1" height="1.1" fill="#3a3a3a"/>
<rect x="627.1" y="325.7" width="1.0" height="1.0" fill="#a8a8a8"/>
<rect x="629.0" y="324.6" width="1.3" height="1.3" fill="#4a4a4a"/>
<rect x="627.4" y="321.8" width="0.8" height="0.8" fill="#4a4a4a"/>
<rect x="557.9" y="337.8" width="1.1" height="1.1" fill="#b4b4b4"/>
<rect x="560.1" y="340.1" width="0.8" height="0.8" fill="#585858"/>
<rect x="558.7" y="339.8" width="1.1" height="1.1" fill="#3a3a3a"/>
<rect x="558.6" y="337.9" width="1.0" height="1.0" fill="#4a4a4a"/>
<rect x="562.0" y="339.0" width="1.3" height="1.3" fill="#3a3a3a"/>
<rect x="560.2" y="339.7" width="0.8" height="0.8" fill="#585858"/>
<rect x="572.7" y="296.8" width="1.0" height="1.0" fill="#b4b4b4"/>
<rect x="575.7" y="297.5" width="1.0" height="1.0" fill="#3a3a3a"/>
<rect x="572.3" y="298.4" width="0.8" height="0.8" fill="#585858"/>
<rect x="575.2" y="298.7" width="1.0" height="1.0" fill="#585858"/>
<rect x="603.2" y="330.4" width="0.8" height="0.8" fill="#585858"/>
<rect x="604.0" y="331.0" width="1.1" height="1.1" fill="#4a4a4a"/>
<rect x="607.4" y="333.9" width="1.3" height="1.3" fill="#585858"/>
<rect x="603.6" y="331.6" width="0.8" height="0.8" fill="#4a4a4a"/>
<rect x="607.6" y="331.6" width="1.3" height="1.3" fill="#666666"/>
<rect x="653.2" y="286.7" width="1.0" height="1.0" fill="#3a3a3a"/>
<rect x="655.4" y="284.8" width="1.3" height="1.3" fill="#585858"/>
<rect x="653.1" y="286.0" width="1.1" height="1.1" fill="#666666"/>
<rect x="655.6" y="289.7" width="1.1" height="1.1" fill="#3a3a3a"/>
<rect x="655.8" y="289.7" width="1.1" height="1.1" fill="#4a4a4a"/>
<rect x="652.7" y="288.1" width="1.1" height="1.1" fill="#666666"/>
<rect x="654.4" y="283.7" width="1.0" height="1.0" fill="#585858"/>
<rect x="655.7" y="288.9" width="1.1" height="1.1" fill="#3a3a3a"/>
<rect x="628.1" y="273.5" width="1.0" height="1.0" fill="#b4b4b4"/>
<rect x="627.1" y="272.7" width="0.8" height="0.8" fill="#585858"/>
<rect x="627.6" y="273.3" width="1.1" height="1.1" fill="#b4b4b4"/>
<rect x="628.3" y="273.8" width="1.3" height="1.3" fill="#a8a8a8"/>
<rect x="627.3" y="272.7" width="0.8" height="0.8" fill="#b4b4b4"/>
<rect x="626.1" y="271.1" width="1.3" height="1.3" fill="#4a4a4a"/>
<rect x="629.9" y="270.9" width="0.8" height="0.8" fill="#4a4a4a"/>
<rect x="639.2" y="346.4" width="1.1" height="1.1" fill="#585858"/>
<rect x="639.2" y="348.5" width="1.0" height="1.0" fill="#666666"/>
<rect x="641.2" y="346.3" width="1.0" height="1.0" fill="#b4b4b4"/>
<rect x="641.8" y="347.8" width="1.0" height="1.0" fill="#4a4a4a"/>
<rect x="641.0" y="349.3" width="1.3" height="1.3" fill="#3a3a3a"/>
<rect x="639.4" y="346.5" width="0.8" height="0.8" fill="#4a4a4a"/>
<rect x="643.1" y="344.5" width="0.8" height="0.8" fill="#3a3a3a"/>
<rect x="661.0" y="280.8" width="1.0" height="1.0" fill="#666666"/>
<rect x="661.6" y="280.1" width="1.3" height="1.3" fill="#a8a8a8"/>
<rect x="660.0" y="280.0" width="1.3" height="1.3" fill="#3a3a3a"/>
<rect x="625.5" y="265.8" width="1.1" height="1.1" fill="#585858"/>
<rect x="629.2" y="263.2" width="0.8" height="0.8" fill="#4a4a4a"/>
<rect x="625.3" y="270.0" width="0.8" height="0.8" fill="#b4b4b4"/>
<rect x="626.7" y="268.7" width="1.0" height="1.0" fill="#b4b4b4"/>
<rect x="624.8" y="266.7" width="1.0" height="1.0" fill="#3a3a3a"/>
<rect x="635.7" y="345.5" width="1.0" height="1.0" fill="#a8a8a8"/>
<rect x="639.4" y="345.5" width="0.8" height="0.8" fill="#666666"/>
<rect x="635.8" y="347.2" width="1.0" height="1.0" fill="#b4b4b4"/>
<rect x="633.8" y="301.6" width="1.3" height="1.3" fill="#c0c0c0"/>
<rect x="633.7" y="303.7" width="1.0" height="1.0" fill="#666666"/>
<rect x="634.1" y="300.9" width="0.8" height="0.8" fill="#c0c0c0"/>
<rect x="632.6" y="304.1" width="1.0" height="1.0" fill="#666666"/>
<rect x="634.4" y="303.9" width="1.1" height="1.1" fill="#585858"/>
<rect x="630.7" y="301.4" width="0.8" height="0.8" fill="#4a4a4a"/>
<rect x="632.9" y="304.3" width="1.0" height="1.0" fill="#4a4a4a"/>
<rect x="633.7" y="306.2" width="0.8" height="0.8" fill="#3a3a3a"/>
<rect x="627.2" y="300.5" width="1.1" height="1.1" fill="#c0c0c0"/>
<rect x="626.5" y="303.5" width="1.0" height="1.0" fill="#666666"/>
<rect x="625.5" y="299.9" width="0.8" height="0.8" fill="#3a3a3a"/>
<rect x="630.4" y="305.8" width="1.3" height="1.3" fill="#3a3a3a"/>
<rect x="627.1" y="302.6" width="0.8" height="0.8" fill="#a8a8a8"/>
<rect x="623.9" y="318.2" width="1.0" height="1.0" fill="#585858"/>
<rect x="624.3" y="320.9" width="1.1" height="1.1" fill="#3a3a3a"/>
<rect x="622.9" y="319.4" width="0.8" height="0.8" fill="#3a3a3a"/>
<rect x="625.6" y="322.2" width="1.1" height="1.1" fill="#a8a8a8"/>
<rect x="625.2" y="319.0" width="1.1" height="1.1" fill="#a8a8a8"/>
<rect x="624.2" y="318.1" width="1.0" height="1.0" fill="#4a4a4a"/>
<rect x="603.9" y="309.0" width="1.3" height="1.3" fill="#a8a8a8"/>
<rect x="600.9" y="313.6" width="1.3" height="1.3" fill="#a8a8a8"/>
<rect x="600.3" y="309.7" width="0.8" height="0.8" fill="#666666"/>
<rect x="601.5" y="310.7" width="0.8" height="0.8" fill="#c0c0c0"/>
<rect x="601.3" y="309.1" width="1.3" height="1.3" fill="#b4b4b4"/>
<rect x="603.1" y="314.6" width="1.1" height="1.1" fill="#c0c0c0"/>
<rect x="604.8" y="317.6" width="0.8" height="0.8" fill="#585858"/>
<rect x="603.5" y="313.7" width="1.1" height="1.1" fill="#666666"/>
<rect x="603.0" y="315.1" width="0.8" height="0.8" fill="#4a4a4a"/>
<rect x="602.8" y="314.6" width="1.1" height="1.1" fill="#585858"/>
<rect x="604.9" y="316.2" width="1.3" height="1.3" fill="#666666"/>
<rect x="605.0" y="315.3" width="1.3" height="1.3" fill="#4a4a4a"/>
<rect x="602.3" y="314.1" width="1.1" height="1.1" fill="#3a3a3a"/>
<rect x="601.8" y="313.3" width="0.8" height="0.8" fill="#3a3a3a"/>
<rect x="601.6" y="315.0" width="1.3" height="1.3" fill="#4a4a4a"/>
<rect x="612.1" y="317.9" width="1.0" height="1.0" fill="#3a3a3a"/>
<rect x="612.2" y="319.0" width="1.1" height="1.1" fill="#666666"/>
<rect x="612.3" y="315.8" width="0.8" height="0.8" fill="#4a4a4a"/>
<rect x="613.4" y="317.1" width="1.0" height="1.0" fill="#3a3a3a"/>
<rect x="612.7" y="318.5" width="1.1" height="1.1" fill="#585858"/>
<rect x="610.9" y="316.9" width="1.1" height="1.1" fill="#4a4a4a"/>
<rect x="623.7" y="308.4" width="0.8" height="0.8" fill="#585858"/>
<rect x="625.3" y="307.2" width="1.1" height="1.1" fill="#666666"/>
<rect x="624.8" y="308.9" width="1.1" height="1.1" fill="#4a4a4a"/>
<rect x="671.6" y="299.8" width="0.8" height="0.8" fill="#a8a8a8"/>
<rect x="673.7" y="298.6" width="1.0" height="1.0" fill="#585858"/>
<rect x="673.2" y="303.2" width="0.8" height="0.8" fill="#c0c0c0"/>
<rect x="674.2" y="299.2" width="0.8" height="0.8" fill="#585858"/>
<rect x="673.9" y="299.6" width="1.1" height="1.1" fill="#4a4a4a"/>
<rect x="669.0" y="289.7" width="1.0" height="1.0" fill="#b4b4b4"/>
<rect x="668.7" y="289.9" width="1.1" height="1.1" fill="#4a4a4a"/>
<rect x="671.6" y="290.7" width="1.0" height="1.0" fill="#3a3a3a"/>
<rect x="666.5" y="289.6" width="1.3" height="1.3" fill="#c0c0c0"/>
<rect x="669.5" y="290.0" width="1.1" height="1.1" fill="#666666"/>
<rect x="669.3" y="287.5" width="0.8" height="0.8" fill="#4a4a4a"/>
<rect x="668.3" y="288.5" width="1.1" height="1.1" fill="#3a3a3a"/>
<rect x="604.8" y="330.8" width="1.1" height="1.1" fill="#666666"/>
<rect x="603.1" y="333.4" width="0.8" height="0.8" fill="#3a3a3a"/>
<rect x="601.7" y="330.6" width="0.8" height="0.8" fill="#4a4a4a"/>
<rect x="638.1" y="272.7" width="0.8" height="0.8" fill="#666666"/>
<rect x="641.4" y="270.8" width="1.3" height="1.3" fill="#c0c0c0"/>
<rect x="638.7" y="268.2" width="1.1" height="1.1" fill="#c0c0c0"/>
<rect x="641.2" y="268.8" width="1.3" height="1.3" fill="#3a3a3a"/>
<rect x="652.3" y="341.4" width="0.8" height="0.8" fill="#585858"/>
<rect x="653.7" y="341.1" width="1.0" height="1.0" fill="#a8a8a8"/>
<rect x="647.7" y="341.2" width="1.0" height="1.0" fill="#4a4a4a"/>
<rect x="650.3" y="340.9" width="0.8" height="0.8" fill="#c0c0c0"/>
<rect x="650.7" y="337.5" width="0.8" height="0.8" fill="#4a4a4a"/>
<rect x="648.9" y="338.4" width="1.3" height="1.3" fill="#b4b4b4"/>
<rect x="653.9" y="338.4" width="1.0" height="1.0" fill="#c0c0c0"/>
<rect x="651.2" y="339.1" width="1.1" height="1.1" fill="#585858"/>
<rect x="640.7" y="344.6" width="1.0" height="1.0" fill="#b4b4b4"/>
<rect x="642.6" y="343.1" width="1.1" height="1.1" fill="#585858"/>
<rect x="641.3" y="338.0" width="1.1" height="1.1" fill="#b4b4b4"/>
<rect x="642.1" y="339.9" width="1.3" height="1.3" fill="#666666"/>
<rect x="642.9" y="341.7" width="1.0" height="1.0" fill="#c0c0c0"/>
<rect x="607.8" y="292.6" width="0.8" height="0.8" fill="#4a4a4a"/>
<rect x="606.5" y="289.8" width="1.1" height="1.1" fill="#4a4a4a"/>
<rect x="606.2" y="291.4" width="1.0" height="1.0" fill="#a8a8a8"/>
<rect x="611.8" y="290.7" width="1.3" height="1.3" fill="#3a3a3a"/>
<rect x="606.1" y="291.2" width="1.3" height="1.3" fill="#3a3a3a"/>
<rect x="605.9" y="292.5" width="1.0" height="1.0" fill="#3a3a3a"/>
<rect x="572.4" y="264.9" width="1.0" height="1.0" fill="#4a4a4a"/>
<rect x="573.1" y="267.3" width="1.1" height="1.1" fill="#4a4a4a"/>
<rect x="574.9" y="262.8" width="1.3" height="1.3" fill="#666666"/>
<rect x="575.6" y="266.0" width="0.8" height="0.8" fill="#585858"/>
<rect x="575.6" y="265.3" width="0.8" height="0.8" fill="#585858"/>
<rect x="575.4" y="265.0" width="1.0" height="1.0" fill="#4a4a4a"/>
<rect x="633.9" y="303.9" width="1.3" height="1.3" fill="#585858"/>
<rect x="636.4" y="304.8" width="1.3" height="1.3" fill="#585858"/>
<rect x="633.3" y="303.7" width="1.3" height="1.3" fill="#a8a8a8"/>
<rect x="635.8" y="301.7" width="1.0" height="1.0" fill="#666666"/>
<rect x="617.1" y="308.5" width="1.0" height="1.0" fill="#585858"/>
<rect x="616.2" y="308.5" width="1.3" height="1.3" fill="#3a3a3a"/>
<rect x="613.7" y="305.6" width="1.1" height="1.1" fill="#666666"/>
<rect x="635.3" y="290.0" width="1.1" height="1.1" fill="#4a4a4a"/>
<rect x="633.7" y="290.1" width="1.3" height="1.3" fill="#666666"/>
<rect x="632.4" y="289.2" width="0.8" height="0.8" fill="#4a4a4a"/>
<rect x="656.5" y="313.1" width="0.8" height="0.8" fill="#3a3a3a"/>
<rect x="661.4" y="315.7" width="0.8" height="0.8" fill="#666666"/>
<rect x="659.6" y="317.0" width="1.3" height="1.3" fill="#585858"/>
<rect x="658.8" y="320.3" width="1.3" height="1.3" fill="#3a3a3a"/>
<rect x="660.6" y="319.2" width="1.0" height="1.0" fill="#b4b4b4"/>
<rect x="660.8" y="317.5" width="1.0" height="1.0" fill="#4a4a4a"/>
<rect x="590.9" y="296.4" width="1.0" height="1.0" fill="#c0c0c0"/>
<rect x="590.4" y="297.6" width="0.8" height="0.8" fill="#4a4a4a"/>
<rect x="590.0" y="299.2" width="0.8" height="0.8" fill="#4a4a4a"/>
<rect x="631.8" y="250.4" width="0.8" height="0.8" fill="#b4b4b4"/>
<rect x="631.5" y="253.4" width="0.8" height="0.8" fill="#a8a8a8"/>
<rect x="632.8" y="247.8" width="0.8" height="0.8" fill="#4a4a4a"/>
<rect x="634.4" y="251.8" width="0.8" height="0.8" fill="#666666"/>
<rect x="632.5" y="248.5" width="1.1" height="1.1" fill="#a8a8a8"/>
<rect x="604.8" y="367.3" width="1.1" height="1.1" fill="#b4b4b4"/>
<rect x="607.3" y="370.7" width="1.0" height="1.0" fill="#a8a8a8"/>
<rect x="604.7" y="369.9" width="1.1" height="1.1" fill="#585858"/>
<rect x="608.7" y="367.7" width="1.3" height="1.3" fill="#3a3a3a"/>
<rect x="607.6" y="368.8" width="0.8" height="0.8" fill="#b4b4b4"/>
<rect x="608.3" y="369.8" width="1.0" height="1.0" fill="#585858"/>
<rect x="609.9" y="370.5" width="1.3" height="1.3" fill="#4a4a4a"/>
<rect x="610.3" y="367.3" width="1.0" height="1.0" fill="#585858"/>
<rect x="608.1" y="369.6" width="1.3" height="1.3" fill="#585858"/>
<rect x="641.9" y="319.8" width="1.1" height="1.1" fill="#a8a8a8"/>
<rect x="641.1" y="318.5" width="1.1" height="1.1" fill="#585858"/>
<rect x="641.7" y="321.7" width="1.3" height="1.3" fill="#585858"/>
<rect x="643.7" y="319.2" width="0.8" height="0.8" fill="#585858"/>
<rect x="639.5" y="319.3" width="0.8" height="0.8" fill="#3a3a3a"/>
<rect x="641.2" y="321.7" width="1.3" height="1.3" fill="#4a4a4a"/>
<rect x="639.7" y="318.9" width="1.0" height="1.0" fill="#c0c0c0"/>
<rect x="649.8" y="327.2" width="1.3" height="1.3" fill="#c0c0c0"/>
<rect x="650.5" y="326.4" width="1.3" height="1.3" fill="#c0c0c0"/>
<rect x="648.9" y="327.1" width="1.1" height="1.1" fill="#4a4a4a"/>
<rect x="649.4" y="321.9" width="0.8" height="0.8" fill="#4a4a4a"/>
<rect x="650.8" y="325.9" width="0.8" height="0.8" fill="#3a3a3a"/>
<rect x="649.9" y="328.8" width="1.0" height="1.0" fill="#666666"/>
<rect x="651.7" y="326.0" width="1.0" height="1.0" fill="#585858"/>
<rect x="614.5" y="305.8" width="1.1" height="1.1" fill="#a8a8a8"/>
<rect x="614.0" y="305.7" width="1.1" height="1.1" fill="#4a4a4a"/>
<rect x="614.0" y="304.8" width="0.8" height="0.8" fill="#3a3a3a"/>
<rect x="613.5" y="305.5" width="0.8" height="0.8" fill="#c0c0c0"/>
<rect x="614.5" y="304.2" width="0.8" height="0.8" fill="#585858"/>
<rect x="615.8" y="305.2" width="1.1" height="1.1" fill="#3a3a3a"/>
<rect x="640.9" y="321.0" width="0.8" height="0.8" fill="#a8a8a8"/>
<rect x="640.6" y="324.0" width="1.3" height="1.3" fill="#4a4a4a"/>
<rect x="642.5" y="321.3" width="0.8" height="0.8" fill="#c0c0c0"/>
<rect x="640.9" y="322.1" width="1.0" height="1.0" fill="#a8a8a8"/>
<rect x="641.6" y="319.3" width="0.8" height="0.8" fill="#4a4a4a"/>
<rect x="640.9" y="320.9" width="0.8" height="0.8" fill="#b4b4b4"/>
<rect x="639.6" y="322.6" width="1.3" height="1.3" fill="#4a4a4a"/>
<rect x="641.5" y="320.2" width="1.1" height="1.1" fill="#b4b4b4"/>
<rect x="640.0" y="317.9" width="1.1" height="1.1" fill="#585858"/>
<rect x="594.1" y="295.9" width="1.1" height="1.1" fill="#a8a8a8"/>
<rect x="592.1" y="294.9" width="1.0" height="1.0" fill="#585858"/>
<rect x="593.1" y="294.1" width="1.3" height="1.3" fill="#a8a8a8"/>
<rect x="593.7" y="296.6" width="0.8" height="0.8" fill="#666666"/>
<rect x="594.4" y="326.2" width="1.3" height="1.3" fill="#4a4a4a"/>
<rect x="594.7" y="324.4" width="1.3" height="1.3" fill="#c0c0c0"/>
<rect x="596.4" y="325.0" width="1.1" height="1.1" fill="#4a4a4a"/>
<rect x="595.3" y="323.5" width="1.1" height="1.1" fill="#4a4a4a"/>
<rect x="594.3" y="325.8" width="1.1" height="1.1" fill="#c0c0c0"/>
<rect x="646.5" y="301.9" width="0.8" height="0.8" fill="#c0c0c0"/>
<rect x="649.7" y="305.5" width="0.8" height="0.8" fill="#3a3a3a"/>
<rect x="649.3" y="305.5" width="0.8" height="0.8" fill="#c0c0c0"/>
<rect x="619.4" y="290.0" width="1.3" height="1.3" fill="#666666"/>
<rect x="619.9" y="290.5" width="1.1" height="1.1" fill="#585858"/>
<rect x="619.4" y="290.8" width="0.8" height="0.8" fill="#3a3a3a"/>
<rect x="617.4" y="290.0" width="1.3" height="1.3" fill="#b4b4b4"/>
<rect x="618.3" y="290.5" width="1.3" height="1.3" fill="#666666"/>
<rect x="618.9" y="292.0" width="1.3" height="1.3" fill="#4a4a4a"/>
<rect x="618.4" y="289.8" width="1.0" height="1.0" fill="#c0c0c0"/>
<rect x="616.2" y="290.9" width="0.8" height="0.8" fill="#a8a8a8"/>
<rect x="655.6" y="294.2" width="1.0" height="1.0" fill="#4a4a4a"/>
<rect x="656.3" y="292.8" width="1.3" height="1.3" fill="#585858"/>
<rect x="656.9" y="290.1" width="1.1" height="1.1" fill="#585858"/>
<rect x="646.0" y="341.4" width="1.3" height="1.3" fill="#b4b4b4"/>
<rect x="643.8" y="344.5" width="0.8" height="0.8" fill="#c0c0c0"/>
<rect x="648.7" y="344.5" width="0.8" height="0.8" fill="#a8a8a8"/>
<rect x="577.3" y="302.4" width="1.3" height="1.3" fill="#c0c0c0"/>
<rect x="576.2" y="304.0" width="0.8" height="0.8" fill="#3a3a3a"/>
<rect x="581.7" y="307.6" width="1.3" height="1.3" fill="#585858"/>
<rect x="580.5" y="303.9" width="0.8" height="0.8" fill="#4a4a4a"/>
<rect x="578.4" y="304.8" width="1.0" height="1.0" fill="#585858"/>
<rect x="582.4" y="302.7" width="1.0" height="1.0" fill="#c0c0c0"/>
<rect x="580.7" y="303.3" width="0.8" height="0.8" fill="#585858"/>
<rect x="655.5" y="274.7" width="1.3" height="1.3" fill="#666666"/>
<rect x="654.4" y="274.5" width="1.0" height="1.0" fill="#585858"/>
<rect x="656.6" y="276.8" width="1.1" height="1.1" fill="#a8a8a8"/>
<rect x="655.1" y="278.1" width="0.8" height="0.8" fill="#4a4a4a"/>
<rect x="656.3" y="273.7" width="1.0" height="1.0" fill="#b4b4b4"/>
<rect x="630.6" y="264.6" width="1.3" height="1.3" fill="#a8a8a8"/>
<rect x="630.0" y="265.6" width="1.0" height="1.0" fill="#c0c0c0"/>
<rect x="630.3" y="265.9" width="1.1" height="1.1" fill="#4a4a4a"/>
<rect x="629.5" y="262.4" width="0.8" height="0.8" fill="#b4b4b4"/>
<rect x="633.6" y="266.6" width="1.3" height="1.3" fill="#585858"/>
<rect x="632.7" y="266.7" width="1.3" height="1.3" fill="#a8a8a8"/>
<rect x="599.8" y="272.7" width="1.1" height="1.1" fill="#4a4a4a"/>
<rect x="599.5" y="272.1" width="1.3" height="1.3" fill="#4a4a4a"/>
<rect x="600.8" y="270.4" width="0.8" height="0.8" fill="#585858"/>
<rect x="600.5" y="272.6" width="0.8" height="0.8" fill="#3a3a3a"/>
<rect x="602.2" y="271.1" width="1.3" height="1.3" fill="#b4b4b4"/>
<rect x="600.3" y="271.2" width="0.8" height="0.8" fill="#4a4a4a"/>
<rect x="600.3" y="272.3" width="1.3" height="1.3" fill="#a8a8a8"/>
<rect x="601.3" y="267.9" width="1.3" height="1.3" fill="#4a4a4a"/>
<rect x="600.7" y="271.1" width="1.1" height="1.1" fill="#666666"/>
<rect x="621.5" y="294.0" width="1.1" height="1.1" fill="#c0c0c0"/>
<rect x="617.1" y="293.8" width="0.8" height="0.8" fill="#a8a8a8"/>
<rect x="619.0" y="295.2" width="1.0" height="1.0" fill="#3a3a3a"/>
<rect x="622.0" y="291.8" width="0.8" height="0.8" fill="#a8a8a8"/>
<rect x="622.8" y="292.4" width="0.8" height="0.8" fill="#3a3a3a"/>
<rect x="623.8" y="293.2" width="0.8" height="0.8" fill="#585858"/>
<rect x="596.3" y="338.4" width="0.8" height="0.8" fill="#4a4a4a"/>
<rect x="594.7" y="340.8" width="1.0" height="1.0" fill="#3a3a3a"/>
<rect x="597.6" y="340.0" width="1.0" height="1.0" fill="#4a4a4a"/>
<rect x="596.3" y="341.0" width="1.1" height="1.1" fill="#a8a8a8"/>
<rect x="595.5" y="340.4" width="1.3" height="1.3" fill="#585858"/>
<rect x="593.8" y="339.5" width="1.3" height="1.3" fill="#c0c0c0"/>
<rect x="594.8" y="341.2" width="1.0" height="1.0" fill="#4a4a4a"/>
<rect x="654.6" y="346.1" width="0.8" height="0.8" fill="#b4b4b4"/>
<rect x="658.2" y="346.6" width="1.3" height="1.3" fill="#585858"/>
<rect x="657.8" y="343.7" width="1.1" height="1.1" fill="#3a3a3a"/>
<rect x="655.9" y="345.0" width="1.3" height="1.3" fill="#666666"/>
<rect x="655.3" y="345.8" width="1.1" height="1.1" fill="#4a4a4a"/>
<rect x="659.2" y="346.6" width="1.0" height="1.0" fill="#585858"/>
<rect x="654.7" y="343.7" width="0.8" height="0.8" fill="#b4b4b4"/>
<rect x="657.5" y="345.4" width="1.1" height="1.1" fill="#c0c0c0"/>
<rect x="643.7" y="290.9" width="1.0" height="1.0" fill="#3a3a3a"/>
<rect x="638.6" y="290.7" width="0.8" height="0.8" fill="#3a3a3a"/>
<rect x="643.6" y="292.4" width="1.3" height="1.3" fill="#a8a8a8"/>
<rect x="642.3" y="293.0" width="0.8" height="0.8" fill="#666666"/>
<rect x="642.8" y="291.5" width="0.8" height="0.8" fill="#c0c0c0"/>
<rect x="640.5" y="291.7" width="1.3" height="1.3" fill="#c0c0c0"/>
<rect x="624.2" y="339.9" width="1.3" height="1.3" fill="#666666"/>
<rect x="625.3" y="339.6" width="0.8" height="0.8" fill="#666666"/>
<rect x="623.7" y="338.8" width="1.1" height="1.1" fill="#c0c0c0"/>
<rect x="623.7" y="341.8" width="1.0" height="1.0" fill="#585858"/>
<rect x="626.5" y="340.5" width="1.0" height="1.0" fill="#666666"/>
<rect x="625.0" y="341.0" width="1.0" height="1.0" fill="#666666"/>
<rect x="625.7" y="339.3" width="1.0" height="1.0" fill="#3a3a3a"/>
<rect x="622.1" y="340.1" width="1.0" height="1.0" fill="#3a3a3a"/>
<rect x="585.6" y="343.2" width="1.0" height="1.0" fill="#a8a8a8"/>
<rect x="582.9" y="344.9" width="1.3" height="1.3" fill="#4a4a4a"/>
<rect x="584.3" y="342.5" width="0.8" height="0.8" fill="#666666"/>
<rect x="585.1" y="341.5" width="1.0" height="1.0" fill="#3a3a3a"/>
<rect x="583.7" y="341.7" width="0.8" height="0.8" fill="#4a4a4a"/>
<rect x="585.5" y="343.3" width="1.0" height="1.0" fill="#b4b4b4"/>
<rect x="586.0" y="342.9" width="1.1" height="1.1" fill="#b4b4b4"/>
<rect x="644.9" y="267.3" width="1.0" height="1.0" fill="#4a4a4a"/>
<rect x="642.6" y="268.4" width="1.1" height="1.1" fill="#a8a8a8"/>
<rect x="643.8" y="269.8" width="0.8" height="0.8" fill="#4a4a4a"/>
<rect x="644.4" y="267.3" width="0.8" height="0.8" fill="#666666"/>
<rect x="643.5" y="268.4" width="0.8" height="0.8" fill="#585858"/>
<rect x="645.7" y="266.5" width="1.3" height="1.3" fill="#b4b4b4"/>
<rect x="586.5" y="299.4" width="1.3" height="1.3" fill="#c0c0c0"/>
<rect x="583.0" y="300.6" width="1.1" height="1.1" fill="#4a4a4a"/>
<rect x="583.3" y="300.3" width="1.3" height="1.3" fill="#4a4a4a"/>
<rect x="585.1" y="299.7" width="1.0" height="1.0" fill="#666666"/>
<rect x="584.7" y="302.2" width="1.3" height="1.3" fill="#a8a8a8"/>
<rect x="589.4" y="298.7" width="0.8" height="0.8" fill="#a8a8a8"/>
<rect x="605.2" y="359.4" width="1.3" height="1.3" fill="#3a3a3a"/>
<rect x="603.3" y="362.3" width="0.8" height="0.8" fill="#585858"/>
<rect x="605.2" y="358.1" width="0.8" height="0.8" fill="#585858"/>
<rect x="606.1" y="362.5" width="1.1" height="1.1" fill="#3a3a3a"/>
<rect x="581.8" y="288.6" width="1.1" height="1.1" fill="#b4b4b4"/>
<rect x="580.8" y="287.7" width="1.3" height="1.3" fill="#c0c0c0"/>
<rect x="581.8" y="288.1" width="0.8" height="0.8" fill="#585858"/>
<rect x="579.0" y="287.5" width="0.8" height="0.8" fill="#585858"/>
<rect x="603.3" y="330.6" width="1.0" height="1.0" fill="#4a4a4a"/>
<rect x="599.1" y="326.3" width="1.0" height="1.0" fill="#3a3a3a"/>
<rect x="599.4" y="326.6" width="1.3" height="1.3" fill="#c0c0c0"/>
<rect x="603.0" y="326.3" width="1.1" height="1.1" fill="#3a3a3a"/>
<rect x="601.5" y="327.2" width="1.1" height="1.1" fill="#a8a8a8"/>
<rect x="600.5" y="327.9" width="0.8" height="0.8" fill="#585858"/>
<rect x="599.6" y="330.2" width="1.0" height="1.0" fill="#666666"/>
<rect x="603.0" y="330.5" width="1.3" height="1.3" fill="#585858"/>
<rect x="592.2" y="301.2" width="1.1" height="1.1" fill="#4a4a4a"/>
<rect x="597.4" y="297.4" width="1.0" height="1.0" fill="#a8a8a8"/>
<rect x="595.6" y="300.8" width="0.8" height="0.8" fill="#585858"/>
<rect x="594.8" y="301.9" width="1.0" height="1.0" fill="#a8a8a8"/>
<rect x="680.3" y="317.2" width="1.0" height="1.0" fill="#b4b4b4"/>
<rect x="679.3" y="319.9" width="0.8" height="0.8" fill="#b4b4b4"/>
<rect x="678.7" y="318.3" width="1.3" height="1.3" fill="#c0c0c0"/>
<rect x="677.6" y="318.4" width="1.0" height="1.0" fill="#a8a8a8"/>
<rect x="680.0" y="316.3" width="1.1" height="1.1" fill="#a8a8a8"/>
<rect x="681.8" y="319.9" width="1.0" height="1.0" fill="#3a3a3a"/>
<rect x="679.1" y="321.2" width="1.1" height="1.1" fill="#4a4a4a"/>
<text x="399.6" y="13.3" font-size="17" text-anchor="start" textLength="107.8" lengthAdjust="spacingAndGlyphs" >3L=29.25 um</text>
<text x="274" y="32.9" font-size="14" text-anchor="start" textLength="46.6" lengthAdjust="spacingAndGlyphs" >10 min</text>
<text x="432.4" y="32.4" font-size="14" text-anchor="start" textLength="48.2" lengthAdjust="spacingAndGlyphs" >30 min</text>
<text x="601.8" y="31.8" font-size="14" text-anchor="start" textLength="48.2" lengthAdjust="spacingAndGlyphs" >50 min</text>
<text x="86" y="387.3" font-size="14" text-anchor="start" textLength="96.6" lengthAdjust="spacingAndGlyphs" >After stripping</text>
<text x="263.2" y="387.9" font-size="14" text-anchor="start" textLength="48.8" lengthAdjust="spacingAndGlyphs" >50 min</text>
<text x="432.2" y="387.9" font-size="14" text-anchor="start" textLength="47.2" lengthAdjust="spacingAndGlyphs" >50 min</text>
<text x="589.4" y="388" font-size="14" text-anchor="start" textLength="83.2" lengthAdjust="spacingAndGlyphs" >After plating</text>
<text x="213.8" y="194.6" font-size="10.5" text-anchor="start" textLength="40.4" lengthAdjust="spacingAndGlyphs" >100 um</text>
<rect x="226.1" y="199.3" width="18.5" height="4.6" fill="#000"/>
<line x1="271.6" y1="188.7" x2="398" y2="188.7" stroke="#fb6d10" stroke-width="6" opacity="0.32" filter="url(#glow)"/><line x1="271.6" y1="188.7" x2="398" y2="188.7" stroke="#fb6d10" stroke-width="2.1"/>
<polygon points="402.2,188.7 396.2,185.29999999999998 396.2,192.1" fill="#fb6d10" opacity="0.3" filter="url(#glow)"/><polygon points="402.2,188.7 397.2,186.39999999999998 397.2,191.0" fill="#fb6d10"/>
<line x1="468.9" y1="188.5" x2="650" y2="188.5" stroke="#fb6d10" stroke-width="6" opacity="0.32" filter="url(#glow)"/><line x1="468.9" y1="188.5" x2="650" y2="188.5" stroke="#fb6d10" stroke-width="2.1"/>
<polygon points="654,188.5 648,185.1 648,191.9" fill="#fb6d10" opacity="0.3" filter="url(#glow)"/><polygon points="654,188.5 649,186.2 649,190.8" fill="#fb6d10"/>
<path d="M657.3,188.5 L661,188.5 C682,188.5 682,220.7 661,220.7 L613.7,220.7" fill="none" stroke="#fb6d10" stroke-width="6" opacity="0.32" filter="url(#glow)"/>
<path d="M657.3,188.5 L661,188.5 C682,188.5 682,220.7 661,220.7 L613.7,220.7" fill="none" stroke="#fb6d10" stroke-width="2.1"/>
<line x1="573.3" y1="220.8" x2="613.7" y2="220.8" stroke="#8dd14f" stroke-width="6" opacity="0.32" filter="url(#glow)"/><line x1="573.3" y1="220.8" x2="613.7" y2="220.8" stroke="#8dd14f" stroke-width="2.1"/>
<line x1="380" y1="220.8" x2="563" y2="220.8" stroke="#8dd14f" stroke-width="6" opacity="0.32" filter="url(#glow)"/><line x1="380" y1="220.8" x2="563" y2="220.8" stroke="#8dd14f" stroke-width="2.1"/>
<polygon points="376.5,220.8 382.5,217.4 382.5,224.20000000000002" fill="#8dd14f" opacity="0.3" filter="url(#glow)"/><polygon points="376.5,220.8 381.5,218.5 381.5,223.10000000000002" fill="#8dd14f"/>
<line x1="120" y1="220.8" x2="303.4" y2="220.8" stroke="#8dd14f" stroke-width="6" opacity="0.32" filter="url(#glow)"/><line x1="120" y1="220.8" x2="303.4" y2="220.8" stroke="#8dd14f" stroke-width="2.1"/>
<polygon points="116.9,220.8 122.9,217.4 122.9,224.20000000000002" fill="#8dd14f" opacity="0.3" filter="url(#glow)"/><polygon points="116.9,220.8 121.9,218.5 121.9,223.10000000000002" fill="#8dd14f"/>
<text x="414" y="195.9" font-size="14" text-anchor="start" textLength="48.2" lengthAdjust="spacingAndGlyphs" >Plating</text>
<text x="309.6" y="219.7" font-size="14.5" text-anchor="start" textLength="63.4" lengthAdjust="spacingAndGlyphs" >Stripping</text>
<text x="547.6" y="208.5" font-size="16" textLength="96.3" lengthAdjust="spacingAndGlyphs">0.5 mA cm<tspan dy="-6" font-size="11">-2</tspan></text>
<rect x="90.2" y="428" width="139.6" height="224" fill="#fae3d6"/>
<rect x="262.8" y="428" width="90.4" height="224" fill="#edf1fa"/>
<rect x="386.8" y="428" width="140.2" height="224" fill="#fae3d6"/>
<rect x="558.7" y="428" width="90.8" height="224" fill="#edf1fa"/>
<path d="M72.1,426.8 L696,426.8 L696,653.2 L72.1,653.2 Z" fill="none" stroke="#1a1a1a" stroke-width="1.7"/>
<line x1="72.1" y1="426" x2="72.1" y2="658.6" stroke="#1a1a1a" stroke-width="1.7"/>
<line x1="67" y1="650.70" x2="72" y2="650.70" stroke="#1a1a1a" stroke-width="1.4"/>
<line x1="69" y1="637.55" x2="72" y2="637.55" stroke="#1a1a1a" stroke-width="1.2"/>
<line x1="69" y1="624.40" x2="72" y2="624.40" stroke="#1a1a1a" stroke-width="1.2"/>
<line x1="69" y1="611.25" x2="72" y2="611.25" stroke="#1a1a1a" stroke-width="1.2"/>
<line x1="67" y1="598.10" x2="72" y2="598.10" stroke="#1a1a1a" stroke-width="1.4"/>
<line x1="69" y1="584.95" x2="72" y2="584.95" stroke="#1a1a1a" stroke-width="1.2"/>
<line x1="69" y1="571.80" x2="72" y2="571.80" stroke="#1a1a1a" stroke-width="1.2"/>
<line x1="69" y1="558.65" x2="72" y2="558.65" stroke="#1a1a1a" stroke-width="1.2"/>
<line x1="67" y1="545.50" x2="72" y2="545.50" stroke="#1a1a1a" stroke-width="1.4"/>
<line x1="69" y1="532.35" x2="72" y2="532.35" stroke="#1a1a1a" stroke-width="1.2"/>
<line x1="69" y1="519.20" x2="72" y2="519.20" stroke="#1a1a1a" stroke-width="1.2"/>
<line x1="69" y1="506.05" x2="72" y2="506.05" stroke="#1a1a1a" stroke-width="1.2"/>
<line x1="67" y1="492.90" x2="72" y2="492.90" stroke="#1a1a1a" stroke-width="1.4"/>
<line x1="69" y1="479.75" x2="72" y2="479.75" stroke="#1a1a1a" stroke-width="1.2"/>
<line x1="69" y1="466.60" x2="72" y2="466.60" stroke="#1a1a1a" stroke-width="1.2"/>
<line x1="69" y1="453.45" x2="72" y2="453.45" stroke="#1a1a1a" stroke-width="1.2"/>
<line x1="67" y1="440.30" x2="72" y2="440.30" stroke="#1a1a1a" stroke-width="1.4"/>
<line x1="72.10" y1="653" x2="72.10" y2="658.6" stroke="#1a1a1a" stroke-width="1.4"/>
<line x1="86.97" y1="653" x2="86.97" y2="656" stroke="#1a1a1a" stroke-width="1.2"/>
<line x1="101.83" y1="653" x2="101.83" y2="656" stroke="#1a1a1a" stroke-width="1.2"/>
<line x1="116.69" y1="653" x2="116.69" y2="656" stroke="#1a1a1a" stroke-width="1.2"/>
<line x1="131.56" y1="653" x2="131.56" y2="656" stroke="#1a1a1a" stroke-width="1.2"/>
<line x1="146.43" y1="653" x2="146.43" y2="658.6" stroke="#1a1a1a" stroke-width="1.4"/>
<line x1="161.29" y1="653" x2="161.29" y2="656" stroke="#1a1a1a" stroke-width="1.2"/>
<line x1="176.16" y1="653" x2="176.16" y2="656" stroke="#1a1a1a" stroke-width="1.2"/>
<line x1="191.02" y1="653" x2="191.02" y2="656" stroke="#1a1a1a" stroke-width="1.2"/>
<line x1="205.88" y1="653" x2="205.88" y2="656" stroke="#1a1a1a" stroke-width="1.2"/>
<line x1="220.75" y1="653" x2="220.75" y2="658.6" stroke="#1a1a1a" stroke-width="1.4"/>
<line x1="235.62" y1="653" x2="235.62" y2="656" stroke="#1a1a1a" stroke-width="1.2"/>
<line x1="250.48" y1="653" x2="250.48" y2="656" stroke="#1a1a1a" stroke-width="1.2"/>
<line x1="265.35" y1="653" x2="265.35" y2="656" stroke="#1a1a1a" stroke-width="1.2"/>
<line x1="280.21" y1="653" x2="280.21" y2="656" stroke="#1a1a1a" stroke-width="1.2"/>
<line x1="295.08" y1="653" x2="295.08" y2="658.6" stroke="#1a1a1a" stroke-width="1.4"/>
<line x1="309.94" y1="653" x2="309.94" y2="656" stroke="#1a1a1a" stroke-width="1.2"/>
<line x1="324.81" y1="653" x2="324.81" y2="656" stroke="#1a1a1a" stroke-width="1.2"/>
<line x1="339.67" y1="653" x2="339.67" y2="656" stroke="#1a1a1a" stroke-width="1.2"/>
<line x1="354.53" y1="653" x2="354.53" y2="656" stroke="#1a1a1a" stroke-width="1.2"/>
<line x1="369.40" y1="653" x2="369.40" y2="658.6" stroke="#1a1a1a" stroke-width="1.4"/>
<line x1="384.26" y1="653" x2="384.26" y2="656" stroke="#1a1a1a" stroke-width="1.2"/>
<line x1="399.13" y1="653" x2="399.13" y2="656" stroke="#1a1a1a" stroke-width="1.2"/>
<line x1="414.00" y1="653" x2="414.00" y2="656" stroke="#1a1a1a" stroke-width="1.2"/>
<line x1="428.86" y1="653" x2="428.86" y2="656" stroke="#1a1a1a" stroke-width="1.2"/>
<line x1="443.73" y1="653" x2="443.73" y2="658.6" stroke="#1a1a1a" stroke-width="1.4"/>
<line x1="458.59" y1="653" x2="458.59" y2="656" stroke="#1a1a1a" stroke-width="1.2"/>
<line x1="473.46" y1="653" x2="473.46" y2="656" stroke="#1a1a1a" stroke-width="1.2"/>
<line x1="488.32" y1="653" x2="488.32" y2="656" stroke="#1a1a1a" stroke-width="1.2"/>
<line x1="503.19" y1="653" x2="503.19" y2="656" stroke="#1a1a1a" stroke-width="1.2"/>
<line x1="518.05" y1="653" x2="518.05" y2="658.6" stroke="#1a1a1a" stroke-width="1.4"/>
<line x1="532.92" y1="653" x2="532.92" y2="656" stroke="#1a1a1a" stroke-width="1.2"/>
<line x1="547.78" y1="653" x2="547.78" y2="656" stroke="#1a1a1a" stroke-width="1.2"/>
<line x1="562.65" y1="653" x2="562.65" y2="656" stroke="#1a1a1a" stroke-width="1.2"/>
<line x1="577.51" y1="653" x2="577.51" y2="656" stroke="#1a1a1a" stroke-width="1.2"/>
<line x1="592.38" y1="653" x2="592.38" y2="658.6" stroke="#1a1a1a" stroke-width="1.4"/>
<line x1="607.24" y1="653" x2="607.24" y2="656" stroke="#1a1a1a" stroke-width="1.2"/>
<line x1="622.11" y1="653" x2="622.11" y2="656" stroke="#1a1a1a" stroke-width="1.2"/>
<line x1="636.97" y1="653" x2="636.97" y2="656" stroke="#1a1a1a" stroke-width="1.2"/>
<line x1="651.84" y1="653" x2="651.84" y2="656" stroke="#1a1a1a" stroke-width="1.2"/>
<line x1="666.70" y1="653" x2="666.70" y2="658.6" stroke="#1a1a1a" stroke-width="1.4"/>
<line x1="681.57" y1="653" x2="681.57" y2="656" stroke="#1a1a1a" stroke-width="1.2"/>
<text x="64.2" y="655.10" font-size="12.3" text-anchor="end">0</text>
<text x="58.6" y="602.50" font-size="12.3" text-anchor="end" textLength="37.8" lengthAdjust="spacingAndGlyphs">4.0×10</text><text x="58.4" y="597.50" font-size="9.2">3</text>
<text x="58.6" y="549.90" font-size="12.3" text-anchor="end" textLength="37.8" lengthAdjust="spacingAndGlyphs">8.0×10</text><text x="58.4" y="544.90" font-size="9.2">3</text>
<text x="58.6" y="497.30" font-size="12.3" text-anchor="end" textLength="37.8" lengthAdjust="spacingAndGlyphs">1.2×10</text><text x="58.4" y="492.30" font-size="9.2">4</text>
<text x="58.6" y="444.70" font-size="12.3" text-anchor="end" textLength="37.8" lengthAdjust="spacingAndGlyphs">1.6×10</text><text x="58.4" y="439.70" font-size="9.2">4</text>
<text x="72.10" y="670.4" font-size="12.4" text-anchor="middle">0</text>
<text x="146.43" y="670.4" font-size="12.4" text-anchor="middle">0.5</text>
<text x="220.75" y="670.4" font-size="12.4" text-anchor="middle">1.0</text>
<text x="295.08" y="670.4" font-size="12.4" text-anchor="middle">1.5</text>
<text x="369.40" y="670.4" font-size="12.4" text-anchor="middle">2.0</text>
<text x="443.73" y="670.4" font-size="12.4" text-anchor="middle">2.5</text>
<text x="518.05" y="670.4" font-size="12.4" text-anchor="middle">3.0</text>
<text x="592.38" y="670.4" font-size="12.4" text-anchor="middle">3.5</text>
<text x="666.70" y="670.4" font-size="12.4" text-anchor="middle">4.0</text>
<text x="362.9" y="688.2" font-size="12" text-anchor="start" textLength="43.6" lengthAdjust="spacingAndGlyphs" >Time (h)</text>
<text transform="translate(12.6,576) rotate(-90)" font-size="12" textLength="71.5" lengthAdjust="spacingAndGlyphs">Li area (μm<tspan dy="-4.6" font-size="9">2</tspan><tspan dy="4.6">)</tspan></text>
<text x="136.2" y="455.3" font-size="13" text-anchor="start" textLength="38.5" lengthAdjust="spacingAndGlyphs" >Plating</text>
<text x="289.5" y="455" font-size="13" text-anchor="start" textLength="52.7" lengthAdjust="spacingAndGlyphs" >Stripping</text>
<text x="447.6" y="458.5" font-size="13" text-anchor="start" textLength="40.4" lengthAdjust="spacingAndGlyphs" >Plating</text>
<text x="587.8" y="461.9" font-size="13" text-anchor="start" textLength="51.9" lengthAdjust="spacingAndGlyphs" >Stripping</text>
<text x="207" y="441.6" font-size="12" textLength="70" lengthAdjust="spacingAndGlyphs">0.5 mA cm<tspan dy="-4.8" font-size="9">-2</tspan></text>
<text x="513.2" y="439.8" font-size="12" textLength="69" lengthAdjust="spacingAndGlyphs">1.0 mA cm<tspan dy="-4.8" font-size="9">-2</tspan></text>
<polyline points="96.88,650.70 121.65,631.11 146.43,592.84 171.20,545.11 195.98,512.89 220.75,503.55 245.53,490.93 270.30,500.00 295.08,525.25 319.85,563.52 344.62,605.99 369.40,619.10 394.17,628.81 418.95,628.81 443.73,616.19 468.50,576.14 493.27,511.60 518.05,475.50 542.83,455.80 567.60,524.76 592.38,555.23 617.15,602.90 641.93,628.81 666.70,633.61" fill="none" stroke="#1a1a1a" stroke-width="1.4"/>
<circle cx="96.88" cy="650.70" r="3.6" fill="#fff" stroke="#1a1a1a" stroke-width="1.5"/>
<circle cx="121.65" cy="631.11" r="3.6" fill="#fff" stroke="#1a1a1a" stroke-width="1.5"/>
<circle cx="146.43" cy="592.84" r="3.6" fill="#fff" stroke="#1a1a1a" stroke-width="1.5"/>
<circle cx="171.20" cy="545.11" r="3.6" fill="#fff" stroke="#1a1a1a" stroke-width="1.5"/>
<circle cx="195.98" cy="512.89" r="3.6" fill="#fff" stroke="#1a1a1a" stroke-width="1.5"/>
<circle cx="220.75" cy="503.55" r="3.6" fill="#fff" stroke="#1a1a1a" stroke-width="1.5"/>
<circle cx="245.53" cy="490.93" r="3.6" fill="#fff" stroke="#1a1a1a" stroke-width="1.5"/>
<circle cx="270.30" cy="500.00" r="3.6" fill="#fff" stroke="#1a1a1a" stroke-width="1.5"/>
<circle cx="295.08" cy="525.25" r="3.6" fill="#fff" stroke="#1a1a1a" stroke-width="1.5"/>
<circle cx="319.85" cy="563.52" r="3.6" fill="#fff" stroke="#1a1a1a" stroke-width="1.5"/>
<circle cx="344.62" cy="605.99" r="3.6" fill="#fff" stroke="#1a1a1a" stroke-width="1.5"/>
<circle cx="369.40" cy="619.10" r="3.6" fill="#fff" stroke="#1a1a1a" stroke-width="1.5"/>
<circle cx="394.17" cy="628.81" r="3.6" fill="#fff" stroke="#1a1a1a" stroke-width="1.5"/>
<circle cx="418.95" cy="628.81" r="3.6" fill="#fff" stroke="#1a1a1a" stroke-width="1.5"/>
<circle cx="443.73" cy="616.19" r="3.6" fill="#fff" stroke="#1a1a1a" stroke-width="1.5"/>
<circle cx="468.50" cy="576.14" r="3.6" fill="#fff" stroke="#1a1a1a" stroke-width="1.5"/>
<circle cx="493.27" cy="511.60" r="3.6" fill="#fff" stroke="#1a1a1a" stroke-width="1.5"/>
<circle cx="518.05" cy="475.50" r="3.6" fill="#fff" stroke="#1a1a1a" stroke-width="1.5"/>
<circle cx="542.83" cy="455.80" r="3.6" fill="#fff" stroke="#1a1a1a" stroke-width="1.5"/>
<circle cx="567.60" cy="524.76" r="3.6" fill="#fff" stroke="#1a1a1a" stroke-width="1.5"/>
<circle cx="592.38" cy="555.23" r="3.6" fill="#fff" stroke="#1a1a1a" stroke-width="1.5"/>
<circle cx="617.15" cy="602.90" r="3.6" fill="#fff" stroke="#1a1a1a" stroke-width="1.5"/>
<circle cx="641.93" cy="628.81" r="3.6" fill="#fff" stroke="#1a1a1a" stroke-width="1.5"/>
<circle cx="666.70" cy="633.61" r="3.6" fill="#fff" stroke="#1a1a1a" stroke-width="1.5"/>
<polyline points="96.88,650.70 121.65,647.54 146.43,626.70 171.20,595.21 195.98,559.20 220.75,538.60 245.53,529.40 270.30,538.00 295.08,566.41 319.85,599.10 344.62,628.11 369.40,633.39 394.17,627.90 418.95,619.10 443.73,618.00 468.50,611.96 493.27,597.97 518.05,604.00 542.83,592.91 567.60,597.05 592.38,602.20 617.15,613.30 641.93,625.50 666.70,629.40" fill="none" stroke="#ee3d29" stroke-width="1.4"/>
<circle cx="96.88" cy="650.70" r="3.6" fill="#fff" stroke="#ee3d29" stroke-width="1.5"/>
<circle cx="121.65" cy="647.54" r="3.6" fill="#fff" stroke="#ee3d29" stroke-width="1.5"/>
<circle cx="146.43" cy="626.70" r="3.6" fill="#fff" stroke="#ee3d29" stroke-width="1.5"/>
<circle cx="171.20" cy="595.21" r="3.6" fill="#fff" stroke="#ee3d29" stroke-width="1.5"/>
<circle cx="195.98" cy="559.20" r="3.6" fill="#fff" stroke="#ee3d29" stroke-width="1.5"/>
<circle cx="220.75" cy="538.60" r="3.6" fill="#fff" stroke="#ee3d29" stroke-width="1.5"/>
<circle cx="245.53" cy="529.40" r="3.6" fill="#fff" stroke="#ee3d29" stroke-width="1.5"/>
<circle cx="270.30" cy="538.00" r="3.6" fill="#fff" stroke="#ee3d29" stroke-width="1.5"/>
<circle cx="295.08" cy="566.41" r="3.6" fill="#fff" stroke="#ee3d29" stroke-width="1.5"/>
<circle cx="319.85" cy="599.10" r="3.6" fill="#fff" stroke="#ee3d29" stroke-width="1.5"/>
<circle cx="344.62" cy="628.11" r="3.6" fill="#fff" stroke="#ee3d29" stroke-width="1.5"/>
<circle cx="369.40" cy="633.39" r="3.6" fill="#fff" stroke="#ee3d29" stroke-width="1.5"/>
<circle cx="394.17" cy="627.90" r="3.6" fill="#fff" stroke="#ee3d29" stroke-width="1.5"/>
<circle cx="418.95" cy="619.10" r="3.6" fill="#fff" stroke="#ee3d29" stroke-width="1.5"/>
<circle cx="443.73" cy="618.00" r="3.6" fill="#fff" stroke="#ee3d29" stroke-width="1.5"/>
<circle cx="468.50" cy="611.96" r="3.6" fill="#fff" stroke="#ee3d29" stroke-width="1.5"/>
<circle cx="493.27" cy="597.97" r="3.6" fill="#fff" stroke="#ee3d29" stroke-width="1.5"/>
<circle cx="518.05" cy="604.00" r="3.6" fill="#fff" stroke="#ee3d29" stroke-width="1.5"/>
<circle cx="542.83" cy="592.91" r="3.6" fill="#fff" stroke="#ee3d29" stroke-width="1.5"/>
<circle cx="567.60" cy="597.05" r="3.6" fill="#fff" stroke="#ee3d29" stroke-width="1.5"/>
<circle cx="592.38" cy="602.20" r="3.6" fill="#fff" stroke="#ee3d29" stroke-width="1.5"/>
<circle cx="617.15" cy="613.30" r="3.6" fill="#fff" stroke="#ee3d29" stroke-width="1.5"/>
<circle cx="641.93" cy="625.50" r="3.6" fill="#fff" stroke="#ee3d29" stroke-width="1.5"/>
<circle cx="666.70" cy="629.40" r="3.6" fill="#fff" stroke="#ee3d29" stroke-width="1.5"/>
<polyline points="96.88,650.70 121.65,649.91 146.43,643.10 171.20,623.70 195.98,604.95 220.75,580.51 245.53,572.60 270.30,584.10 295.08,607.50 319.85,627.00 344.62,639.65 369.40,640.21 394.17,640.21 418.95,632.89 443.73,627.40 468.50,622.26 493.27,616.10 518.05,616.10 542.83,609.20 567.60,611.85 592.38,617.30 617.15,625.50 641.93,633.61 666.70,636.41" fill="none" stroke="#3f96d0" stroke-width="1.4"/>
<circle cx="96.88" cy="650.70" r="3.6" fill="#fff" stroke="#3f96d0" stroke-width="1.5"/>
<circle cx="121.65" cy="649.91" r="3.6" fill="#fff" stroke="#3f96d0" stroke-width="1.5"/>
<circle cx="146.43" cy="643.10" r="3.6" fill="#fff" stroke="#3f96d0" stroke-width="1.5"/>
<circle cx="171.20" cy="623.70" r="3.6" fill="#fff" stroke="#3f96d0" stroke-width="1.5"/>
<circle cx="195.98" cy="604.95" r="3.6" fill="#fff" stroke="#3f96d0" stroke-width="1.5"/>
<circle cx="220.75" cy="580.51" r="3.6" fill="#fff" stroke="#3f96d0" stroke-width="1.5"/>
<circle cx="245.53" cy="572.60" r="3.6" fill="#fff" stroke="#3f96d0" stroke-width="1.5"/>
<circle cx="270.30" cy="584.10" r="3.6" fill="#fff" stroke="#3f96d0" stroke-width="1.5"/>
<circle cx="295.08" cy="607.50" r="3.6" fill="#fff" stroke="#3f96d0" stroke-width="1.5"/>
<circle cx="319.85" cy="627.00" r="3.6" fill="#fff" stroke="#3f96d0" stroke-width="1.5"/>
<circle cx="344.62" cy="639.65" r="3.6" fill="#fff" stroke="#3f96d0" stroke-width="1.5"/>
<circle cx="369.40" cy="640.21" r="3.6" fill="#fff" stroke="#3f96d0" stroke-width="1.5"/>
<circle cx="394.17" cy="640.21" r="3.6" fill="#fff" stroke="#3f96d0" stroke-width="1.5"/>
<circle cx="418.95" cy="632.89" r="3.6" fill="#fff" stroke="#3f96d0" stroke-width="1.5"/>
<circle cx="443.73" cy="627.40" r="3.6" fill="#fff" stroke="#3f96d0" stroke-width="1.5"/>
<circle cx="468.50" cy="622.26" r="3.6" fill="#fff" stroke="#3f96d0" stroke-width="1.5"/>
<circle cx="493.27" cy="616.10" r="3.6" fill="#fff" stroke="#3f96d0" stroke-width="1.5"/>
<circle cx="518.05" cy="616.10" r="3.6" fill="#fff" stroke="#3f96d0" stroke-width="1.5"/>
<circle cx="542.83" cy="609.20" r="3.6" fill="#fff" stroke="#3f96d0" stroke-width="1.5"/>
<circle cx="567.60" cy="611.85" r="3.6" fill="#fff" stroke="#3f96d0" stroke-width="1.5"/>
<circle cx="592.38" cy="617.30" r="3.6" fill="#fff" stroke="#3f96d0" stroke-width="1.5"/>
<circle cx="617.15" cy="625.50" r="3.6" fill="#fff" stroke="#3f96d0" stroke-width="1.5"/>
<circle cx="641.93" cy="633.61" r="3.6" fill="#fff" stroke="#3f96d0" stroke-width="1.5"/>
<circle cx="666.70" cy="636.41" r="3.6" fill="#fff" stroke="#3f96d0" stroke-width="1.5"/>
<polyline points="96.88,650.70 121.65,650.44 146.43,648.65 171.20,639.76 195.98,626.50 220.75,611.61 245.53,608.50 270.30,611.41 295.08,628.31 319.85,641.30 344.62,646.95 369.40,646.20 394.17,645.30 418.95,641.10 443.73,635.20 468.50,631.95 493.27,621.30 518.05,620.30 542.83,616.10 567.60,620.65 592.38,625.90 617.15,632.50 641.93,638.19 666.70,640.50" fill="none" stroke="#a866c0" stroke-width="1.4"/>
<circle cx="96.88" cy="650.70" r="3.6" fill="#fff" stroke="#a866c0" stroke-width="1.5"/>
<circle cx="121.65" cy="650.44" r="3.6" fill="#fff" stroke="#a866c0" stroke-width="1.5"/>
<circle cx="146.43" cy="648.65" r="3.6" fill="#fff" stroke="#a866c0" stroke-width="1.5"/>
<circle cx="171.20" cy="639.76" r="3.6" fill="#fff" stroke="#a866c0" stroke-width="1.5"/>
<circle cx="195.98" cy="626.50" r="3.6" fill="#fff" stroke="#a866c0" stroke-width="1.5"/>
<circle cx="220.75" cy="611.61" r="3.6" fill="#fff" stroke="#a866c0" stroke-width="1.5"/>
<circle cx="245.53" cy="608.50" r="3.6" fill="#fff" stroke="#a866c0" stroke-width="1.5"/>
<circle cx="270.30" cy="611.41" r="3.6" fill="#fff" stroke="#a866c0" stroke-width="1.5"/>
<circle cx="295.08" cy="628.31" r="3.6" fill="#fff" stroke="#a866c0" stroke-width="1.5"/>
<circle cx="319.85" cy="641.30" r="3.6" fill="#fff" stroke="#a866c0" stroke-width="1.5"/>
<circle cx="344.62" cy="646.95" r="3.6" fill="#fff" stroke="#a866c0" stroke-width="1.5"/>
<circle cx="369.40" cy="646.20" r="3.6" fill="#fff" stroke="#a866c0" stroke-width="1.5"/>
<circle cx="394.17" cy="645.30" r="3.6" fill="#fff" stroke="#a866c0" stroke-width="1.5"/>
<circle cx="418.95" cy="641.10" r="3.6" fill="#fff" stroke="#a866c0" stroke-width="1.5"/>
<circle cx="443.73" cy="635.20" r="3.6" fill="#fff" stroke="#a866c0" stroke-width="1.5"/>
<circle cx="468.50" cy="631.95" r="3.6" fill="#fff" stroke="#a866c0" stroke-width="1.5"/>
<circle cx="493.27" cy="621.30" r="3.6" fill="#fff" stroke="#a866c0" stroke-width="1.5"/>
<circle cx="518.05" cy="620.30" r="3.6" fill="#fff" stroke="#a866c0" stroke-width="1.5"/>
<circle cx="542.83" cy="616.10" r="3.6" fill="#fff" stroke="#a866c0" stroke-width="1.5"/>
<circle cx="567.60" cy="620.65" r="3.6" fill="#fff" stroke="#a866c0" stroke-width="1.5"/>
<circle cx="592.38" cy="625.90" r="3.6" fill="#fff" stroke="#a866c0" stroke-width="1.5"/>
<circle cx="617.15" cy="632.50" r="3.6" fill="#fff" stroke="#a866c0" stroke-width="1.5"/>
<circle cx="641.93" cy="638.19" r="3.6" fill="#fff" stroke="#a866c0" stroke-width="1.5"/>
<circle cx="666.70" cy="640.50" r="3.6" fill="#fff" stroke="#a866c0" stroke-width="1.5"/>
<polyline points="96.88,650.70 121.65,650.70 146.43,649.91 171.20,646.95 195.98,639.76 220.75,629.75 245.53,628.81 270.30,631.11 295.08,640.80 319.85,646.51 344.62,648.95 369.40,648.31 394.17,647.10 418.95,646.60 443.73,644.40 468.50,639.76 493.27,635.20 518.05,634.50 542.83,631.00 567.60,633.55 592.38,637.39 617.15,640.50 641.93,645.20 666.70,646.10" fill="none" stroke="#f7a21b" stroke-width="1.4"/>
<circle cx="96.88" cy="650.70" r="3.6" fill="#fff" stroke="#f7a21b" stroke-width="1.5"/>
<circle cx="121.65" cy="650.70" r="3.6" fill="#fff" stroke="#f7a21b" stroke-width="1.5"/>
<circle cx="146.43" cy="649.91" r="3.6" fill="#fff" stroke="#f7a21b" stroke-width="1.5"/>
<circle cx="171.20" cy="646.95" r="3.6" fill="#fff" stroke="#f7a21b" stroke-width="1.5"/>
<circle cx="195.98" cy="639.76" r="3.6" fill="#fff" stroke="#f7a21b" stroke-width="1.5"/>
<circle cx="220.75" cy="629.75" r="3.6" fill="#fff" stroke="#f7a21b" stroke-width="1.5"/>
<circle cx="245.53" cy="628.81" r="3.6" fill="#fff" stroke="#f7a21b" stroke-width="1.5"/>
<circle cx="270.30" cy="631.11" r="3.6" fill="#fff" stroke="#f7a21b" stroke-width="1.5"/>
<circle cx="295.08" cy="640.80" r="3.6" fill="#fff" stroke="#f7a21b" stroke-width="1.5"/>
<circle cx="319.85" cy="646.51" r="3.6" fill="#fff" stroke="#f7a21b" stroke-width="1.5"/>
<circle cx="344.62" cy="648.95" r="3.6" fill="#fff" stroke="#f7a21b" stroke-width="1.5"/>
<circle cx="369.40" cy="648.31" r="3.6" fill="#fff" stroke="#f7a21b" stroke-width="1.5"/>
<circle cx="394.17" cy="647.10" r="3.6" fill="#fff" stroke="#f7a21b" stroke-width="1.5"/>
<circle cx="418.95" cy="646.60" r="3.6" fill="#fff" stroke="#f7a21b" stroke-width="1.5"/>
<circle cx="443.73" cy="644.40" r="3.6" fill="#fff" stroke="#f7a21b" stroke-width="1.5"/>
<circle cx="468.50" cy="639.76" r="3.6" fill="#fff" stroke="#f7a21b" stroke-width="1.5"/>
<circle cx="493.27" cy="635.20" r="3.6" fill="#fff" stroke="#f7a21b" stroke-width="1.5"/>
<circle cx="518.05" cy="634.50" r="3.6" fill="#fff" stroke="#f7a21b" stroke-width="1.5"/>
<circle cx="542.83" cy="631.00" r="3.6" fill="#fff" stroke="#f7a21b" stroke-width="1.5"/>
<circle cx="567.60" cy="633.55" r="3.6" fill="#fff" stroke="#f7a21b" stroke-width="1.5"/>
<circle cx="592.38" cy="637.39" r="3.6" fill="#fff" stroke="#f7a21b" stroke-width="1.5"/>
<circle cx="617.15" cy="640.50" r="3.6" fill="#fff" stroke="#f7a21b" stroke-width="1.5"/>
<circle cx="641.93" cy="645.20" r="3.6" fill="#fff" stroke="#f7a21b" stroke-width="1.5"/>
<circle cx="666.70" cy="646.10" r="3.6" fill="#fff" stroke="#f7a21b" stroke-width="1.5"/>
<polyline points="96.88,650.70 121.65,650.70 146.43,650.70 171.20,649.19 195.98,646.45 220.75,642.05 245.53,641.30 270.30,641.80 295.08,647.81 319.85,649.60 344.62,649.90 369.40,650.31 394.17,650.31 418.95,649.40 443.73,648.31 468.50,647.81 493.27,644.90 518.05,641.40 542.83,640.00 567.60,643.05 592.38,646.29 617.15,648.40 641.93,649.81 666.70,650.31" fill="none" stroke="#a9b8ee" stroke-width="1.4"/>
<circle cx="96.88" cy="650.70" r="3.6" fill="#fff" stroke="#a9b8ee" stroke-width="1.5"/>
<circle cx="121.65" cy="650.70" r="3.6" fill="#fff" stroke="#a9b8ee" stroke-width="1.5"/>
<circle cx="146.43" cy="650.70" r="3.6" fill="#fff" stroke="#a9b8ee" stroke-width="1.5"/>
<circle cx="171.20" cy="649.19" r="3.6" fill="#fff" stroke="#a9b8ee" stroke-width="1.5"/>
<circle cx="195.98" cy="646.45" r="3.6" fill="#fff" stroke="#a9b8ee" stroke-width="1.5"/>
<circle cx="220.75" cy="642.05" r="3.6" fill="#fff" stroke="#a9b8ee" stroke-width="1.5"/>
<circle cx="245.53" cy="641.30" r="3.6" fill="#fff" stroke="#a9b8ee" stroke-width="1.5"/>
<circle cx="270.30" cy="641.80" r="3.6" fill="#fff" stroke="#a9b8ee" stroke-width="1.5"/>
<circle cx="295.08" cy="647.81" r="3.6" fill="#fff" stroke="#a9b8ee" stroke-width="1.5"/>
<circle cx="319.85" cy="649.60" r="3.6" fill="#fff" stroke="#a9b8ee" stroke-width="1.5"/>
<circle cx="344.62" cy="649.90" r="3.6" fill="#fff" stroke="#a9b8ee" stroke-width="1.5"/>
<circle cx="369.40" cy="650.31" r="3.6" fill="#fff" stroke="#a9b8ee" stroke-width="1.5"/>
<circle cx="394.17" cy="650.31" r="3.6" fill="#fff" stroke="#a9b8ee" stroke-width="1.5"/>
<circle cx="418.95" cy="649.40" r="3.6" fill="#fff" stroke="#a9b8ee" stroke-width="1.5"/>
<circle cx="443.73" cy="648.31" r="3.6" fill="#fff" stroke="#a9b8ee" stroke-width="1.5"/>
<circle cx="468.50" cy="647.81" r="3.6" fill="#fff" stroke="#a9b8ee" stroke-width="1.5"/>
<circle cx="493.27" cy="644.90" r="3.6" fill="#fff" stroke="#a9b8ee" stroke-width="1.5"/>
<circle cx="518.05" cy="641.40" r="3.6" fill="#fff" stroke="#a9b8ee" stroke-width="1.5"/>
<circle cx="542.83" cy="640.00" r="3.6" fill="#fff" stroke="#a9b8ee" stroke-width="1.5"/>
<circle cx="567.60" cy="643.05" r="3.6" fill="#fff" stroke="#a9b8ee" stroke-width="1.5"/>
<circle cx="592.38" cy="646.29" r="3.6" fill="#fff" stroke="#a9b8ee" stroke-width="1.5"/>
<circle cx="617.15" cy="648.40" r="3.6" fill="#fff" stroke="#a9b8ee" stroke-width="1.5"/>
<circle cx="641.93" cy="649.81" r="3.6" fill="#fff" stroke="#a9b8ee" stroke-width="1.5"/>
<circle cx="666.70" cy="650.31" r="3.6" fill="#fff" stroke="#a9b8ee" stroke-width="1.5"/>
<line x1="658.1" y1="438.7" x2="672.4" y2="438.7" stroke="#1a1a1a" stroke-width="1.4"/><circle cx="665.4" cy="438.7" r="3.6" fill="#fff" stroke="#1a1a1a" stroke-width="1.5"/>
<text x="677.2" y="442.9" font-size="12.2">L</text>
<line x1="658.1" y1="453.4" x2="672.4" y2="453.4" stroke="#ee3d29" stroke-width="1.4"/><circle cx="665.4" cy="453.4" r="3.6" fill="#fff" stroke="#ee3d29" stroke-width="1.5"/>
<text x="677.2" y="457.6" font-size="12.2">2L</text>
<line x1="658.1" y1="468" x2="672.4" y2="468" stroke="#3f96d0" stroke-width="1.4"/><circle cx="665.4" cy="468" r="3.6" fill="#fff" stroke="#3f96d0" stroke-width="1.5"/>
<text x="677.2" y="472.2" font-size="12.2">3L</text>
<line x1="658.1" y1="482.7" x2="672.4" y2="482.7" stroke="#a866c0" stroke-width="1.4"/><circle cx="665.4" cy="482.7" r="3.6" fill="#fff" stroke="#a866c0" stroke-width="1.5"/>
<text x="677.2" y="486.9" font-size="12.2">4L</text>
<line x1="658.1" y1="497.5" x2="672.4" y2="497.5" stroke="#f7a21b" stroke-width="1.4"/><circle cx="665.4" cy="497.5" r="3.6" fill="#fff" stroke="#f7a21b" stroke-width="1.5"/>
<text x="677.2" y="501.7" font-size="12.2">5L</text>
<line x1="658.1" y1="512.1" x2="672.4" y2="512.1" stroke="#a9b8ee" stroke-width="1.4"/><circle cx="665.4" cy="512.1" r="3.6" fill="#fff" stroke="#a9b8ee" stroke-width="1.5"/>
<text x="677.2" y="516.3" font-size="12.2">6L</text>
</svg></body></html>
